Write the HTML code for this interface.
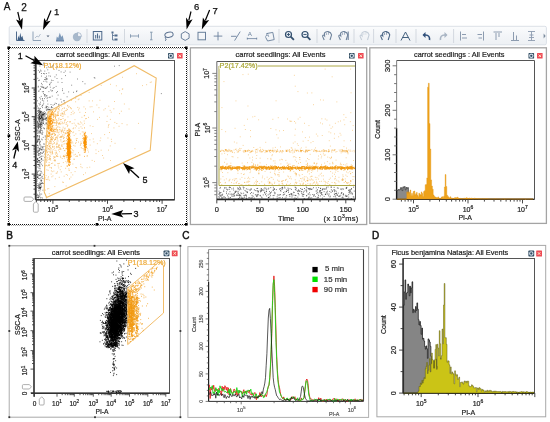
<!DOCTYPE html>
<html><head><meta charset="utf-8"><title>Flow cytometry figure</title>
<style>html,body{margin:0;padding:0;background:#fff;width:550px;height:422px;overflow:hidden}svg{display:block}</style>
</head><body>
<svg width="550" height="422" viewBox="0 0 550 422" font-family="'Liberation Sans', Arial, sans-serif">
<rect x="0" y="0" width="550" height="422" fill="#ffffff" stroke="none" stroke-width="1"/>
<text x="3.8" y="9.9" font-size="10" fill="#111" text-anchor="start" stroke="#111" stroke-width="0.25">A</text>
<text x="6.2" y="238.6" font-size="10" fill="#111" text-anchor="start" stroke="#111" stroke-width="0.45">B</text>
<text x="182.2" y="238.7" font-size="10" fill="#111" text-anchor="start" stroke="#111" stroke-width="0.45">C</text>
<text x="372" y="238.6" font-size="10" fill="#111" text-anchor="start" stroke="#111" stroke-width="0.45">D</text>
<defs><linearGradient id="tb" x1="0" y1="0" x2="0" y2="1"><stop offset="0" stop-color="#fbfcfd"/><stop offset="0.5" stop-color="#f3f5f8"/><stop offset="1" stop-color="#edf0f4"/></linearGradient></defs>
<rect x="9.2" y="26.3" width="537.2" height="18.5" fill="url(#tb)" stroke="#dbe0e7" stroke-width="1" rx="1.5"/>
<line x1="87" y1="29" x2="87" y2="43" stroke="#d3d8df" stroke-width="1"/>
<line x1="124.5" y1="29" x2="124.5" y2="43" stroke="#d3d8df" stroke-width="1"/>
<line x1="279" y1="29" x2="279" y2="43" stroke="#d3d8df" stroke-width="1"/>
<line x1="317" y1="29" x2="317" y2="43" stroke="#d3d8df" stroke-width="1"/>
<line x1="354" y1="29" x2="354" y2="43" stroke="#d3d8df" stroke-width="1"/>
<line x1="373.6" y1="29" x2="373.6" y2="43" stroke="#d3d8df" stroke-width="1"/>
<line x1="396" y1="29" x2="396" y2="43" stroke="#d3d8df" stroke-width="1"/>
<line x1="416" y1="29" x2="416" y2="43" stroke="#d3d8df" stroke-width="1"/>
<line x1="453.6" y1="29" x2="453.6" y2="43" stroke="#d3d8df" stroke-width="1"/>
<path d="M16.5 31.5v9h8" stroke="#4f6a8c" stroke-width="1" fill="none"/>
<path d="M17.5 40.2L18.3 35.5L19.2 38.5L20.3 32.8L21.3 37.5L22.3 35.8L23.5 40.2z" fill="#3f5f86"/>
<path d="M33 31.5v9h8" stroke="#8fa2b8" stroke-width="1" fill="none"/>
<path d="M35 38l2-2 1.5 1 2-3" stroke="#a4b3c4" stroke-width="0.8" fill="none"/>
<path d="M46.5 35.5h3l-1.5 1.8z" fill="#55657a"/>
<path d="M56 41L56.8 36.5L58.2 38L59.8 32.8L61.3 37L62.6 35.3L64 41z" fill="#7d99b9"/>
<path d="M56 41h8" stroke="#5a7598" stroke-width="0.8"/>
<circle cx="77" cy="37" r="4.2" fill="#a7b8cb"/>
<path d="M77.6 36.4V32.4A4.2 4.2 0 0 1 81.6 36.4z" fill="#f4f6f9" stroke="#8fa3ba" stroke-width="0.6"/>
<rect x="93.3" y="31.5" width="8.5" height="8.5" fill="#eef2f6" stroke="#4f6a8c" stroke-width="1"/>
<path d="M95.2 38.5v-3.5h1v3.5zM97 38.5v-5h1v5zM98.8 38.5v-3h1v3z" fill="#4f6a8c"/>
<path d="M111.5 31.5h2v2h-2zM114.5 34.5h3v2h-3zM114.5 38.5h3v2h-3z" fill="#4f6a8c"/>
<path d="M112.5 33.5v6.5h2M112.5 35.5h2" stroke="#4f6a8c" stroke-width="0.8" fill="none"/>
<path d="M130.5 36h8M130.5 34.3v3.4M138.5 34.3v3.4" stroke="#8196ae" stroke-width="0.9" fill="none"/>
<path d="M151.3 32.2v7.6M150 32.2h2.6M150 39.8h2.6" stroke="#8196ae" stroke-width="0.9" fill="none"/>
<ellipse cx="169" cy="34.8" rx="4.2" ry="2.6" transform="rotate(-12 169 34.8)" stroke="#5f7593" stroke-width="1" fill="none"/>
<path d="M165.6 36.4c-0.6 1-0.4 2.2 0.6 2.6l-0.8 1.8" stroke="#5f7593" stroke-width="1" fill="none"/>
<path d="M185.2 31.6l3.9 2.2v4.4l-3.9 2.2-3.9-2.2v-4.4z" stroke="#6a809c" stroke-width="1" fill="none" stroke-linejoin="round"/>
<rect x="198" y="32.3" width="7.5" height="7.5" fill="none" stroke="#6a809c" stroke-width="1"/>
<path d="M218 31.8v8.6M213.7 36.1h8.6" stroke="#6a809c" stroke-width="0.9" fill="none"/>
<path d="M231 36.3h5.5M240.2 31.6l-5.6 9" stroke="#6a809c" stroke-width="0.9" fill="none"/>
<text x="249.8" y="36.4" font-size="6.2" fill="#6a809c" text-anchor="middle" stroke="none">A</text>
<path d="M247 38.6h10M247.3 37.6v2M256.7 37.6v2" stroke="#6a809c" stroke-width="0.8" fill="none"/>
<path d="M266.5 33.6L272.8 32.4L274.2 39.6L267.6 41L265.6 37.2" stroke="#6a809c" stroke-width="0.9" fill="none"/>
<text x="267.3" y="37" font-size="6" fill="#6a809c" text-anchor="middle" stroke="none">A</text>
<circle cx="288.5" cy="34.5" r="3" stroke="#34506f" stroke-width="1.2" fill="#e8eef5"/>
<path d="M290.7 36.7l3.2 3.2" stroke="#34506f" stroke-width="1.8"/>
<path d="M286.9 34.5h3.2" stroke="#34506f" stroke-width="0.9"/>
<path d="M288.5 32.9v3.2" stroke="#34506f" stroke-width="0.9"/>
<circle cx="305" cy="34.5" r="3" stroke="#34506f" stroke-width="1.2" fill="#e8eef5"/>
<path d="M307.2 36.7l3.2 3.2" stroke="#34506f" stroke-width="1.8"/>
<path d="M303.4 34.5h3.2" stroke="#34506f" stroke-width="0.9"/>
<path d="M324.2 40.0L322.6 36.4Q322.4 34.8 323.8 35.2L324.6 36.0L324.4 33.2Q326 31.2 328.2 31.599999999999998Q331 32.2 331.6 34.8L330 40.0" stroke="#6f839c" stroke-width="1.1" fill="none" opacity="1"/>
<path d="M326.4 32.4v2.6M328.4 32.0v2.8" stroke="#6f839c" stroke-width="0.6" opacity="1"/>
<path d="M340.4 40.0L338.8 36.4Q338.59999999999997 34.8 340.0 35.2L340.8 36.0L340.59999999999997 33.2Q342.2 31.2 344.4 31.599999999999998Q347.2 32.2 347.8 34.8L346.2 40.0" stroke="#6f839c" stroke-width="1.1" fill="none" opacity="1"/>
<path d="M342.59999999999997 32.4v2.6M344.59999999999997 32.0v2.8" stroke="#6f839c" stroke-width="0.6" opacity="1"/>
<line x1="348.2" y1="31.5" x2="348.2" y2="40" stroke="#6f839c" stroke-width="1.1"/>
<path d="M361.7 40.0L360.1 36.4Q359.9 34.8 361.3 35.2L362.1 36.0L361.9 33.2Q363.5 31.2 365.7 31.599999999999998Q368.5 32.2 369.1 34.8L367.5 40.0" stroke="#c5ced9" stroke-width="1.1" fill="none" opacity="1"/>
<path d="M363.9 32.4v2.6M365.9 32.0v2.8" stroke="#c5ced9" stroke-width="0.6" opacity="1"/>
<path d="M382.4 40.0L380.8 36.4Q380.59999999999997 34.8 382.0 35.2L382.8 36.0L382.59999999999997 33.2Q384.2 31.2 386.4 31.599999999999998Q389.2 32.2 389.8 34.8L388.2 40.0" stroke="#4a6585" stroke-width="1.1" fill="none" opacity="1"/>
<path d="M384.59999999999997 32.4v2.6M386.59999999999997 32.0v2.8" stroke="#4a6585" stroke-width="0.6" opacity="1"/>
<path d="M401 40.5l4.5-8.5 4.5 8.5M402.5 37.5h6" stroke="#45617f" stroke-width="1" fill="none"/>
<path d="M429.5 40c0.5-3-1-5-4-5h-2" stroke="#2f4f7a" stroke-width="1.6" fill="none"/><path d="M422.5 35l3-3v6z" fill="#2f4f7a"/>
<path d="M440.5 40c-0.5-3 1-5 4-5h2" stroke="#a9b5c4" stroke-width="1.6" fill="none"/><path d="M447.5 35l-3-3v6z" fill="#a9b5c4"/>
<path d="M460.5 31.5v9M462 34.5h4M462 38h5" stroke="#8d9cb0" stroke-width="1" fill="none"/>
<path d="M483.5 31.5v9M477.5 34.5h4.5M478.5 38h3.5" stroke="#8d9cb0" stroke-width="1" fill="none"/>
<path d="M493.5 32h8.5M496 33v7M499 33v4" stroke="#8d9cb0" stroke-width="1" fill="none"/>
<path d="M511 40.5h8M513.5 32v8M516.5 35.5v4.5" stroke="#8d9cb0" stroke-width="1" fill="none"/>
<path d="M528 31.5h7M528 40.5h7M531.5 31.5v9M529.5 35h4M529 37.5h5" stroke="#8d9cb0" stroke-width="0.9" fill="none"/>
<path d="M543.6 33.5l2 2.5-2 2.5z" fill="#7a8a9c"/>
<text x="21.3" y="10.5" font-size="10" fill="#111" text-anchor="start" stroke="#111" stroke-width="0.25">2</text>
<line x1="17.8" y1="12" x2="19.8" y2="20.6" stroke="#000" stroke-width="1.2"/>
<path d="M22.0 29.8L16.0 19.4L19.9 21.0L22.8 17.8z" fill="#000"/>
<text x="54" y="14.5" font-size="9.5" fill="#111" text-anchor="start" stroke="#111" stroke-width="0.25">1</text>
<line x1="51" y1="10.5" x2="46.6" y2="21.2" stroke="#000" stroke-width="1.2"/>
<path d="M43.0 30.0L44.1 18.0L46.4 21.7L50.6 20.7z" fill="#000"/>
<text x="194" y="9.5" font-size="9.5" fill="#111" text-anchor="start" stroke="#111" stroke-width="0.25">6</text>
<line x1="191" y1="11.5" x2="188.8" y2="20.4" stroke="#000" stroke-width="1.2"/>
<path d="M186.6 29.6L186.0 17.6L188.7 20.9L192.6 19.2z" fill="#000"/>
<text x="212.5" y="13.8" font-size="9.5" fill="#111" text-anchor="start" stroke="#111" stroke-width="0.25">7</text>
<line x1="209.6" y1="10" x2="205.3" y2="20.6" stroke="#000" stroke-width="1.2"/>
<path d="M201.8 29.4L202.9 17.5L205.2 21.0L209.2 20.0z" fill="#000"/>
<line x1="8" y1="47.5" x2="187" y2="47.5" stroke="#111" stroke-width="1" stroke-dasharray="1 1"/>
<line x1="8" y1="48.5" x2="187" y2="48.5" stroke="#aaa" stroke-width="1" stroke-dasharray="1 1" stroke-dashoffset="1"/>
<line x1="8" y1="224.5" x2="187" y2="224.5" stroke="#111" stroke-width="1" stroke-dasharray="1 1"/>
<line x1="8" y1="225.5" x2="187" y2="225.5" stroke="#aaa" stroke-width="1" stroke-dasharray="1 1" stroke-dashoffset="1"/>
<line x1="8.5" y1="47" x2="8.5" y2="225" stroke="#111" stroke-width="1" stroke-dasharray="1 1"/>
<line x1="9.5" y1="47" x2="9.5" y2="225" stroke="#bbb" stroke-width="1" stroke-dasharray="1 1" stroke-dashoffset="1"/>
<line x1="186.5" y1="47" x2="186.5" y2="225" stroke="#111" stroke-width="1" stroke-dasharray="1 1"/>
<line x1="187.5" y1="47" x2="187.5" y2="225" stroke="#bbb" stroke-width="1" stroke-dasharray="1 1" stroke-dashoffset="1"/>
<rect x="7.4" y="46.5" width="2.6" height="2.6" fill="#000" stroke="none" stroke-width="1"/>
<rect x="96.2" y="46.5" width="2.6" height="2.6" fill="#000" stroke="none" stroke-width="1"/>
<rect x="185" y="46.5" width="2.6" height="2.6" fill="#000" stroke="none" stroke-width="1"/>
<rect x="7.6" y="134.5" width="2.6" height="2.6" fill="#000" stroke="none" stroke-width="1"/>
<rect x="185" y="134.5" width="2.6" height="2.6" fill="#000" stroke="none" stroke-width="1"/>
<rect x="7.4" y="223" width="2.6" height="2.6" fill="#000" stroke="none" stroke-width="1"/>
<rect x="95.7" y="223" width="2.6" height="2.6" fill="#000" stroke="none" stroke-width="1"/>
<rect x="185" y="223" width="2.6" height="2.6" fill="#000" stroke="none" stroke-width="1"/>
<text x="56" y="57.4" font-size="7.6" fill="#1a1a1a" text-anchor="start" stroke="#1a1a1a" stroke-width="0.2" textLength="88.4" lengthAdjust="spacingAndGlyphs">carrot seedlings: All Events</text>
<rect x="168" y="53" width="5.6" height="5.6" fill="#2e4a5f" stroke="none" stroke-width="1" rx="0.7"/>
<circle cx="170.8" cy="55.8" r="1.7" fill="none" stroke="#d3dfea" stroke-width="1.1"/>
<rect x="177" y="53" width="5.6" height="5.6" fill="#ee4a55" stroke="none" stroke-width="1" rx="0.5"/>
<line x1="178.6" y1="54.6" x2="181" y2="57" stroke="#ffe6c8" stroke-width="1"/>
<line x1="181" y1="54.6" x2="178.6" y2="57" stroke="#ffe6c8" stroke-width="1"/>
<rect x="35.7" y="60.5" width="138.8" height="139.3" fill="none" stroke="#555" stroke-width="1"/>
<line x1="35.7" y1="60.5" x2="35.7" y2="199.8" stroke="#333" stroke-width="1.8"/>
<line x1="35.7" y1="199.8" x2="174.5" y2="199.8" stroke="#333" stroke-width="1.4"/>
<line x1="33.5" y1="194.2" x2="35.7" y2="194.2" stroke="#333" stroke-width="0.9"/>
<line x1="33.5" y1="189.1" x2="35.7" y2="189.1" stroke="#333" stroke-width="0.9"/>
<line x1="33.5" y1="185.5" x2="35.7" y2="185.5" stroke="#333" stroke-width="0.9"/>
<line x1="33.5" y1="182.7" x2="35.7" y2="182.7" stroke="#333" stroke-width="0.9"/>
<line x1="33.5" y1="180.5" x2="35.7" y2="180.5" stroke="#333" stroke-width="0.9"/>
<line x1="33.5" y1="178.5" x2="35.7" y2="178.5" stroke="#333" stroke-width="0.9"/>
<line x1="33.5" y1="176.9" x2="35.7" y2="176.9" stroke="#333" stroke-width="0.9"/>
<line x1="33.5" y1="175.4" x2="35.7" y2="175.4" stroke="#333" stroke-width="0.9"/>
<line x1="31.7" y1="174.1" x2="35.7" y2="174.1" stroke="#333" stroke-width="0.9"/>
<line x1="33.5" y1="165.5" x2="35.7" y2="165.5" stroke="#333" stroke-width="0.9"/>
<line x1="33.5" y1="160.4" x2="35.7" y2="160.4" stroke="#333" stroke-width="0.9"/>
<line x1="33.5" y1="156.8" x2="35.7" y2="156.8" stroke="#333" stroke-width="0.9"/>
<line x1="33.5" y1="154" x2="35.7" y2="154" stroke="#333" stroke-width="0.9"/>
<line x1="33.5" y1="151.8" x2="35.7" y2="151.8" stroke="#333" stroke-width="0.9"/>
<line x1="33.5" y1="149.8" x2="35.7" y2="149.8" stroke="#333" stroke-width="0.9"/>
<line x1="33.5" y1="148.2" x2="35.7" y2="148.2" stroke="#333" stroke-width="0.9"/>
<line x1="33.5" y1="146.7" x2="35.7" y2="146.7" stroke="#333" stroke-width="0.9"/>
<line x1="31.7" y1="145.4" x2="35.7" y2="145.4" stroke="#333" stroke-width="0.9"/>
<line x1="33.5" y1="136.8" x2="35.7" y2="136.8" stroke="#333" stroke-width="0.9"/>
<line x1="33.5" y1="131.7" x2="35.7" y2="131.7" stroke="#333" stroke-width="0.9"/>
<line x1="33.5" y1="128.1" x2="35.7" y2="128.1" stroke="#333" stroke-width="0.9"/>
<line x1="33.5" y1="125.3" x2="35.7" y2="125.3" stroke="#333" stroke-width="0.9"/>
<line x1="33.5" y1="123.1" x2="35.7" y2="123.1" stroke="#333" stroke-width="0.9"/>
<line x1="33.5" y1="121.1" x2="35.7" y2="121.1" stroke="#333" stroke-width="0.9"/>
<line x1="33.5" y1="119.5" x2="35.7" y2="119.5" stroke="#333" stroke-width="0.9"/>
<line x1="33.5" y1="118" x2="35.7" y2="118" stroke="#333" stroke-width="0.9"/>
<line x1="31.7" y1="116.7" x2="35.7" y2="116.7" stroke="#333" stroke-width="0.9"/>
<line x1="33.5" y1="108.1" x2="35.7" y2="108.1" stroke="#333" stroke-width="0.9"/>
<line x1="33.5" y1="103" x2="35.7" y2="103" stroke="#333" stroke-width="0.9"/>
<line x1="33.5" y1="99.4" x2="35.7" y2="99.4" stroke="#333" stroke-width="0.9"/>
<line x1="33.5" y1="96.6" x2="35.7" y2="96.6" stroke="#333" stroke-width="0.9"/>
<line x1="33.5" y1="94.4" x2="35.7" y2="94.4" stroke="#333" stroke-width="0.9"/>
<line x1="33.5" y1="92.4" x2="35.7" y2="92.4" stroke="#333" stroke-width="0.9"/>
<line x1="33.5" y1="90.8" x2="35.7" y2="90.8" stroke="#333" stroke-width="0.9"/>
<line x1="33.5" y1="89.3" x2="35.7" y2="89.3" stroke="#333" stroke-width="0.9"/>
<line x1="31.7" y1="88" x2="35.7" y2="88" stroke="#333" stroke-width="0.9"/>
<line x1="33.5" y1="79.4" x2="35.7" y2="79.4" stroke="#333" stroke-width="0.9"/>
<line x1="33.5" y1="74.3" x2="35.7" y2="74.3" stroke="#333" stroke-width="0.9"/>
<line x1="33.5" y1="70.7" x2="35.7" y2="70.7" stroke="#333" stroke-width="0.9"/>
<line x1="33.5" y1="67.9" x2="35.7" y2="67.9" stroke="#333" stroke-width="0.9"/>
<line x1="33.5" y1="65.7" x2="35.7" y2="65.7" stroke="#333" stroke-width="0.9"/>
<line x1="33.5" y1="63.7" x2="35.7" y2="63.7" stroke="#333" stroke-width="0.9"/>
<line x1="33.5" y1="62.1" x2="35.7" y2="62.1" stroke="#333" stroke-width="0.9"/>
<line x1="33.5" y1="60.6" x2="35.7" y2="60.6" stroke="#333" stroke-width="0.9"/>
<line x1="31.7" y1="59.3" x2="35.7" y2="59.3" stroke="#333" stroke-width="0.9"/>
<line x1="36.5" y1="199.8" x2="36.5" y2="202" stroke="#333" stroke-width="0.9"/>
<line x1="40.8" y1="199.8" x2="40.8" y2="202" stroke="#333" stroke-width="0.9"/>
<line x1="44.4" y1="199.8" x2="44.4" y2="202" stroke="#333" stroke-width="0.9"/>
<line x1="47.6" y1="199.8" x2="47.6" y2="202" stroke="#333" stroke-width="0.9"/>
<line x1="50.4" y1="199.8" x2="50.4" y2="202" stroke="#333" stroke-width="0.9"/>
<line x1="52.9" y1="199.8" x2="52.9" y2="203.8" stroke="#333" stroke-width="0.9"/>
<line x1="69.3" y1="199.8" x2="69.3" y2="202" stroke="#333" stroke-width="0.9"/>
<line x1="79" y1="199.8" x2="79" y2="202" stroke="#333" stroke-width="0.9"/>
<line x1="85.8" y1="199.8" x2="85.8" y2="202" stroke="#333" stroke-width="0.9"/>
<line x1="91.1" y1="199.8" x2="91.1" y2="202" stroke="#333" stroke-width="0.9"/>
<line x1="95.4" y1="199.8" x2="95.4" y2="202" stroke="#333" stroke-width="0.9"/>
<line x1="99" y1="199.8" x2="99" y2="202" stroke="#333" stroke-width="0.9"/>
<line x1="102.2" y1="199.8" x2="102.2" y2="202" stroke="#333" stroke-width="0.9"/>
<line x1="105" y1="199.8" x2="105" y2="202" stroke="#333" stroke-width="0.9"/>
<line x1="107.5" y1="199.8" x2="107.5" y2="203.8" stroke="#333" stroke-width="0.9"/>
<line x1="123.9" y1="199.8" x2="123.9" y2="202" stroke="#333" stroke-width="0.9"/>
<line x1="133.6" y1="199.8" x2="133.6" y2="202" stroke="#333" stroke-width="0.9"/>
<line x1="140.4" y1="199.8" x2="140.4" y2="202" stroke="#333" stroke-width="0.9"/>
<line x1="145.7" y1="199.8" x2="145.7" y2="202" stroke="#333" stroke-width="0.9"/>
<line x1="150" y1="199.8" x2="150" y2="202" stroke="#333" stroke-width="0.9"/>
<line x1="153.6" y1="199.8" x2="153.6" y2="202" stroke="#333" stroke-width="0.9"/>
<line x1="156.8" y1="199.8" x2="156.8" y2="202" stroke="#333" stroke-width="0.9"/>
<line x1="159.6" y1="199.8" x2="159.6" y2="202" stroke="#333" stroke-width="0.9"/>
<line x1="162.1" y1="199.8" x2="162.1" y2="203.8" stroke="#333" stroke-width="0.9"/>
<text x="29.3" y="174.1" font-size="7" fill="#222" stroke="#222" stroke-width="0.2" text-anchor="middle" transform="rotate(-90 29.3 174.1)">10<tspan font-size="5.0" dy="-2.9">3</tspan></text>
<text x="29.3" y="145.4" font-size="7" fill="#222" stroke="#222" stroke-width="0.2" text-anchor="middle" transform="rotate(-90 29.3 145.4)">10<tspan font-size="5.0" dy="-2.9">4</tspan></text>
<text x="29.3" y="116.7" font-size="7" fill="#222" stroke="#222" stroke-width="0.2" text-anchor="middle" transform="rotate(-90 29.3 116.7)">10<tspan font-size="5.0" dy="-2.9">5</tspan></text>
<text x="29.3" y="88" font-size="7" fill="#222" stroke="#222" stroke-width="0.2" text-anchor="middle" transform="rotate(-90 29.3 88)">10<tspan font-size="5.0" dy="-2.9">6</tspan></text>
<text x="52.9" y="212" font-size="7" fill="#222" stroke="#222" stroke-width="0.2" text-anchor="middle">10<tspan font-size="5.0" dy="-2.9">5</tspan></text>
<text x="107.5" y="212" font-size="7" fill="#222" stroke="#222" stroke-width="0.2" text-anchor="middle">10<tspan font-size="5.0" dy="-2.9">6</tspan></text>
<text x="162.1" y="212" font-size="7" fill="#222" stroke="#222" stroke-width="0.2" text-anchor="middle">10<tspan font-size="5.0" dy="-2.9">7</tspan></text>
<text x="19.5" y="130" font-size="7" fill="#222" text-anchor="middle" stroke="#222" stroke-width="0.2" transform="rotate(-90 19.5 130)">SSC-A</text>
<text x="104.7" y="220.7" font-size="7" fill="#222" text-anchor="middle" stroke="#222" stroke-width="0.2">PI-A</text>
<path d="M25 197H31.6L33.7 199.2L31.6 201.4H25Q24 201.4 24 200.4V198Q24 197 25 197z" fill="#fff" stroke="#9a9a9a" stroke-width="0.8"/>
<path d="M33.4 211.2V204L35.8 201.6L38.2 204V211.2Q38.2 212.2 37.2 212.2H34.4Q33.4 212.2 33.4 211.2z" fill="#fff" stroke="#9a9a9a" stroke-width="0.8"/>
<rect x="190.4" y="47.8" width="176.3" height="176.7" fill="none" stroke="#a4a4a4" stroke-width="1.3"/>
<text x="235.5" y="57.4" font-size="7.6" fill="#1a1a1a" text-anchor="start" stroke="#1a1a1a" stroke-width="0.2" textLength="90" lengthAdjust="spacingAndGlyphs">carrot seedlings: All Events</text>
<rect x="349" y="53" width="5.6" height="5.6" fill="#2e4a5f" stroke="none" stroke-width="1" rx="0.7"/>
<circle cx="351.8" cy="55.8" r="1.7" fill="none" stroke="#d3dfea" stroke-width="1.1"/>
<rect x="358" y="53" width="5.6" height="5.6" fill="#ee4a55" stroke="none" stroke-width="1" rx="0.5"/>
<line x1="359.6" y1="54.6" x2="362" y2="57" stroke="#ffe6c8" stroke-width="1"/>
<line x1="362" y1="54.6" x2="359.6" y2="57" stroke="#ffe6c8" stroke-width="1"/>
<path d="M216.8 61.5H355.5V199.4" fill="none" stroke="#555" stroke-width="1"/>
<line x1="216.8" y1="61.5" x2="216.8" y2="199.4" stroke="#808080" stroke-width="1.2"/>
<line x1="216.8" y1="199.4" x2="355.5" y2="199.4" stroke="#222" stroke-width="1.6"/>
<line x1="214.3" y1="194.7" x2="216.8" y2="194.7" stroke="#777" stroke-width="0.9"/>
<line x1="214.3" y1="191.1" x2="216.8" y2="191.1" stroke="#777" stroke-width="0.9"/>
<line x1="214.3" y1="187.9" x2="216.8" y2="187.9" stroke="#777" stroke-width="0.9"/>
<line x1="214.3" y1="185.1" x2="216.8" y2="185.1" stroke="#777" stroke-width="0.9"/>
<line x1="212.3" y1="182.6" x2="216.8" y2="182.6" stroke="#777" stroke-width="0.9"/>
<line x1="214.3" y1="166.2" x2="216.8" y2="166.2" stroke="#777" stroke-width="0.9"/>
<line x1="214.3" y1="156.5" x2="216.8" y2="156.5" stroke="#777" stroke-width="0.9"/>
<line x1="214.3" y1="149.7" x2="216.8" y2="149.7" stroke="#777" stroke-width="0.9"/>
<line x1="214.3" y1="144.4" x2="216.8" y2="144.4" stroke="#777" stroke-width="0.9"/>
<line x1="214.3" y1="140.1" x2="216.8" y2="140.1" stroke="#777" stroke-width="0.9"/>
<line x1="214.3" y1="136.5" x2="216.8" y2="136.5" stroke="#777" stroke-width="0.9"/>
<line x1="214.3" y1="133.3" x2="216.8" y2="133.3" stroke="#777" stroke-width="0.9"/>
<line x1="214.3" y1="130.5" x2="216.8" y2="130.5" stroke="#777" stroke-width="0.9"/>
<line x1="212.3" y1="128" x2="216.8" y2="128" stroke="#777" stroke-width="0.9"/>
<line x1="214.3" y1="111.6" x2="216.8" y2="111.6" stroke="#777" stroke-width="0.9"/>
<line x1="214.3" y1="101.9" x2="216.8" y2="101.9" stroke="#777" stroke-width="0.9"/>
<line x1="214.3" y1="95.1" x2="216.8" y2="95.1" stroke="#777" stroke-width="0.9"/>
<line x1="214.3" y1="89.8" x2="216.8" y2="89.8" stroke="#777" stroke-width="0.9"/>
<line x1="214.3" y1="85.5" x2="216.8" y2="85.5" stroke="#777" stroke-width="0.9"/>
<line x1="214.3" y1="81.9" x2="216.8" y2="81.9" stroke="#777" stroke-width="0.9"/>
<line x1="214.3" y1="78.7" x2="216.8" y2="78.7" stroke="#777" stroke-width="0.9"/>
<line x1="214.3" y1="75.9" x2="216.8" y2="75.9" stroke="#777" stroke-width="0.9"/>
<line x1="212.3" y1="73.4" x2="216.8" y2="73.4" stroke="#777" stroke-width="0.9"/>
<line x1="216.8" y1="199.4" x2="216.8" y2="203.4" stroke="#333" stroke-width="0.9"/>
<line x1="225.4" y1="199.4" x2="225.4" y2="201.9" stroke="#333" stroke-width="0.9"/>
<line x1="234" y1="199.4" x2="234" y2="201.9" stroke="#333" stroke-width="0.9"/>
<line x1="242.6" y1="199.4" x2="242.6" y2="201.9" stroke="#333" stroke-width="0.9"/>
<line x1="251.2" y1="199.4" x2="251.2" y2="201.9" stroke="#333" stroke-width="0.9"/>
<line x1="259.8" y1="199.4" x2="259.8" y2="203.4" stroke="#333" stroke-width="0.9"/>
<line x1="268.4" y1="199.4" x2="268.4" y2="201.9" stroke="#333" stroke-width="0.9"/>
<line x1="277" y1="199.4" x2="277" y2="201.9" stroke="#333" stroke-width="0.9"/>
<line x1="285.6" y1="199.4" x2="285.6" y2="201.9" stroke="#333" stroke-width="0.9"/>
<line x1="294.2" y1="199.4" x2="294.2" y2="201.9" stroke="#333" stroke-width="0.9"/>
<line x1="302.8" y1="199.4" x2="302.8" y2="203.4" stroke="#333" stroke-width="0.9"/>
<line x1="311.4" y1="199.4" x2="311.4" y2="201.9" stroke="#333" stroke-width="0.9"/>
<line x1="320" y1="199.4" x2="320" y2="201.9" stroke="#333" stroke-width="0.9"/>
<line x1="328.6" y1="199.4" x2="328.6" y2="201.9" stroke="#333" stroke-width="0.9"/>
<line x1="337.2" y1="199.4" x2="337.2" y2="201.9" stroke="#333" stroke-width="0.9"/>
<line x1="345.8" y1="199.4" x2="345.8" y2="203.4" stroke="#333" stroke-width="0.9"/>
<line x1="354.4" y1="199.4" x2="354.4" y2="201.9" stroke="#333" stroke-width="0.9"/>
<text x="209.5" y="182.6" font-size="7" fill="#222" stroke="#222" stroke-width="0.2" text-anchor="middle" transform="rotate(-90 209.5 182.6)">10<tspan font-size="5.0" dy="-2.9">5</tspan></text>
<text x="209.5" y="128" font-size="7" fill="#222" stroke="#222" stroke-width="0.2" text-anchor="middle" transform="rotate(-90 209.5 128)">10<tspan font-size="5.0" dy="-2.9">6</tspan></text>
<text x="209.5" y="73.4" font-size="7" fill="#222" stroke="#222" stroke-width="0.2" text-anchor="middle" transform="rotate(-90 209.5 73.4)">10<tspan font-size="5.0" dy="-2.9">7</tspan></text>
<text x="216.8" y="212.3" font-size="7.5" fill="#222" text-anchor="middle" stroke="#222" stroke-width="0.2">0</text>
<text x="259.8" y="212.3" font-size="7.5" fill="#222" text-anchor="middle" stroke="#222" stroke-width="0.2">50</text>
<text x="302.8" y="212.3" font-size="7.5" fill="#222" text-anchor="middle" stroke="#222" stroke-width="0.2">100</text>
<text x="345.8" y="212.3" font-size="7.5" fill="#222" text-anchor="middle" stroke="#222" stroke-width="0.2">150</text>
<text x="200.5" y="129.6" font-size="7" fill="#222" text-anchor="middle" stroke="#222" stroke-width="0.2" transform="rotate(-90 200.5 129.6)">PI-A</text>
<text x="286.3" y="221.3" font-size="7.5" fill="#222" text-anchor="middle" stroke="#222" stroke-width="0.2">Time</text>
<text x="323.6" y="221.3" font-size="7.5" fill="#222" stroke="#222" stroke-width="0.2" letter-spacing="0.35">(x 10<tspan font-size="5" dy="-3">3</tspan><tspan dy="3">ms)</tspan></text>
<rect x="369.8" y="47.8" width="176.6" height="175.6" fill="none" stroke="#a4a4a4" stroke-width="1.3"/>
<text x="414" y="57.4" font-size="7.6" fill="#1a1a1a" text-anchor="start" stroke="#1a1a1a" stroke-width="0.2" textLength="90.5" lengthAdjust="spacingAndGlyphs">carrot seedlings : All Events</text>
<rect x="528.5" y="53" width="5.6" height="5.6" fill="#2e4a5f" stroke="none" stroke-width="1" rx="0.7"/>
<circle cx="531.3" cy="55.8" r="1.7" fill="none" stroke="#d3dfea" stroke-width="1.1"/>
<rect x="537" y="53" width="5.6" height="5.6" fill="#ee4a55" stroke="none" stroke-width="1" rx="0.5"/>
<line x1="538.6" y1="54.6" x2="541" y2="57" stroke="#ffe6c8" stroke-width="1"/>
<line x1="541" y1="54.6" x2="538.6" y2="57" stroke="#ffe6c8" stroke-width="1"/>
<path d="M396.6 60.5H534.5V199.4" fill="none" stroke="#555" stroke-width="1"/>
<line x1="396.6" y1="60.5" x2="396.6" y2="128.2" stroke="#8a8a8a" stroke-width="1.1"/>
<line x1="396.6" y1="128.2" x2="396.6" y2="199.4" stroke="#111" stroke-width="1.4"/>
<line x1="396.6" y1="199.4" x2="534.5" y2="199.4" stroke="#222" stroke-width="1.4"/>
<line x1="392.6" y1="199.2" x2="396.6" y2="199.2" stroke="#666" stroke-width="0.9"/>
<line x1="394.1" y1="190.3" x2="396.6" y2="190.3" stroke="#666" stroke-width="0.9"/>
<line x1="394.1" y1="181.4" x2="396.6" y2="181.4" stroke="#666" stroke-width="0.9"/>
<line x1="394.1" y1="172.5" x2="396.6" y2="172.5" stroke="#666" stroke-width="0.9"/>
<line x1="394.1" y1="163.6" x2="396.6" y2="163.6" stroke="#666" stroke-width="0.9"/>
<line x1="392.6" y1="154.8" x2="396.6" y2="154.8" stroke="#666" stroke-width="0.9"/>
<line x1="394.1" y1="145.9" x2="396.6" y2="145.9" stroke="#666" stroke-width="0.9"/>
<line x1="394.1" y1="137" x2="396.6" y2="137" stroke="#666" stroke-width="0.9"/>
<line x1="394.1" y1="128.1" x2="396.6" y2="128.1" stroke="#666" stroke-width="0.9"/>
<line x1="394.1" y1="119.2" x2="396.6" y2="119.2" stroke="#666" stroke-width="0.9"/>
<line x1="392.6" y1="110.3" x2="396.6" y2="110.3" stroke="#666" stroke-width="0.9"/>
<line x1="394.1" y1="101.4" x2="396.6" y2="101.4" stroke="#666" stroke-width="0.9"/>
<line x1="394.1" y1="92.5" x2="396.6" y2="92.5" stroke="#666" stroke-width="0.9"/>
<line x1="394.1" y1="83.6" x2="396.6" y2="83.6" stroke="#666" stroke-width="0.9"/>
<line x1="394.1" y1="74.7" x2="396.6" y2="74.7" stroke="#666" stroke-width="0.9"/>
<line x1="392.6" y1="65.8" x2="396.6" y2="65.8" stroke="#666" stroke-width="0.9"/>
<line x1="401.4" y1="199.4" x2="401.4" y2="201.6" stroke="#333" stroke-width="0.9"/>
<line x1="405.1" y1="199.4" x2="405.1" y2="201.6" stroke="#333" stroke-width="0.9"/>
<line x1="408.2" y1="199.4" x2="408.2" y2="201.6" stroke="#333" stroke-width="0.9"/>
<line x1="411" y1="199.4" x2="411" y2="201.6" stroke="#333" stroke-width="0.9"/>
<line x1="413.5" y1="199.4" x2="413.5" y2="203.4" stroke="#333" stroke-width="0.9"/>
<line x1="429.9" y1="199.4" x2="429.9" y2="201.6" stroke="#333" stroke-width="0.9"/>
<line x1="439.5" y1="199.4" x2="439.5" y2="201.6" stroke="#333" stroke-width="0.9"/>
<line x1="446.3" y1="199.4" x2="446.3" y2="201.6" stroke="#333" stroke-width="0.9"/>
<line x1="451.6" y1="199.4" x2="451.6" y2="201.6" stroke="#333" stroke-width="0.9"/>
<line x1="455.9" y1="199.4" x2="455.9" y2="201.6" stroke="#333" stroke-width="0.9"/>
<line x1="459.6" y1="199.4" x2="459.6" y2="201.6" stroke="#333" stroke-width="0.9"/>
<line x1="462.7" y1="199.4" x2="462.7" y2="201.6" stroke="#333" stroke-width="0.9"/>
<line x1="465.5" y1="199.4" x2="465.5" y2="201.6" stroke="#333" stroke-width="0.9"/>
<line x1="468" y1="199.4" x2="468" y2="203.4" stroke="#333" stroke-width="0.9"/>
<line x1="484.4" y1="199.4" x2="484.4" y2="201.6" stroke="#333" stroke-width="0.9"/>
<line x1="494" y1="199.4" x2="494" y2="201.6" stroke="#333" stroke-width="0.9"/>
<line x1="500.8" y1="199.4" x2="500.8" y2="201.6" stroke="#333" stroke-width="0.9"/>
<line x1="506.1" y1="199.4" x2="506.1" y2="201.6" stroke="#333" stroke-width="0.9"/>
<line x1="510.4" y1="199.4" x2="510.4" y2="201.6" stroke="#333" stroke-width="0.9"/>
<line x1="514.1" y1="199.4" x2="514.1" y2="201.6" stroke="#333" stroke-width="0.9"/>
<line x1="517.2" y1="199.4" x2="517.2" y2="201.6" stroke="#333" stroke-width="0.9"/>
<line x1="520" y1="199.4" x2="520" y2="201.6" stroke="#333" stroke-width="0.9"/>
<line x1="522.5" y1="199.4" x2="522.5" y2="203.4" stroke="#333" stroke-width="0.9"/>
<text x="389.8" y="199.2" font-size="7.5" fill="#222" text-anchor="middle" stroke="#222" stroke-width="0.2" transform="rotate(-90 389.8 199.2)">0</text>
<text x="389.8" y="154.8" font-size="7.5" fill="#222" text-anchor="middle" stroke="#222" stroke-width="0.2" transform="rotate(-90 389.8 154.8)">100</text>
<text x="389.8" y="110.3" font-size="7.5" fill="#222" text-anchor="middle" stroke="#222" stroke-width="0.2" transform="rotate(-90 389.8 110.3)">200</text>
<text x="389.8" y="65.8" font-size="7.5" fill="#222" text-anchor="middle" stroke="#222" stroke-width="0.2" transform="rotate(-90 389.8 65.8)">300</text>
<text x="413.5" y="211.5" font-size="7" fill="#222" stroke="#222" stroke-width="0.2" text-anchor="middle">10<tspan font-size="5.0" dy="-2.9">5</tspan></text>
<text x="468" y="211.5" font-size="7" fill="#222" stroke="#222" stroke-width="0.2" text-anchor="middle">10<tspan font-size="5.0" dy="-2.9">6</tspan></text>
<text x="522.5" y="211.5" font-size="7" fill="#222" stroke="#222" stroke-width="0.2" text-anchor="middle">10<tspan font-size="5.0" dy="-2.9">7</tspan></text>
<text x="379.6" y="129.5" font-size="7" fill="#222" text-anchor="middle" stroke="#222" stroke-width="0.2" transform="rotate(-90 379.6 129.5)">Count</text>
<text x="465.2" y="220" font-size="7" fill="#222" text-anchor="middle" stroke="#222" stroke-width="0.2">PI-A</text>
<line x1="9.1" y1="245.8" x2="180.4" y2="245.8" stroke="#9a9a9a" stroke-width="1"/>
<line x1="9.3" y1="245.8" x2="9.3" y2="417.2" stroke="#c4c4c4" stroke-width="1.4"/>
<line x1="180.4" y1="245.8" x2="180.4" y2="417.2" stroke="#a0a0a0" stroke-width="1"/>
<line x1="9.1" y1="417.2" x2="180.4" y2="417.2" stroke="#a8a8a8" stroke-width="1"/>
<rect x="8.4" y="244.9" width="1.8" height="1.8" fill="#333" stroke="none" stroke-width="1"/>
<rect x="93.6" y="244.9" width="1.8" height="1.8" fill="#333" stroke="none" stroke-width="1"/>
<rect x="179.5" y="244.9" width="1.8" height="1.8" fill="#333" stroke="none" stroke-width="1"/>
<rect x="8.4" y="330.1" width="1.8" height="1.8" fill="#333" stroke="none" stroke-width="1"/>
<rect x="179.5" y="330.1" width="1.8" height="1.8" fill="#333" stroke="none" stroke-width="1"/>
<rect x="8.4" y="416.3" width="1.8" height="1.8" fill="#333" stroke="none" stroke-width="1"/>
<rect x="94.1" y="416.3" width="1.8" height="1.8" fill="#333" stroke="none" stroke-width="1"/>
<rect x="179.5" y="416.3" width="1.8" height="1.8" fill="#333" stroke="none" stroke-width="1"/>
<text x="51.8" y="255.3" font-size="7.3" fill="#1a1a1a" text-anchor="start" stroke="#1a1a1a" stroke-width="0.2" textLength="88.2" lengthAdjust="spacingAndGlyphs">carrot seedlings: All Events</text>
<rect x="163.6" y="250.5" width="5.8" height="5.8" fill="#2e4a5f" stroke="none" stroke-width="1" rx="0.7"/>
<circle cx="166.5" cy="253.4" r="1.7" fill="none" stroke="#d3dfea" stroke-width="1.1"/>
<rect x="171.8" y="250.5" width="5.8" height="5.8" fill="#ee4a55" stroke="none" stroke-width="1" rx="0.5"/>
<line x1="173.4" y1="252.1" x2="176" y2="254.7" stroke="#ffe6c8" stroke-width="1"/>
<line x1="176" y1="252.1" x2="173.4" y2="254.7" stroke="#ffe6c8" stroke-width="1"/>
<rect x="34" y="258.5" width="135.5" height="134.7" fill="none" stroke="#555" stroke-width="1"/>
<line x1="34" y1="258.5" x2="34" y2="396.7" stroke="#333" stroke-width="1.4"/>
<line x1="31" y1="393.2" x2="169.5" y2="393.2" stroke="#333" stroke-width="1.4"/>
<line x1="30.5" y1="369.1" x2="34" y2="369.1" stroke="#333" stroke-width="0.8"/>
<line x1="57" y1="393.2" x2="57" y2="396.7" stroke="#333" stroke-width="0.8"/>
<line x1="32" y1="363.5" x2="34" y2="363.5" stroke="#333" stroke-width="0.8"/>
<line x1="62.2" y1="393.2" x2="62.2" y2="395.2" stroke="#333" stroke-width="0.8"/>
<line x1="32" y1="360.3" x2="34" y2="360.3" stroke="#333" stroke-width="0.8"/>
<line x1="65.3" y1="393.2" x2="65.3" y2="395.2" stroke="#333" stroke-width="0.8"/>
<line x1="32" y1="358" x2="34" y2="358" stroke="#333" stroke-width="0.8"/>
<line x1="67.4" y1="393.2" x2="67.4" y2="395.2" stroke="#333" stroke-width="0.8"/>
<line x1="32" y1="356.2" x2="34" y2="356.2" stroke="#333" stroke-width="0.8"/>
<line x1="69.1" y1="393.2" x2="69.1" y2="395.2" stroke="#333" stroke-width="0.8"/>
<line x1="32" y1="354.7" x2="34" y2="354.7" stroke="#333" stroke-width="0.8"/>
<line x1="70.5" y1="393.2" x2="70.5" y2="395.2" stroke="#333" stroke-width="0.8"/>
<line x1="32" y1="353.5" x2="34" y2="353.5" stroke="#333" stroke-width="0.8"/>
<line x1="71.6" y1="393.2" x2="71.6" y2="395.2" stroke="#333" stroke-width="0.8"/>
<line x1="32" y1="352.4" x2="34" y2="352.4" stroke="#333" stroke-width="0.8"/>
<line x1="72.6" y1="393.2" x2="72.6" y2="395.2" stroke="#333" stroke-width="0.8"/>
<line x1="32" y1="351.4" x2="34" y2="351.4" stroke="#333" stroke-width="0.8"/>
<line x1="73.5" y1="393.2" x2="73.5" y2="395.2" stroke="#333" stroke-width="0.8"/>
<line x1="30.5" y1="350.6" x2="34" y2="350.6" stroke="#333" stroke-width="0.8"/>
<line x1="74.3" y1="393.2" x2="74.3" y2="396.7" stroke="#333" stroke-width="0.8"/>
<line x1="32" y1="344.6" x2="34" y2="344.6" stroke="#333" stroke-width="0.8"/>
<line x1="80" y1="393.2" x2="80" y2="395.2" stroke="#333" stroke-width="0.8"/>
<line x1="32" y1="341.1" x2="34" y2="341.1" stroke="#333" stroke-width="0.8"/>
<line x1="83.4" y1="393.2" x2="83.4" y2="395.2" stroke="#333" stroke-width="0.8"/>
<line x1="32" y1="338.6" x2="34" y2="338.6" stroke="#333" stroke-width="0.8"/>
<line x1="85.7" y1="393.2" x2="85.7" y2="395.2" stroke="#333" stroke-width="0.8"/>
<line x1="32" y1="336.7" x2="34" y2="336.7" stroke="#333" stroke-width="0.8"/>
<line x1="87.6" y1="393.2" x2="87.6" y2="395.2" stroke="#333" stroke-width="0.8"/>
<line x1="32" y1="335.1" x2="34" y2="335.1" stroke="#333" stroke-width="0.8"/>
<line x1="89.1" y1="393.2" x2="89.1" y2="395.2" stroke="#333" stroke-width="0.8"/>
<line x1="32" y1="333.8" x2="34" y2="333.8" stroke="#333" stroke-width="0.8"/>
<line x1="90.4" y1="393.2" x2="90.4" y2="395.2" stroke="#333" stroke-width="0.8"/>
<line x1="32" y1="332.6" x2="34" y2="332.6" stroke="#333" stroke-width="0.8"/>
<line x1="91.5" y1="393.2" x2="91.5" y2="395.2" stroke="#333" stroke-width="0.8"/>
<line x1="32" y1="331.6" x2="34" y2="331.6" stroke="#333" stroke-width="0.8"/>
<line x1="92.4" y1="393.2" x2="92.4" y2="395.2" stroke="#333" stroke-width="0.8"/>
<line x1="30.5" y1="330.7" x2="34" y2="330.7" stroke="#333" stroke-width="0.8"/>
<line x1="93.3" y1="393.2" x2="93.3" y2="396.7" stroke="#333" stroke-width="0.8"/>
<line x1="32" y1="324.8" x2="34" y2="324.8" stroke="#333" stroke-width="0.8"/>
<line x1="98.7" y1="393.2" x2="98.7" y2="395.2" stroke="#333" stroke-width="0.8"/>
<line x1="32" y1="321.3" x2="34" y2="321.3" stroke="#333" stroke-width="0.8"/>
<line x1="101.8" y1="393.2" x2="101.8" y2="395.2" stroke="#333" stroke-width="0.8"/>
<line x1="32" y1="318.9" x2="34" y2="318.9" stroke="#333" stroke-width="0.8"/>
<line x1="104.1" y1="393.2" x2="104.1" y2="395.2" stroke="#333" stroke-width="0.8"/>
<line x1="32" y1="317" x2="34" y2="317" stroke="#333" stroke-width="0.8"/>
<line x1="105.8" y1="393.2" x2="105.8" y2="395.2" stroke="#333" stroke-width="0.8"/>
<line x1="32" y1="315.4" x2="34" y2="315.4" stroke="#333" stroke-width="0.8"/>
<line x1="107.2" y1="393.2" x2="107.2" y2="395.2" stroke="#333" stroke-width="0.8"/>
<line x1="32" y1="314.1" x2="34" y2="314.1" stroke="#333" stroke-width="0.8"/>
<line x1="108.4" y1="393.2" x2="108.4" y2="395.2" stroke="#333" stroke-width="0.8"/>
<line x1="32" y1="313" x2="34" y2="313" stroke="#333" stroke-width="0.8"/>
<line x1="109.5" y1="393.2" x2="109.5" y2="395.2" stroke="#333" stroke-width="0.8"/>
<line x1="32" y1="312" x2="34" y2="312" stroke="#333" stroke-width="0.8"/>
<line x1="110.4" y1="393.2" x2="110.4" y2="395.2" stroke="#333" stroke-width="0.8"/>
<line x1="30.5" y1="311.1" x2="34" y2="311.1" stroke="#333" stroke-width="0.8"/>
<line x1="111.2" y1="393.2" x2="111.2" y2="396.7" stroke="#333" stroke-width="0.8"/>
<line x1="32" y1="305.6" x2="34" y2="305.6" stroke="#333" stroke-width="0.8"/>
<line x1="116.7" y1="393.2" x2="116.7" y2="395.2" stroke="#333" stroke-width="0.8"/>
<line x1="32" y1="302.3" x2="34" y2="302.3" stroke="#333" stroke-width="0.8"/>
<line x1="119.9" y1="393.2" x2="119.9" y2="395.2" stroke="#333" stroke-width="0.8"/>
<line x1="32" y1="300" x2="34" y2="300" stroke="#333" stroke-width="0.8"/>
<line x1="122.2" y1="393.2" x2="122.2" y2="395.2" stroke="#333" stroke-width="0.8"/>
<line x1="32" y1="298.2" x2="34" y2="298.2" stroke="#333" stroke-width="0.8"/>
<line x1="124" y1="393.2" x2="124" y2="395.2" stroke="#333" stroke-width="0.8"/>
<line x1="32" y1="296.8" x2="34" y2="296.8" stroke="#333" stroke-width="0.8"/>
<line x1="125.4" y1="393.2" x2="125.4" y2="395.2" stroke="#333" stroke-width="0.8"/>
<line x1="32" y1="295.6" x2="34" y2="295.6" stroke="#333" stroke-width="0.8"/>
<line x1="126.7" y1="393.2" x2="126.7" y2="395.2" stroke="#333" stroke-width="0.8"/>
<line x1="32" y1="294.5" x2="34" y2="294.5" stroke="#333" stroke-width="0.8"/>
<line x1="127.7" y1="393.2" x2="127.7" y2="395.2" stroke="#333" stroke-width="0.8"/>
<line x1="32" y1="293.5" x2="34" y2="293.5" stroke="#333" stroke-width="0.8"/>
<line x1="128.7" y1="393.2" x2="128.7" y2="395.2" stroke="#333" stroke-width="0.8"/>
<line x1="30.5" y1="292.7" x2="34" y2="292.7" stroke="#333" stroke-width="0.8"/>
<line x1="129.5" y1="393.2" x2="129.5" y2="396.7" stroke="#333" stroke-width="0.8"/>
<line x1="32" y1="287" x2="34" y2="287" stroke="#333" stroke-width="0.8"/>
<line x1="135" y1="393.2" x2="135" y2="395.2" stroke="#333" stroke-width="0.8"/>
<line x1="32" y1="283.7" x2="34" y2="283.7" stroke="#333" stroke-width="0.8"/>
<line x1="138.2" y1="393.2" x2="138.2" y2="395.2" stroke="#333" stroke-width="0.8"/>
<line x1="32" y1="281.3" x2="34" y2="281.3" stroke="#333" stroke-width="0.8"/>
<line x1="140.5" y1="393.2" x2="140.5" y2="395.2" stroke="#333" stroke-width="0.8"/>
<line x1="32" y1="279.5" x2="34" y2="279.5" stroke="#333" stroke-width="0.8"/>
<line x1="142.3" y1="393.2" x2="142.3" y2="395.2" stroke="#333" stroke-width="0.8"/>
<line x1="32" y1="278" x2="34" y2="278" stroke="#333" stroke-width="0.8"/>
<line x1="143.7" y1="393.2" x2="143.7" y2="395.2" stroke="#333" stroke-width="0.8"/>
<line x1="32" y1="276.7" x2="34" y2="276.7" stroke="#333" stroke-width="0.8"/>
<line x1="145" y1="393.2" x2="145" y2="395.2" stroke="#333" stroke-width="0.8"/>
<line x1="32" y1="275.6" x2="34" y2="275.6" stroke="#333" stroke-width="0.8"/>
<line x1="146" y1="393.2" x2="146" y2="395.2" stroke="#333" stroke-width="0.8"/>
<line x1="32" y1="274.7" x2="34" y2="274.7" stroke="#333" stroke-width="0.8"/>
<line x1="147" y1="393.2" x2="147" y2="395.2" stroke="#333" stroke-width="0.8"/>
<line x1="30.5" y1="273.8" x2="34" y2="273.8" stroke="#333" stroke-width="0.8"/>
<line x1="147.8" y1="393.2" x2="147.8" y2="396.7" stroke="#333" stroke-width="0.8"/>
<line x1="32" y1="268.1" x2="34" y2="268.1" stroke="#333" stroke-width="0.8"/>
<line x1="153.2" y1="393.2" x2="153.2" y2="395.2" stroke="#333" stroke-width="0.8"/>
<line x1="32" y1="264.7" x2="34" y2="264.7" stroke="#333" stroke-width="0.8"/>
<line x1="156.4" y1="393.2" x2="156.4" y2="395.2" stroke="#333" stroke-width="0.8"/>
<line x1="32" y1="262.4" x2="34" y2="262.4" stroke="#333" stroke-width="0.8"/>
<line x1="158.6" y1="393.2" x2="158.6" y2="395.2" stroke="#333" stroke-width="0.8"/>
<line x1="32" y1="260.5" x2="34" y2="260.5" stroke="#333" stroke-width="0.8"/>
<line x1="160.4" y1="393.2" x2="160.4" y2="395.2" stroke="#333" stroke-width="0.8"/>
<line x1="32" y1="259" x2="34" y2="259" stroke="#333" stroke-width="0.8"/>
<line x1="161.8" y1="393.2" x2="161.8" y2="395.2" stroke="#333" stroke-width="0.8"/>
<line x1="163" y1="393.2" x2="163" y2="395.2" stroke="#333" stroke-width="0.8"/>
<line x1="164.1" y1="393.2" x2="164.1" y2="395.2" stroke="#333" stroke-width="0.8"/>
<line x1="165" y1="393.2" x2="165" y2="395.2" stroke="#333" stroke-width="0.8"/>
<line x1="165.8" y1="393.2" x2="165.8" y2="396.7" stroke="#333" stroke-width="0.8"/>
<line x1="30.5" y1="392.9" x2="34" y2="392.9" stroke="#333" stroke-width="0.8"/>
<line x1="34.5" y1="393.2" x2="34.5" y2="396.7" stroke="#333" stroke-width="0.8"/>
<text x="27.4" y="370.6" font-size="6.5" fill="#222" stroke="#222" stroke-width="0.2" text-anchor="middle" transform="rotate(-90 27.4 370.6)">10<tspan font-size="4.7" dy="-2.7">1</tspan></text>
<text x="27.4" y="352.1" font-size="6.5" fill="#222" stroke="#222" stroke-width="0.2" text-anchor="middle" transform="rotate(-90 27.4 352.1)">10<tspan font-size="4.7" dy="-2.7">2</tspan></text>
<text x="27.4" y="332.2" font-size="6.5" fill="#222" stroke="#222" stroke-width="0.2" text-anchor="middle" transform="rotate(-90 27.4 332.2)">10<tspan font-size="4.7" dy="-2.7">3</tspan></text>
<text x="27.4" y="312.6" font-size="6.5" fill="#222" stroke="#222" stroke-width="0.2" text-anchor="middle" transform="rotate(-90 27.4 312.6)">10<tspan font-size="4.7" dy="-2.7">4</tspan></text>
<text x="27.4" y="294.2" font-size="6.5" fill="#222" stroke="#222" stroke-width="0.2" text-anchor="middle" transform="rotate(-90 27.4 294.2)">10<tspan font-size="4.7" dy="-2.7">5</tspan></text>
<text x="27.4" y="275.3" font-size="6.5" fill="#222" stroke="#222" stroke-width="0.2" text-anchor="middle" transform="rotate(-90 27.4 275.3)">10<tspan font-size="4.7" dy="-2.7">6</tspan></text>
<text x="27.4" y="393.4" font-size="6.5" fill="#222" text-anchor="middle" stroke="#222" stroke-width="0.2" transform="rotate(-90 27.4 393.4)">0</text>
<text x="57" y="406" font-size="6.5" fill="#222" stroke="#222" stroke-width="0.2" text-anchor="middle">10<tspan font-size="4.7" dy="-2.7">1</tspan></text>
<text x="74.3" y="406" font-size="6.5" fill="#222" stroke="#222" stroke-width="0.2" text-anchor="middle">10<tspan font-size="4.7" dy="-2.7">2</tspan></text>
<text x="93.3" y="406" font-size="6.5" fill="#222" stroke="#222" stroke-width="0.2" text-anchor="middle">10<tspan font-size="4.7" dy="-2.7">3</tspan></text>
<text x="111.2" y="406" font-size="6.5" fill="#222" stroke="#222" stroke-width="0.2" text-anchor="middle">10<tspan font-size="4.7" dy="-2.7">4</tspan></text>
<text x="129.5" y="406" font-size="6.5" fill="#222" stroke="#222" stroke-width="0.2" text-anchor="middle">10<tspan font-size="4.7" dy="-2.7">5</tspan></text>
<text x="147.8" y="406" font-size="6.5" fill="#222" stroke="#222" stroke-width="0.2" text-anchor="middle">10<tspan font-size="4.7" dy="-2.7">6</tspan></text>
<text x="165.8" y="406" font-size="6.5" fill="#222" stroke="#222" stroke-width="0.2" text-anchor="middle">10<tspan font-size="4.7" dy="-2.7">7</tspan></text>
<text x="34.5" y="406" font-size="6.5" fill="#222" text-anchor="middle" stroke="#222" stroke-width="0.2">0</text>
<text x="19.6" y="324.5" font-size="6.8" fill="#222" text-anchor="middle" stroke="#222" stroke-width="0.2" transform="rotate(-90 19.6 324.5)">SSC-A</text>
<text x="102" y="414.2" font-size="6.8" fill="#222" text-anchor="middle" stroke="#222" stroke-width="0.2">PI-A</text>
<path d="M23.4 384.6H29.4L31.4 386.8L29.4 389H23.4Q22.4 389 22.4 388V385.6Q22.4 384.6 23.4 384.6z" fill="#fff" stroke="#9a9a9a" stroke-width="0.8"/>
<path d="M39.3 404V399.2L41.7 396.8L44.1 399.2V404Q44.1 405 43.1 405H40.3Q39.3 405 39.3 404z" fill="#fff" stroke="#9a9a9a" stroke-width="0.8"/>
<rect x="187.9" y="246.6" width="180.7" height="170.8" fill="none" stroke="#b0b0b0" stroke-width="1"/>
<line x1="208.6" y1="249.5" x2="363.5" y2="249.5" stroke="#9a9a9a" stroke-width="1"/>
<line x1="363.5" y1="249.5" x2="363.5" y2="401.4" stroke="#444" stroke-width="1.1"/>
<line x1="208.6" y1="249.5" x2="208.6" y2="282" stroke="#8a8a8a" stroke-width="1"/>
<line x1="208.6" y1="282" x2="208.6" y2="401.4" stroke="#222" stroke-width="1.2"/>
<line x1="208.6" y1="401.4" x2="363.5" y2="401.4" stroke="#333" stroke-width="1"/>
<line x1="205.6" y1="401.4" x2="208.6" y2="401.4" stroke="#444" stroke-width="0.7"/>
<line x1="206.8" y1="395.9" x2="208.6" y2="395.9" stroke="#444" stroke-width="0.7"/>
<line x1="206.8" y1="390.4" x2="208.6" y2="390.4" stroke="#444" stroke-width="0.7"/>
<line x1="206.8" y1="384.9" x2="208.6" y2="384.9" stroke="#444" stroke-width="0.7"/>
<line x1="206.8" y1="379.4" x2="208.6" y2="379.4" stroke="#444" stroke-width="0.7"/>
<line x1="205.6" y1="373.9" x2="208.6" y2="373.9" stroke="#444" stroke-width="0.7"/>
<line x1="206.8" y1="368.4" x2="208.6" y2="368.4" stroke="#444" stroke-width="0.7"/>
<line x1="206.8" y1="362.9" x2="208.6" y2="362.9" stroke="#444" stroke-width="0.7"/>
<line x1="206.8" y1="357.4" x2="208.6" y2="357.4" stroke="#444" stroke-width="0.7"/>
<line x1="206.8" y1="351.9" x2="208.6" y2="351.9" stroke="#444" stroke-width="0.7"/>
<line x1="205.6" y1="346.4" x2="208.6" y2="346.4" stroke="#444" stroke-width="0.7"/>
<line x1="206.8" y1="340.9" x2="208.6" y2="340.9" stroke="#444" stroke-width="0.7"/>
<line x1="206.8" y1="335.4" x2="208.6" y2="335.4" stroke="#444" stroke-width="0.7"/>
<line x1="206.8" y1="329.9" x2="208.6" y2="329.9" stroke="#444" stroke-width="0.7"/>
<line x1="206.8" y1="324.4" x2="208.6" y2="324.4" stroke="#444" stroke-width="0.7"/>
<line x1="205.6" y1="318.9" x2="208.6" y2="318.9" stroke="#444" stroke-width="0.7"/>
<line x1="206.8" y1="313.4" x2="208.6" y2="313.4" stroke="#444" stroke-width="0.7"/>
<line x1="206.8" y1="307.9" x2="208.6" y2="307.9" stroke="#444" stroke-width="0.7"/>
<line x1="206.8" y1="302.4" x2="208.6" y2="302.4" stroke="#444" stroke-width="0.7"/>
<line x1="206.8" y1="296.9" x2="208.6" y2="296.9" stroke="#444" stroke-width="0.7"/>
<line x1="205.6" y1="291.4" x2="208.6" y2="291.4" stroke="#444" stroke-width="0.7"/>
<line x1="206.8" y1="285.9" x2="208.6" y2="285.9" stroke="#444" stroke-width="0.7"/>
<line x1="206.8" y1="280.4" x2="208.6" y2="280.4" stroke="#444" stroke-width="0.7"/>
<line x1="206.8" y1="274.9" x2="208.6" y2="274.9" stroke="#444" stroke-width="0.7"/>
<line x1="206.8" y1="269.4" x2="208.6" y2="269.4" stroke="#444" stroke-width="0.7"/>
<line x1="205.6" y1="263.9" x2="208.6" y2="263.9" stroke="#444" stroke-width="0.7"/>
<line x1="206.8" y1="258.4" x2="208.6" y2="258.4" stroke="#444" stroke-width="0.7"/>
<line x1="206.8" y1="252.9" x2="208.6" y2="252.9" stroke="#444" stroke-width="0.7"/>
<line x1="217" y1="401.4" x2="217" y2="403.2" stroke="#444" stroke-width="0.7"/>
<line x1="224.3" y1="401.4" x2="224.3" y2="403.2" stroke="#444" stroke-width="0.7"/>
<line x1="230.6" y1="401.4" x2="230.6" y2="403.2" stroke="#444" stroke-width="0.7"/>
<line x1="236.2" y1="401.4" x2="236.2" y2="403.2" stroke="#444" stroke-width="0.7"/>
<line x1="241.2" y1="401.4" x2="241.2" y2="404.4" stroke="#444" stroke-width="0.7"/>
<line x1="274.1" y1="401.4" x2="274.1" y2="403.2" stroke="#444" stroke-width="0.7"/>
<line x1="293.3" y1="401.4" x2="293.3" y2="403.2" stroke="#444" stroke-width="0.7"/>
<line x1="306.9" y1="401.4" x2="306.9" y2="403.2" stroke="#444" stroke-width="0.7"/>
<line x1="317.5" y1="401.4" x2="317.5" y2="403.2" stroke="#444" stroke-width="0.7"/>
<line x1="326.2" y1="401.4" x2="326.2" y2="403.2" stroke="#444" stroke-width="0.7"/>
<line x1="333.5" y1="401.4" x2="333.5" y2="403.2" stroke="#444" stroke-width="0.7"/>
<line x1="339.8" y1="401.4" x2="339.8" y2="403.2" stroke="#444" stroke-width="0.7"/>
<line x1="345.4" y1="401.4" x2="345.4" y2="403.2" stroke="#444" stroke-width="0.7"/>
<line x1="350.4" y1="401.4" x2="350.4" y2="404.4" stroke="#444" stroke-width="0.7"/>
<text x="203.3" y="401.4" font-size="5" fill="#555" text-anchor="middle" stroke="#555" stroke-width="0.2" transform="rotate(-90 203.3 401.4)">0</text>
<text x="203.3" y="373.9" font-size="5" fill="#555" text-anchor="middle" stroke="#555" stroke-width="0.2" transform="rotate(-90 203.3 373.9)">50</text>
<text x="203.3" y="346.4" font-size="5" fill="#555" text-anchor="middle" stroke="#555" stroke-width="0.2" transform="rotate(-90 203.3 346.4)">100</text>
<text x="203.3" y="318.9" font-size="5" fill="#555" text-anchor="middle" stroke="#555" stroke-width="0.2" transform="rotate(-90 203.3 318.9)">150</text>
<text x="203.3" y="291.4" font-size="5" fill="#555" text-anchor="middle" stroke="#555" stroke-width="0.2" transform="rotate(-90 203.3 291.4)">200</text>
<text x="203.3" y="263.9" font-size="5" fill="#555" text-anchor="middle" stroke="#555" stroke-width="0.2" transform="rotate(-90 203.3 263.9)">250</text>
<text x="195.8" y="324.6" font-size="5.6" fill="#444" text-anchor="middle" stroke="#444" stroke-width="0.2" transform="rotate(-90 195.8 324.6)">Count</text>
<text x="241.2" y="411.6" font-size="5.5" fill="#555" stroke="#555" stroke-width="0.2" text-anchor="middle">10<tspan font-size="4.0" dy="-2.3">5</tspan></text>
<text x="351.9" y="411.6" font-size="5.5" fill="#555" stroke="#555" stroke-width="0.2" text-anchor="middle">10<tspan font-size="4.0" dy="-2.3">6</tspan></text>
<text x="334.2" y="416.4" font-size="5.4" fill="#555" text-anchor="middle" stroke="#555" stroke-width="0.2">PI-A</text>
<rect x="312.4" y="266.9" width="5.3" height="5.4" fill="#000" stroke="none" stroke-width="1"/>
<rect x="312.4" y="276.6" width="5.3" height="5.4" fill="#00e000" stroke="none" stroke-width="1"/>
<rect x="312.4" y="286.9" width="5.3" height="5.4" fill="#f00000" stroke="none" stroke-width="1"/>
<text x="325" y="271.4" font-size="7.8" fill="#333" text-anchor="start" stroke="#333" stroke-width="0.2">5 min</text>
<text x="323.8" y="281.9" font-size="7.8" fill="#333" text-anchor="start" stroke="#333" stroke-width="0.2">15 min</text>
<text x="323.8" y="292.3" font-size="7.8" fill="#333" text-anchor="start" stroke="#333" stroke-width="0.2">90 min</text>
<rect x="376.9" y="245.4" width="168.8" height="171.4" fill="none" stroke="#a8a8a8" stroke-width="1"/>
<text x="391.4" y="254.9" font-size="7.4" fill="#1a1a1a" text-anchor="start" stroke="#1a1a1a" stroke-width="0.2" textLength="116.9" lengthAdjust="spacingAndGlyphs">Ficus benjamina Natasja: All Events</text>
<rect x="528.4" y="250.6" width="5.8" height="5.8" fill="#2e4a5f" stroke="none" stroke-width="1" rx="0.7"/>
<circle cx="531.3" cy="253.5" r="1.7" fill="none" stroke="#d3dfea" stroke-width="1.1"/>
<rect x="536.2" y="250.6" width="5.8" height="5.8" fill="#ee4a55" stroke="none" stroke-width="1" rx="0.5"/>
<line x1="537.8" y1="252.2" x2="540.4" y2="254.8" stroke="#ffe6c8" stroke-width="1"/>
<line x1="540.4" y1="252.2" x2="537.8" y2="254.8" stroke="#ffe6c8" stroke-width="1"/>
<rect x="403.1" y="258.5" width="131.4" height="134.6" fill="none" stroke="#555" stroke-width="1"/>
<line x1="403.1" y1="258.5" x2="403.1" y2="393.1" stroke="#333" stroke-width="1.4"/>
<line x1="403.1" y1="393.1" x2="534.5" y2="393.1" stroke="#333" stroke-width="1.4"/>
<line x1="399.1" y1="393.1" x2="403.1" y2="393.1" stroke="#333" stroke-width="0.9"/>
<line x1="400.6" y1="371.6" x2="403.1" y2="371.6" stroke="#333" stroke-width="0.9"/>
<line x1="399.1" y1="350.1" x2="403.1" y2="350.1" stroke="#333" stroke-width="0.9"/>
<line x1="400.6" y1="328.6" x2="403.1" y2="328.6" stroke="#333" stroke-width="0.9"/>
<line x1="399.1" y1="307.1" x2="403.1" y2="307.1" stroke="#333" stroke-width="0.9"/>
<line x1="400.6" y1="285.6" x2="403.1" y2="285.6" stroke="#333" stroke-width="0.9"/>
<line x1="399.1" y1="264.1" x2="403.1" y2="264.1" stroke="#333" stroke-width="0.9"/>
<line x1="404.1" y1="393.1" x2="404.1" y2="395.3" stroke="#333" stroke-width="0.9"/>
<line x1="408.6" y1="393.1" x2="408.6" y2="395.3" stroke="#333" stroke-width="0.9"/>
<line x1="412.4" y1="393.1" x2="412.4" y2="395.3" stroke="#333" stroke-width="0.9"/>
<line x1="415.7" y1="393.1" x2="415.7" y2="395.3" stroke="#333" stroke-width="0.9"/>
<line x1="418.6" y1="393.1" x2="418.6" y2="395.3" stroke="#333" stroke-width="0.9"/>
<line x1="421.2" y1="393.1" x2="421.2" y2="397.1" stroke="#333" stroke-width="0.9"/>
<line x1="438.3" y1="393.1" x2="438.3" y2="395.3" stroke="#333" stroke-width="0.9"/>
<line x1="448.3" y1="393.1" x2="448.3" y2="395.3" stroke="#333" stroke-width="0.9"/>
<line x1="455.4" y1="393.1" x2="455.4" y2="395.3" stroke="#333" stroke-width="0.9"/>
<line x1="460.9" y1="393.1" x2="460.9" y2="395.3" stroke="#333" stroke-width="0.9"/>
<line x1="465.4" y1="393.1" x2="465.4" y2="395.3" stroke="#333" stroke-width="0.9"/>
<line x1="469.2" y1="393.1" x2="469.2" y2="395.3" stroke="#333" stroke-width="0.9"/>
<line x1="472.5" y1="393.1" x2="472.5" y2="395.3" stroke="#333" stroke-width="0.9"/>
<line x1="475.4" y1="393.1" x2="475.4" y2="395.3" stroke="#333" stroke-width="0.9"/>
<line x1="478" y1="393.1" x2="478" y2="397.1" stroke="#333" stroke-width="0.9"/>
<line x1="495.1" y1="393.1" x2="495.1" y2="395.3" stroke="#333" stroke-width="0.9"/>
<line x1="505.1" y1="393.1" x2="505.1" y2="395.3" stroke="#333" stroke-width="0.9"/>
<line x1="512.2" y1="393.1" x2="512.2" y2="395.3" stroke="#333" stroke-width="0.9"/>
<line x1="517.7" y1="393.1" x2="517.7" y2="395.3" stroke="#333" stroke-width="0.9"/>
<line x1="522.2" y1="393.1" x2="522.2" y2="395.3" stroke="#333" stroke-width="0.9"/>
<line x1="526" y1="393.1" x2="526" y2="395.3" stroke="#333" stroke-width="0.9"/>
<line x1="529.3" y1="393.1" x2="529.3" y2="395.3" stroke="#333" stroke-width="0.9"/>
<line x1="532.2" y1="393.1" x2="532.2" y2="395.3" stroke="#333" stroke-width="0.9"/>
<line x1="534.8" y1="393.1" x2="534.8" y2="397.1" stroke="#333" stroke-width="0.9"/>
<text x="396.2" y="393.1" font-size="7.3" fill="#222" text-anchor="middle" stroke="#222" stroke-width="0.2" transform="rotate(-90 396.2 393.1)">0</text>
<text x="396.2" y="350.1" font-size="7.3" fill="#222" text-anchor="middle" stroke="#222" stroke-width="0.2" transform="rotate(-90 396.2 350.1)">20</text>
<text x="396.2" y="307.1" font-size="7.3" fill="#222" text-anchor="middle" stroke="#222" stroke-width="0.2" transform="rotate(-90 396.2 307.1)">40</text>
<text x="396.2" y="264.1" font-size="7.3" fill="#222" text-anchor="middle" stroke="#222" stroke-width="0.2" transform="rotate(-90 396.2 264.1)">60</text>
<text x="421.2" y="405.5" font-size="7" fill="#222" stroke="#222" stroke-width="0.2" text-anchor="middle">10<tspan font-size="5.0" dy="-2.9">5</tspan></text>
<text x="478" y="405.5" font-size="7" fill="#222" stroke="#222" stroke-width="0.2" text-anchor="middle">10<tspan font-size="5.0" dy="-2.9">6</tspan></text>
<text x="386" y="324.6" font-size="7" fill="#222" text-anchor="middle" stroke="#222" stroke-width="0.2" transform="rotate(-90 386 324.6)">Count</text>
<text x="468.3" y="414.8" font-size="7" fill="#222" text-anchor="middle" stroke="#222" stroke-width="0.2">PI-A</text>
<path stroke="#1a1a1a" stroke-opacity="0.75" stroke-width="0.8" fill="none" d="M40.3 118.4h0.8M42.6 120.5h0.8M39.3 116.5h0.8M40.4 112.2h0.8M36.6 115.2h0.8M39.6 111.5h0.8M42.8 118.8h0.8M40.1 127.8h0.8M43.0 115.0h0.8M43.0 114.1h0.8M37.3 121.8h0.8M40.8 120.9h0.8M44.5 119.1h0.8M39.9 118.2h0.8M42.8 123.3h0.8M47.6 109.0h0.8M39.3 115.2h0.8M58.0 105.1h0.8M47.3 109.4h0.8M42.2 105.5h0.8M37.7 116.8h0.8M48.1 109.5h0.8M40.9 120.3h0.8M38.4 119.5h0.8M40.9 117.1h0.8M37.2 100.8h0.8M42.4 114.6h0.8M38.3 118.1h0.8M38.9 119.2h0.8M50.8 107.7h0.8M42.4 115.1h0.8M37.8 111.6h0.8M44.9 112.7h0.8M41.8 125.8h0.8M41.9 112.7h0.8M45.7 118.2h0.8M38.3 124.6h0.8M43.9 114.3h0.8M45.9 117.6h0.8M42.9 119.2h0.8M40.5 118.8h0.8M51.1 109.8h0.8M40.3 118.9h0.8M42.8 127.9h0.8M46.3 107.6h0.8M41.4 124.4h0.8M41.1 119.2h0.8M39.2 113.9h0.8M42.4 132.4h0.8M42.4 123.7h0.8M46.1 118.9h0.8M39.7 122.4h0.8M38.8 117.1h0.8M38.6 123.2h0.8M39.3 117.9h0.8M37.3 123.1h0.8M46.5 128.5h0.8M43.8 113.7h0.8M45.3 119.8h0.8M41.6 115.2h0.8M43.1 119.3h0.8M48.5 110.1h0.8M41.8 114.3h0.8M41.2 117.0h0.8M44.5 124.7h0.8M39.3 126.4h0.8M41.3 122.9h0.8M50.6 104.5h0.8M41.9 115.2h0.8M42.7 117.7h0.8M39.8 127.2h0.8M45.4 123.2h0.8M43.0 116.1h0.8M44.7 115.8h0.8M40.9 116.6h0.8M40.4 129.1h0.8M40.7 115.4h0.8M47.5 116.3h0.8M38.8 120.9h0.8M37.6 117.6h0.8M39.2 117.0h0.8M38.1 110.6h0.8M42.1 118.3h0.8M37.7 115.3h0.8M38.1 126.6h0.8M42.9 123.0h0.8M46.3 118.2h0.8M37.0 123.1h0.8M41.5 116.0h0.8M37.6 125.8h0.8M40.6 118.4h0.8M40.8 122.5h0.8M38.7 109.4h0.8M41.9 120.8h0.8M46.4 106.6h0.8M40.1 104.2h0.8M38.8 116.3h0.8M38.4 112.1h0.8M42.1 119.5h0.8M41.8 134.1h0.8M39.5 112.6h0.8M39.8 114.0h0.8M39.3 119.8h0.8M37.2 121.9h0.8M44.6 117.2h0.8M39.0 117.0h0.8M43.2 123.3h0.8M41.4 122.0h0.8M39.1 111.2h0.8M47.6 117.8h0.8M37.6 118.6h0.8M37.2 111.0h0.8M37.7 120.2h0.8M40.0 112.4h0.8M38.4 125.2h0.8M42.9 119.7h0.8M40.1 119.0h0.8M41.5 114.3h0.8M39.0 117.6h0.8M54.0 104.4h0.8M37.9 110.5h0.8M39.4 120.9h0.8M38.6 103.5h0.8M40.7 124.3h0.8M45.7 106.2h0.8M46.2 123.7h0.8M39.9 112.5h0.8M38.0 123.9h0.8M39.0 119.3h0.8M42.0 107.6h0.8M39.9 127.1h0.8M37.9 128.5h0.8M41.5 117.9h0.8M40.8 116.5h0.8M37.7 117.3h0.8M43.9 111.6h0.8M39.6 126.1h0.8M42.5 114.6h0.8M41.8 118.0h0.8M38.9 112.8h0.8M45.1 114.0h0.8M49.6 109.5h0.8M37.6 127.2h0.8M38.9 125.2h0.8M44.8 118.5h0.8M43.9 113.5h0.8M41.7 116.1h0.8M43.3 114.5h0.8M40.0 118.5h0.8M38.4 115.8h0.8M47.3 116.3h0.8M38.1 112.8h0.8M39.7 130.0h0.8M44.3 113.7h0.8M40.0 111.0h0.8M38.8 120.8h0.8M40.8 128.3h0.8M37.8 108.2h0.8M42.0 116.9h0.8M42.6 114.0h0.8M37.1 106.1h0.8M40.4 123.5h0.8M39.8 118.2h0.8M41.9 118.9h0.8M39.5 113.1h0.8M39.3 121.6h0.8M38.9 114.6h0.8M41.6 117.4h0.8M46.5 110.6h0.8M45.9 109.9h0.8M38.0 127.7h0.8M38.2 114.9h0.8M46.1 120.4h0.8M39.7 118.2h0.8M40.4 115.3h0.8M42.8 114.8h0.8M39.3 116.3h0.8M41.1 117.3h0.8M39.6 118.6h0.8M41.2 126.6h0.8M38.2 123.2h0.8M40.7 121.1h0.8M39.7 108.7h0.8M40.1 125.0h0.8M40.7 125.2h0.8M46.8 117.4h0.8M42.4 122.2h0.8M39.5 123.9h0.8M39.6 124.2h0.8M41.5 124.8h0.8M41.2 115.2h0.8M37.7 129.0h0.8M49.2 109.7h0.8M46.8 124.4h0.8M39.4 121.9h0.8M37.3 124.5h0.8M39.0 131.6h0.8M44.0 128.8h0.8M39.0 110.4h0.8M57.8 106.6h0.8M41.2 124.1h0.8M39.7 111.3h0.8M38.8 118.3h0.8M40.4 124.3h0.8M51.1 106.9h0.8M56.0 103.6h0.8M42.2 120.2h0.8M38.4 118.7h0.8M40.5 116.7h0.8M44.7 118.7h0.8M43.0 112.4h0.8M44.8 107.8h0.8M41.1 117.2h0.8M39.5 111.6h0.8M51.1 106.9h0.8M37.5 121.9h0.8M42.7 118.0h0.8M43.3 121.2h0.8M40.9 111.5h0.8M39.5 113.8h0.8M41.4 111.4h0.8M40.4 112.2h0.8M39.5 183.8h0.8M49.0 84.4h0.8M39.5 66.0h0.8M38.3 150.9h0.8M48.5 91.6h0.8M41.3 139.1h0.8M39.6 190.9h0.8M42.7 114.0h0.8M66.7 96.8h0.8M47.0 124.5h0.8M38.0 151.8h0.8M41.0 76.1h0.8M46.1 114.2h0.8M38.1 80.6h0.8M42.7 152.5h0.8M39.3 175.4h0.8M39.7 113.7h0.8M42.4 113.0h0.8M44.8 135.8h0.8M57.2 91.6h0.8M46.4 96.0h0.8M48.4 107.3h0.8M39.0 124.6h0.8M41.2 73.5h0.8M39.5 164.8h0.8M39.8 141.2h0.8M43.3 103.2h0.8M48.5 72.9h0.8M38.9 166.2h0.8M51.1 80.2h0.8M52.6 80.5h0.8M39.0 80.2h0.8M45.9 73.5h0.8M38.5 185.7h0.8M40.1 99.0h0.8M47.5 104.1h0.8M42.8 146.7h0.8M43.1 87.9h0.8M41.8 182.6h0.8M37.1 113.5h0.8M41.0 159.1h0.8M65.2 75.6h0.8M39.0 161.3h0.8M38.3 168.0h0.8M43.5 174.7h0.8M39.7 154.1h0.8M41.1 112.8h0.8M44.4 71.1h0.8M44.7 88.4h0.8M46.7 98.6h0.8M41.3 164.2h0.8M38.4 184.3h0.8M44.0 79.5h0.8M46.4 87.5h0.8M40.4 171.1h0.8M45.5 150.1h0.8M38.5 160.5h0.8M42.1 198.0h0.8M38.7 190.1h0.8M41.4 177.1h0.8M39.5 168.1h0.8M42.6 149.6h0.8M41.6 87.5h0.8M42.0 165.7h0.8M38.6 160.5h0.8M46.1 122.9h0.8M41.1 113.8h0.8M44.5 119.5h0.8M44.0 66.9h0.8M37.0 177.2h0.8M38.6 115.1h0.8M44.9 136.9h0.8M39.4 160.5h0.8M39.1 114.3h0.8M39.9 175.4h0.8M37.1 187.4h0.8M40.2 115.1h0.8M45.5 81.1h0.8M36.7 197.4h0.8M61.6 82.5h0.8M43.9 174.6h0.8M40.5 187.6h0.8M46.5 79.2h0.8M55.9 74.9h0.8M38.9 196.8h0.8M37.4 78.3h0.8M40.6 86.4h0.8M37.0 140.6h0.8M40.3 123.1h0.8M37.5 164.5h0.8M52.7 88.3h0.8M40.4 186.8h0.8M68.3 91.9h0.8M37.3 167.0h0.8M39.4 71.6h0.8M39.9 126.8h0.8M47.9 66.8h0.8M52.7 105.1h0.8M39.1 104.9h0.8M42.6 160.3h0.8M39.9 124.3h0.8M40.3 70.1h0.8M45.9 197.8h0.8M41.8 183.3h0.8M38.8 187.0h0.8M44.0 95.9h0.8M44.0 116.0h0.8M63.5 93.3h0.8M45.4 79.4h0.8M44.1 66.9h0.8M42.1 130.9h0.8M45.6 79.1h0.8M55.7 86.4h0.8M40.8 128.3h0.8M42.6 87.4h0.8M41.9 153.5h0.8M44.2 98.6h0.8M41.7 134.1h0.8M63.6 100.9h0.8M43.4 87.2h0.8M56.2 92.6h0.8M44.8 88.1h0.8M43.4 81.4h0.8M41.9 100.4h0.8M58.6 104.3h0.8M40.7 71.0h0.8M56.3 68.9h0.8M46.4 67.8h0.8M49.5 109.4h0.8M52.3 107.6h0.8M43.2 73.5h0.8M46.5 109.0h0.8M63.6 72.4h0.8M46.9 86.7h0.8M37.9 86.3h0.8M41.5 106.3h0.8M39.9 64.3h0.8M44.8 77.5h0.8M38.1 91.2h0.8M52.5 65.6h0.8M44.2 73.8h0.8M41.8 84.7h0.8M42.7 104.7h0.8M56.6 98.9h0.8M40.2 102.2h0.8M42.0 98.9h0.8M40.8 96.4h0.8M54.8 103.2h0.8M57.7 95.1h0.8M39.4 97.7h0.8M54.5 76.9h0.8M58.6 70.4h0.8M41.9 98.7h0.8M37.9 70.4h0.8M46.8 106.5h0.8M38.8 91.0h0.8M46.2 78.2h0.8M45.9 107.4h0.8M47.4 69.8h0.8M37.8 87.1h0.8M50.8 66.8h0.8M50.4 90.0h0.8M43.3 101.0h0.8M48.5 75.9h0.8M47.2 100.9h0.8M51.8 96.1h0.8M43.0 93.3h0.8M37.8 108.0h0.8M49.8 83.2h0.8M50.8 82.3h0.8M44.6 95.6h0.8M64.5 102.5h0.8M56.6 78.5h0.8M43.9 94.5h0.8M39.1 72.4h0.8M40.1 88.9h0.8M60.5 99.3h0.8M44.0 65.5h0.8M49.1 97.3h0.8M43.9 63.1h0.8M39.7 108.4h0.8M49.5 84.9h0.8M46.5 82.0h0.8M45.4 97.0h0.8M53.7 87.5h0.8M47.5 97.5h0.8M56.9 66.5h0.8M39.8 89.4h0.8M41.9 91.7h0.8M64.9 71.0h0.8M43.4 65.0h0.8M75.8 96.4h0.8M49.9 97.2h0.8M51.4 91.0h0.8M46.0 76.2h0.8M52.2 90.7h0.8M76.0 66.0h0.8M76.5 90.9h0.8M49.9 87.2h0.8M62.1 88.9h0.8M82.4 81.6h0.8M69.7 72.1h0.8M160.9 93.6h0.8M44.7 94.5h0.8M94.5 78.1h0.8M114.1 66.2h0.8M61.3 102.0h0.8M63.6 100.6h0.8M53.0 64.9h0.8M46.4 95.6h0.8M61.4 78.7h0.8M50.1 76.2h0.8M41.2 83.4h0.8M71.3 85.2h0.8M73.0 92.3h0.8M76.0 91.6h0.8M46.7 78.9h0.8M43.2 91.5h0.8M45.6 88.5h0.8M57.6 82.2h0.8M41.7 86.6h0.8M43.1 63.2h0.8M84.6 83.8h0.8M60.7 71.9h0.8M77.2 79.0h0.8M118.8 65.6h0.8M62.0 90.6h0.8M93.8 77.6h0.8M52.2 66.9h0.8M36.9 185.5h0.8M43.6 178.6h0.8M36.9 179.9h0.8M37.3 176.3h0.8M37.9 186.0h0.8M42.4 147.1h0.8M37.6 174.5h0.8M36.7 150.1h0.8M40.5 149.3h0.8M38.6 136.7h0.8M40.8 161.3h0.8M37.1 152.3h0.8M41.1 156.2h0.8M38.9 187.6h0.8M38.2 175.2h0.8M40.3 175.1h0.8M37.7 197.2h0.8M37.4 141.3h0.8M37.1 162.5h0.8M40.2 132.2h0.8M44.5 154.1h0.8M39.4 194.8h0.8M40.0 131.7h0.8M40.3 180.7h0.8M39.5 188.6h0.8M39.4 162.6h0.8M37.4 183.6h0.8M39.6 157.6h0.8M36.8 151.2h0.8M37.8 162.3h0.8M39.0 139.6h0.8M36.8 147.8h0.8M42.3 147.7h0.8M37.5 197.6h0.8M38.7 149.9h0.8M36.5 142.1h0.8M39.7 194.0h0.8M37.3 135.5h0.8M39.5 195.9h0.8M39.3 187.7h0.8M37.1 172.6h0.8M40.4 156.6h0.8M38.1 139.8h0.8M37.0 133.2h0.8M40.1 133.0h0.8M39.3 150.9h0.8M38.2 155.1h0.8M44.1 192.8h0.8M37.8 164.5h0.8M38.2 197.7h0.8M38.3 178.0h0.8M36.9 136.1h0.8M38.7 165.8h0.8M37.0 137.0h0.8M43.7 128.3h0.8M37.1 194.3h0.8M41.5 150.1h0.8M37.3 139.2h0.8M38.5 132.8h0.8M41.5 173.0h0.8M36.8 159.1h0.8M36.5 126.3h0.8M37.2 177.6h0.8M44.1 144.1h0.8M39.5 182.4h0.8M37.7 161.1h0.8M37.9 164.5h0.8M37.2 158.8h0.8M37.1 174.7h0.8M37.8 197.7h0.8M40.9 183.6h0.8M39.7 130.4h0.8M37.3 161.5h0.8M36.8 142.5h0.8M37.7 132.9h0.8M38.4 139.6h0.8M39.3 143.5h0.8M36.5 195.5h0.8M40.6 179.8h0.8M40.1 187.7h0.8M41.8 176.4h0.8M39.3 148.4h0.8M37.9 154.0h0.8M39.1 157.6h0.8M41.6 146.8h0.8M42.5 156.2h0.8M40.9 181.7h0.8M37.8 130.9h0.8M37.5 145.6h0.8M38.2 160.4h0.8M36.7 174.8h0.8M44.0 172.6h0.8M38.1 178.3h0.8M41.4 133.1h0.8M38.7 138.6h0.8M37.8 148.0h0.8M40.5 146.0h0.8M41.2 180.6h0.8M39.9 197.9h0.8M38.4 127.8h0.8M38.3 147.1h0.8M39.9 184.0h0.8M39.1 192.9h0.8M39.6 168.8h0.8M37.9 150.9h0.8M43.6 151.3h0.8M40.8 171.6h0.8M38.0 188.5h0.8M39.1 150.3h0.8M37.5 139.3h0.8M40.0 125.6h0.8M37.5 135.4h0.8M40.1 187.5h0.8M36.8 171.0h0.8M40.7 197.7h0.8M40.8 130.5h0.8M36.7 152.1h0.8M41.5 183.5h0.8M36.9 173.7h0.8M36.6 130.3h0.8M39.6 154.7h0.8M37.3 171.9h0.8M39.1 175.6h0.8M41.0 158.4h0.8M38.6 139.1h0.8M37.6 195.9h0.8M37.3 159.5h0.8M44.2 177.8h0.8M36.7 164.4h0.8M38.6 131.3h0.8M39.0 142.7h0.8M36.6 130.0h0.8M44.9 139.3h0.8M38.7 140.0h0.8M38.7 155.7h0.8M39.4 148.9h0.8M42.9 151.9h0.8M38.8 185.0h0.8M37.2 127.0h0.8M39.2 132.9h0.8M39.6 184.4h0.8M38.5 164.4h0.8M44.4 157.4h0.8M39.3 144.9h0.8M38.8 165.0h0.8M37.3 141.6h0.8M40.0 188.1h0.8M40.6 185.6h0.8M42.5 148.9h0.8M38.8 127.2h0.8M42.5 190.2h0.8M40.5 147.2h0.8M40.3 173.4h0.8M39.3 188.0h0.8M40.5 183.7h0.8M39.4 188.4h0.8M36.9 161.1h0.8M41.3 186.9h0.8M41.4 159.1h0.8M39.8 144.7h0.8M38.7 160.5h0.8M44.5 149.9h0.8M36.6 181.4h0.8M38.6 186.1h0.8M39.2 135.7h0.8M42.8 137.4h0.8M38.1 153.4h0.8M40.7 159.2h0.8M37.6 195.2h0.8M41.3 194.1h0.8M38.1 196.0h0.8M39.1 178.7h0.8M40.0 174.8h0.8M36.8 145.1h0.8M40.3 152.6h0.8M37.7 125.6h0.8M39.0 186.2h0.8M37.4 145.6h0.8M36.7 131.2h0.8M40.4 148.4h0.8M38.9 149.0h0.8M41.9 178.3h0.8M37.8 125.8h0.8M39.5 142.2h0.8M37.9 190.8h0.8M40.0 187.8h0.8M38.3 171.3h0.8M39.7 166.2h0.8M39.6 141.7h0.8M40.1 189.3h0.8M44.1 180.9h0.8M40.0 162.8h0.8M38.9 137.2h0.8M37.4 141.2h0.8M41.3 153.1h0.8M41.1 149.6h0.8M40.5 129.9h0.8M37.6 155.1h0.8M37.6 158.2h0.8M44.6 146.4h0.8M39.0 153.5h0.8M40.6 149.7h0.8M40.1 152.9h0.8M38.7 170.6h0.8M36.6 161.7h0.8M41.8 139.8h0.8M42.9 183.5h0.8M39.4 162.9h0.8M37.2 158.9h0.8M37.0 177.5h0.8M41.4 180.3h0.8M37.9 187.4h0.8M39.9 184.6h0.8M39.0 174.2h0.8M40.3 178.0h0.8M39.0 136.9h0.8M37.6 176.4h0.8M43.1 144.0h0.8"/>
<path stroke="#f2a73a" stroke-opacity="0.65" stroke-width="0.9" fill="none" d="M61.3 110.1h0.9M55.5 109.2h0.9M52.8 112.9h0.9M50.6 117.4h0.9M58.0 108.8h0.9M48.6 122.9h0.9M52.6 114.5h0.9M45.7 175.7h0.9M50.6 121.6h0.9M48.3 133.0h0.9M45.7 165.5h0.9M48.7 135.4h0.9M49.1 116.2h0.9M48.6 165.5h0.9M47.6 136.2h0.9M47.2 165.9h0.9M48.5 159.4h0.9M46.5 179.5h0.9M70.9 108.8h0.9M110.0 84.3h0.9M149.8 82.4h0.9M115.9 85.8h0.9M121.9 89.2h0.9M136.1 73.7h0.9M88.7 92.4h0.9M122.1 77.3h0.9M88.7 100.9h0.9M62.9 162.6h0.9M64.8 128.2h0.9M63.7 130.4h0.9M56.8 156.5h0.9M54.8 152.8h0.9M51.7 152.4h0.9M76.5 156.0h0.9M47.7 170.3h0.9M67.2 155.2h0.9M69.7 121.6h0.9M66.1 157.6h0.9M66.5 144.3h0.9M56.3 109.8h0.9M96.9 143.7h0.9M58.1 132.8h0.9M58.4 145.1h0.9M63.8 128.4h0.9M96.4 105.0h0.9M55.3 114.2h0.9M57.0 171.8h0.9M108.3 106.2h0.9M49.5 140.9h0.9M65.5 148.7h0.9M49.3 149.2h0.9M51.3 139.3h0.9M47.1 152.5h0.9M121.6 123.6h0.9M64.1 113.2h0.9M63.8 156.5h0.9M50.0 158.6h0.9M51.5 143.9h0.9M79.4 124.3h0.9M48.1 144.6h0.9M63.0 138.6h0.9M68.2 153.2h0.9M54.8 111.5h0.9M75.8 138.8h0.9M53.7 133.3h0.9M54.8 114.3h0.9M50.6 140.8h0.9M47.0 137.1h0.9M78.5 128.2h0.9M67.8 144.4h0.9M64.0 108.1h0.9M54.3 135.4h0.9M89.7 145.1h0.9M61.7 142.1h0.9M103.2 158.0h0.9M48.1 112.4h0.9M63.1 141.2h0.9M69.7 145.6h0.9M54.9 178.8h0.9M50.7 148.8h0.9M58.1 119.0h0.9M56.0 152.6h0.9M60.2 119.5h0.9M91.5 106.7h0.9M48.3 188.6h0.9M51.1 143.0h0.9M83.5 150.7h0.9M46.2 147.7h0.9M70.7 172.7h0.9M56.5 142.1h0.9M54.4 160.8h0.9M55.8 115.9h0.9M58.2 108.6h0.9M48.0 165.0h0.9M45.3 165.9h0.9M48.6 146.7h0.9M64.4 141.0h0.9M51.6 139.8h0.9M53.8 122.7h0.9M89.3 167.2h0.9M52.7 149.6h0.9M52.3 146.6h0.9M49.4 144.0h0.9M60.3 157.4h0.9M56.6 146.6h0.9M69.2 151.4h0.9M61.5 113.1h0.9M58.3 146.7h0.9M49.2 180.2h0.9M76.1 126.1h0.9M75.4 133.9h0.9M75.0 154.3h0.9M63.1 155.6h0.9M67.8 148.9h0.9M49.3 146.5h0.9M73.9 112.8h0.9M52.5 120.0h0.9M57.7 147.4h0.9M70.1 130.5h0.9M46.4 152.6h0.9M88.1 152.0h0.9M46.2 150.9h0.9M62.6 118.5h0.9M58.4 123.6h0.9M60.7 115.2h0.9M89.7 125.8h0.9M64.5 114.6h0.9M48.3 123.3h0.9M63.0 132.3h0.9M54.4 116.4h0.9M63.7 108.1h0.9M46.9 145.5h0.9M49.7 137.6h0.9M46.3 157.0h0.9M70.1 157.3h0.9M55.1 129.6h0.9M95.5 149.9h0.9M70.1 107.6h0.9M62.0 182.1h0.9M91.7 160.4h0.9M82.9 132.1h0.9M62.2 113.2h0.9M63.5 144.1h0.9M78.6 99.0h0.9M56.2 120.9h0.9M98.2 151.4h0.9M107.5 138.0h0.9M66.9 126.6h0.9M102.1 155.5h0.9M78.1 142.1h0.9M61.1 119.5h0.9M46.3 145.7h0.9M53.3 116.6h0.9M65.8 174.5h0.9M63.7 176.2h0.9M70.6 114.6h0.9M65.7 148.6h0.9M85.1 112.5h0.9M51.8 139.6h0.9M72.0 150.0h0.9M45.8 160.1h0.9M57.6 120.5h0.9M48.1 139.1h0.9M56.9 144.0h0.9M62.9 148.3h0.9M68.4 168.8h0.9M55.9 147.7h0.9M51.0 127.9h0.9M49.8 116.0h0.9M66.7 147.3h0.9M59.6 129.6h0.9M60.5 113.8h0.9M81.7 167.7h0.9M56.1 129.8h0.9M126.6 124.8h0.9M57.5 163.5h0.9M49.0 145.7h0.9M57.0 137.3h0.9M56.1 124.3h0.9M67.2 105.4h0.9M50.4 126.8h0.9M56.5 132.1h0.9M49.9 143.6h0.9M50.2 147.5h0.9M64.2 140.9h0.9M60.4 140.9h0.9M48.8 116.3h0.9M88.1 117.4h0.9M54.5 123.4h0.9M50.5 131.0h0.9M50.0 111.6h0.9M50.5 114.2h0.9M58.8 134.4h0.9M77.6 123.3h0.9M61.7 146.4h0.9M67.3 132.1h0.9M62.8 116.1h0.9M59.4 137.3h0.9M50.7 174.1h0.9M81.3 123.0h0.9M45.1 159.8h0.9M72.4 164.0h0.9M60.7 166.4h0.9M48.0 176.8h0.9M83.1 138.8h0.9M68.8 131.4h0.9M53.9 131.8h0.9M81.7 148.5h0.9M61.0 137.5h0.9M69.8 132.9h0.9M45.9 162.1h0.9M80.1 122.0h0.9M49.7 115.6h0.9M52.1 152.3h0.9M63.9 150.5h0.9M53.2 158.3h0.9M57.4 115.0h0.9M63.9 158.1h0.9M74.6 146.1h0.9M51.8 171.7h0.9M63.5 111.5h0.9M49.6 140.8h0.9M60.5 130.9h0.9M50.1 122.2h0.9M50.0 159.0h0.9M52.7 122.0h0.9M51.9 153.8h0.9M49.9 156.2h0.9M59.9 156.2h0.9M52.8 120.7h0.9M57.5 135.3h0.9M84.0 123.3h0.9M106.5 121.5h0.9M66.7 153.0h0.9M86.7 167.7h0.9M51.2 113.4h0.9M77.3 107.4h0.9M106.8 116.2h0.9M48.7 133.7h0.9M50.6 148.8h0.9M114.4 122.4h0.9M55.1 139.5h0.9M68.7 135.5h0.9M71.7 123.6h0.9M45.1 190.1h0.9M72.4 152.8h0.9M49.6 119.7h0.9M61.8 116.5h0.9M59.5 127.7h0.9M64.6 103.6h0.9M60.5 121.8h0.9M46.4 154.1h0.9M113.5 127.9h0.9M51.1 120.6h0.9M67.1 109.6h0.9M57.3 112.9h0.9M54.9 135.1h0.9M84.7 132.1h0.9M73.6 159.1h0.9M51.4 123.9h0.9M48.7 157.6h0.9M50.7 141.6h0.9M60.3 136.4h0.9M46.9 151.3h0.9M49.3 164.4h0.9M66.1 140.6h0.9M59.0 151.7h0.9M47.2 128.3h0.9M50.3 129.0h0.9M58.3 123.2h0.9M66.0 155.9h0.9M114.6 143.3h0.9M52.5 131.8h0.9M56.9 129.9h0.9M59.5 147.6h0.9M67.5 142.9h0.9M64.5 119.8h0.9M50.9 170.8h0.9M68.1 141.6h0.9M57.8 166.0h0.9M49.5 156.9h0.9M67.5 134.7h0.9M52.1 147.2h0.9M50.9 115.1h0.9M58.8 123.6h0.9M54.7 160.9h0.9M87.4 150.1h0.9M59.6 119.8h0.9M67.5 116.9h0.9M109.0 132.5h0.9M80.5 141.8h0.9M59.6 148.7h0.9M60.8 171.9h0.9M80.8 143.6h0.9M50.6 154.1h0.9M108.5 124.5h0.9M46.0 150.7h0.9M54.9 139.5h0.9M62.7 127.2h0.9M69.2 134.5h0.9M47.2 135.2h0.9M76.1 140.3h0.9M61.5 144.5h0.9M57.4 126.3h0.9M56.0 121.6h0.9M48.4 151.4h0.9M66.3 124.1h0.9M75.3 167.5h0.9M100.7 150.2h0.9M146.2 84.7h0.9M45.7 165.2h0.9M49.5 167.6h0.9M79.3 154.8h0.9M73.2 132.0h0.9M64.5 143.6h0.9M85.9 118.5h0.9M78.0 152.6h0.9M51.6 114.1h0.9M66.2 131.0h0.9M63.8 156.4h0.9M50.5 114.2h0.9M61.9 129.2h0.9M47.5 139.7h0.9M54.3 159.7h0.9M48.5 143.3h0.9M61.3 106.1h0.9M46.9 135.5h0.9M49.4 120.9h0.9M63.5 123.3h0.9M100.3 138.0h0.9M56.4 155.7h0.9M54.1 122.4h0.9M45.6 156.1h0.9M49.3 135.6h0.9M95.6 153.6h0.9M47.8 125.6h0.9M118.6 126.3h0.9M62.3 113.4h0.9M49.6 148.0h0.9M79.4 155.2h0.9M49.9 141.4h0.9M80.0 144.2h0.9M82.0 135.9h0.9M48.7 165.7h0.9M47.0 155.3h0.9M74.5 119.7h0.9M52.2 122.7h0.9M57.7 163.8h0.9M54.1 142.6h0.9M55.2 131.8h0.9M54.9 160.2h0.9M49.3 128.7h0.9M107.8 127.2h0.9M68.8 153.7h0.9M79.4 112.3h0.9M74.8 125.1h0.9M51.8 121.6h0.9M55.8 151.0h0.9M63.8 135.1h0.9M63.2 136.8h0.9M51.4 134.7h0.9M89.7 106.9h0.9M75.7 142.6h0.9M52.9 143.8h0.9M50.8 136.1h0.9M58.8 177.3h0.9M85.2 147.0h0.9M53.9 148.4h0.9M110.9 139.3h0.9M49.3 132.6h0.9M65.5 155.8h0.9M46.6 158.5h0.9M55.1 110.4h0.9M46.8 157.5h0.9M52.2 146.7h0.9M49.2 155.7h0.9M47.1 145.8h0.9M58.3 111.6h0.9M54.0 113.0h0.9M85.1 172.9h0.9M47.3 141.5h0.9M56.5 108.1h0.9M75.1 143.4h0.9M50.6 129.2h0.9M119.2 90.6h0.9M63.5 104.4h0.9M71.7 141.9h0.9M68.4 135.5h0.9M61.3 131.5h0.9M46.4 142.1h0.9M48.2 148.5h0.9M61.5 130.4h0.9M65.0 119.9h0.9M53.3 125.5h0.9M51.0 134.0h0.9M51.0 131.1h0.9M59.0 107.4h0.9M80.5 126.8h0.9M51.4 176.8h0.9M60.1 115.4h0.9M49.3 142.0h0.9M86.9 148.4h0.9M47.4 145.7h0.9M63.2 114.1h0.9M63.1 156.4h0.9M64.2 120.7h0.9M72.7 113.8h0.9M47.9 124.3h0.9M49.4 134.3h0.9M64.5 150.7h0.9M47.7 148.9h0.9M49.1 136.0h0.9M64.7 155.1h0.9M63.1 138.1h0.9M47.7 154.4h0.9M49.4 152.0h0.9M62.1 108.6h0.9M49.5 130.4h0.9M55.1 134.5h0.9M49.3 127.4h0.9M80.3 164.3h0.9M57.0 154.1h0.9M63.1 182.4h0.9M56.3 136.9h0.9M57.5 136.1h0.9M49.9 151.0h0.9M56.5 173.0h0.9M64.9 132.7h0.9M58.8 147.6h0.9M60.4 139.6h0.9M49.3 149.6h0.9M55.9 128.0h0.9M59.8 137.4h0.9M49.0 123.0h0.9M73.7 123.2h0.9M91.0 133.6h0.9M54.2 133.6h0.9M58.0 113.0h0.9M58.3 167.9h0.9M52.0 133.7h0.9M55.9 108.8h0.9M49.1 158.5h0.9M67.3 121.5h0.9M63.1 141.5h0.9M51.8 139.9h0.9M82.5 124.9h0.9M66.5 137.3h0.9M70.5 177.1h0.9M50.1 137.8h0.9M69.2 145.1h0.9M84.2 115.4h0.9M128.6 109.0h0.9M45.7 179.6h0.9M47.6 178.0h0.9M53.5 147.2h0.9M51.9 138.0h0.9M69.8 146.0h0.9M47.6 149.2h0.9M50.2 160.0h0.9M58.4 145.2h0.9M51.2 139.3h0.9M54.2 140.0h0.9M51.1 163.5h0.9M49.7 152.8h0.9M50.8 116.4h0.9M62.3 123.7h0.9M80.7 143.1h0.9M77.9 124.0h0.9M47.9 128.9h0.9M50.3 117.3h0.9M60.9 131.2h0.9M67.0 144.9h0.9M55.8 156.4h0.9M47.6 136.6h0.9M45.2 177.9h0.9M62.8 156.5h0.9M53.8 146.4h0.9M92.5 126.5h0.9M52.8 133.3h0.9M56.7 140.0h0.9M72.3 174.9h0.9M66.3 108.9h0.9M83.0 174.6h0.9M54.6 131.4h0.9M51.7 150.9h0.9M50.5 139.2h0.9M108.0 150.1h0.9M55.2 138.3h0.9M119.0 113.6h0.9M56.3 155.4h0.9M54.6 150.3h0.9M63.1 148.4h0.9M53.5 156.6h0.9M61.8 158.5h0.9M48.8 136.0h0.9M58.4 109.3h0.9M113.4 108.8h0.9M58.9 163.4h0.9M68.8 150.7h0.9M82.1 138.5h0.9M51.8 127.8h0.9M60.0 137.1h0.9M51.5 136.9h0.9M59.1 129.7h0.9M65.9 122.5h0.9M47.6 179.7h0.9M57.6 141.0h0.9M65.5 124.3h0.9M109.7 110.4h0.9M49.8 121.9h0.9M73.2 150.8h0.9M51.8 151.6h0.9M49.0 132.1h0.9M55.5 137.5h0.9M61.9 130.3h0.9M48.7 162.5h0.9M65.7 186.0h0.9M49.7 121.3h0.9M64.8 133.7h0.9M55.0 154.1h0.9M52.2 131.5h0.9M104.8 108.7h0.9M48.2 117.5h0.9M76.7 138.5h0.9M48.8 143.3h0.9M50.8 134.6h0.9M75.5 156.5h0.9M64.2 156.3h0.9M49.9 142.9h0.9M87.1 137.0h0.9M53.6 131.4h0.9M80.8 147.5h0.9M48.0 154.8h0.9M52.0 137.7h0.9M73.3 145.4h0.9M64.4 130.0h0.9M78.8 108.2h0.9M50.5 116.4h0.9M70.1 151.8h0.9M79.9 145.4h0.9M65.2 168.3h0.9M63.9 137.6h0.9M52.3 153.7h0.9M69.8 162.9h0.9M76.9 156.3h0.9M59.5 124.3h0.9M63.5 132.8h0.9M92.8 139.0h0.9M60.9 145.9h0.9M53.7 156.9h0.9M48.7 126.8h0.9M52.5 175.9h0.9M78.6 130.6h0.9M49.0 132.4h0.9M62.6 131.7h0.9M62.1 122.3h0.9M52.1 144.8h0.9M46.5 136.9h0.9M59.8 169.7h0.9M60.3 148.6h0.9M47.2 147.2h0.9M58.7 132.0h0.9M56.7 108.2h0.9M54.8 134.7h0.9M109.9 119.4h0.9M86.8 155.5h0.9M46.4 169.8h0.9M45.7 151.2h0.9M56.0 153.2h0.9M76.2 140.6h0.9M60.4 149.5h0.9M73.6 154.9h0.9M57.2 122.2h0.9M56.1 146.3h0.9M47.1 188.9h0.9M46.9 134.7h0.9M70.4 131.3h0.9M52.3 122.6h0.9M46.8 160.2h0.9M83.1 142.4h0.9M55.7 173.3h0.9M54.4 186.6h0.9M54.9 118.7h0.9M54.2 157.5h0.9M46.4 148.9h0.9M55.7 144.4h0.9M67.9 146.0h0.9M62.0 136.0h0.9M51.0 168.3h0.9M53.9 143.4h0.9M94.0 161.4h0.9M69.0 154.4h0.9M61.5 145.7h0.9M72.4 143.0h0.9M74.6 171.6h0.9M49.2 146.7h0.9M62.3 134.7h0.9M97.0 119.4h0.9M53.2 129.6h0.9M53.2 115.5h0.9M51.1 138.7h0.9M111.2 141.6h0.9M80.6 95.5h0.9M52.9 136.9h0.9M66.8 149.5h0.9M89.5 139.8h0.9M99.1 117.4h0.9M46.2 161.9h0.9M55.2 122.6h0.9M93.1 111.9h0.9M55.7 114.9h0.9M48.1 136.2h0.9M69.0 156.2h0.9M46.2 159.8h0.9M99.7 140.7h0.9M70.9 112.6h0.9M138.0 123.4h0.9M47.9 118.5h0.9M60.9 132.9h0.9M57.1 138.7h0.9M59.3 149.4h0.9M48.3 133.5h0.9M50.2 145.7h0.9M60.7 123.7h0.9M48.9 159.6h0.9M56.7 127.3h0.9M53.7 160.5h0.9M56.6 130.0h0.9M80.4 166.7h0.9M58.2 146.1h0.9M52.3 127.4h0.9M50.4 152.4h0.9M83.7 121.0h0.9M68.3 107.4h0.9M53.0 141.6h0.9M73.7 135.4h0.9M49.8 134.9h0.9M81.7 128.3h0.9M48.4 165.2h0.9M73.1 128.0h0.9M49.7 122.0h0.9M65.4 161.4h0.9M54.4 164.9h0.9M56.7 143.2h0.9M134.5 148.7h0.9M61.7 136.8h0.9M50.9 167.5h0.9M58.1 150.0h0.9M59.8 123.9h0.9M66.4 162.9h0.9M53.8 134.9h0.9M54.8 157.1h0.9M116.4 123.5h0.9M70.5 108.3h0.9M61.9 114.2h0.9M58.1 124.3h0.9M52.8 116.0h0.9M110.0 160.5h0.9M52.2 163.2h0.9M93.4 141.9h0.9M83.8 115.8h0.9M49.3 134.1h0.9M52.6 122.7h0.9M54.5 165.5h0.9M48.3 142.8h0.9M70.4 146.2h0.9M55.8 128.5h0.9M47.7 121.0h0.9M56.0 143.9h0.9M53.2 138.4h0.9M48.1 120.4h0.9M72.6 128.7h0.9M76.1 167.8h0.9M81.5 117.3h0.9M58.6 118.1h0.9M81.8 131.9h0.9M74.8 127.9h0.9M56.8 147.1h0.9M53.4 171.1h0.9M92.1 100.9h0.9M47.2 136.1h0.9M68.4 134.8h0.9M72.4 132.7h0.9M55.2 129.6h0.9M57.4 156.5h0.9M58.6 127.1h0.9M79.8 133.9h0.9M60.9 136.4h0.9M46.6 138.6h0.9M49.6 133.0h0.9M86.7 156.4h0.9M61.0 136.3h0.9M54.1 139.9h0.9M58.1 115.4h0.9M82.5 140.3h0.9M64.1 122.2h0.9M120.9 111.2h0.9M122.3 88.9h0.9M68.7 106.4h0.9M72.5 111.2h0.9M150.9 82.0h0.9M58.8 110.1h0.9M85.0 108.9h0.9M142.0 85.6h0.9M57.0 112.0h0.9M83.5 106.9h0.9M65.9 110.5h0.9M77.8 99.7h0.9M103.4 110.0h0.9M121.0 93.8h0.9M114.1 101.5h0.9M100.8 85.4h0.9M67.3 106.0h0.9M52.8 110.4h0.9M123.9 104.0h0.9M78.2 109.9h0.9M98.5 107.7h0.9M52.1 111.5h0.9M64.8 110.7h0.9M99.5 100.3h0.9M70.9 100.5h0.9M63.9 112.2h0.9M75.2 98.3h0.9M104.2 134.6h0.9M48.8 193.7h0.9M67.5 153.0h0.9M66.8 153.4h0.9M85.2 118.7h0.9M75.2 101.8h0.9M109.8 145.9h0.9M73.7 159.4h0.9M67.1 175.2h0.9M108.0 125.7h0.9M110.7 112.2h0.9M59.0 145.1h0.9"/>
<path stroke="#fb9400" stroke-opacity="0.8" stroke-width="0.9" fill="none" d="M49.1 116.8h0.9M47.4 126.1h0.9M50.7 118.3h0.9M55.0 117.2h0.9M49.3 125.8h0.9M49.4 116.5h0.9M50.4 129.9h0.9M49.0 128.8h0.9M50.5 120.3h0.9M51.5 112.4h0.9M47.8 133.2h0.9M51.3 124.5h0.9M47.3 131.2h0.9M52.3 119.2h0.9M47.7 132.2h0.9M52.1 122.1h0.9M48.8 122.4h0.9M52.2 121.8h0.9M47.8 126.0h0.9M49.4 125.2h0.9M49.2 133.5h0.9M48.3 127.9h0.9M48.5 119.1h0.9M49.6 122.6h0.9M47.5 125.2h0.9M50.3 120.9h0.9M50.5 112.7h0.9M54.9 115.9h0.9M56.0 123.0h0.9M47.9 127.2h0.9M51.0 128.6h0.9M51.7 123.1h0.9M49.0 117.9h0.9M48.0 136.3h0.9M59.1 122.9h0.9M48.6 118.4h0.9M48.5 121.7h0.9M48.1 121.3h0.9M49.6 129.8h0.9M47.1 136.1h0.9M52.2 129.8h0.9M48.6 126.3h0.9M47.7 121.8h0.9M52.4 120.3h0.9M48.8 125.7h0.9M49.4 116.0h0.9M52.3 114.6h0.9M49.9 129.4h0.9M50.1 120.0h0.9M56.6 123.0h0.9M47.9 129.6h0.9M53.1 130.3h0.9M48.2 117.9h0.9M49.9 130.7h0.9M49.0 124.1h0.9M49.9 124.5h0.9M54.3 111.5h0.9M50.2 115.9h0.9M51.0 120.7h0.9M51.8 125.7h0.9M50.9 118.8h0.9M50.8 120.6h0.9M47.3 128.2h0.9M47.5 131.3h0.9M47.8 126.8h0.9M51.5 130.3h0.9M49.6 118.6h0.9M48.4 123.7h0.9M49.2 119.3h0.9M48.6 117.9h0.9M49.3 133.0h0.9M50.3 120.0h0.9M51.0 114.7h0.9M50.1 124.9h0.9M48.6 134.3h0.9M49.0 122.0h0.9M57.3 130.1h0.9M49.8 118.4h0.9M47.6 120.4h0.9M52.1 134.3h0.9M48.7 113.4h0.9M49.1 132.9h0.9M52.2 114.4h0.9M49.0 119.8h0.9M50.1 127.3h0.9M52.3 125.9h0.9M50.0 123.4h0.9M54.8 109.9h0.9M50.0 114.3h0.9M50.4 139.4h0.9M53.3 120.0h0.9M52.2 122.8h0.9M52.7 113.4h0.9M52.4 112.4h0.9M48.0 128.3h0.9M52.8 119.6h0.9M48.5 125.4h0.9M50.2 116.7h0.9M54.9 117.9h0.9M53.4 130.5h0.9M49.3 114.6h0.9M48.6 124.3h0.9M49.8 118.4h0.9M47.6 127.8h0.9M56.7 115.7h0.9M47.2 127.6h0.9M56.8 131.9h0.9M49.5 130.7h0.9M48.4 118.2h0.9M48.8 120.0h0.9M51.4 115.6h0.9M48.9 122.9h0.9M54.0 129.5h0.9M52.2 111.3h0.9M48.9 127.9h0.9M51.2 112.2h0.9M48.5 136.2h0.9M48.0 121.9h0.9M49.9 123.2h0.9M49.0 116.7h0.9M49.8 121.6h0.9M51.0 136.9h0.9M51.1 118.8h0.9M50.2 121.6h0.9M50.8 126.2h0.9M50.0 121.6h0.9M53.5 128.2h0.9M49.3 122.8h0.9M49.6 124.0h0.9M50.2 119.0h0.9M49.3 123.7h0.9M49.1 121.8h0.9M52.6 131.6h0.9M52.1 126.5h0.9M55.8 119.7h0.9M47.3 126.5h0.9M50.5 126.7h0.9M50.7 113.5h0.9M50.5 127.9h0.9M50.8 114.0h0.9M48.5 118.2h0.9M52.2 123.0h0.9M50.9 130.0h0.9M50.6 121.3h0.9M49.9 120.7h0.9M52.9 117.6h0.9M48.3 132.9h0.9M51.2 128.9h0.9M49.7 120.8h0.9M48.4 115.9h0.9M55.7 125.5h0.9M48.2 127.7h0.9M50.9 124.0h0.9M48.8 123.5h0.9M49.7 126.0h0.9M50.5 124.9h0.9M49.2 119.2h0.9M55.7 137.8h0.9M52.7 113.0h0.9M49.5 118.1h0.9M50.5 128.9h0.9M54.4 120.3h0.9M53.4 115.8h0.9M48.7 112.2h0.9M48.4 125.2h0.9M48.0 128.6h0.9M51.1 131.2h0.9M48.0 121.8h0.9M50.8 128.8h0.9M57.4 114.2h0.9M50.2 116.7h0.9M47.8 122.7h0.9M47.4 126.7h0.9M52.0 128.9h0.9M53.4 114.5h0.9M50.8 130.3h0.9M49.9 118.1h0.9M51.2 114.3h0.9M48.1 120.3h0.9M48.2 121.5h0.9M51.0 123.5h0.9M48.2 120.0h0.9M47.4 125.2h0.9M48.0 119.2h0.9M48.5 121.5h0.9M51.7 111.4h0.9M57.5 115.5h0.9M49.1 118.3h0.9M50.4 122.8h0.9M68.2 139.6h0.9M69.0 153.3h0.9M68.8 155.2h0.9M69.3 142.5h0.9M69.7 146.0h0.9M69.0 150.0h0.9M68.5 134.9h0.9M67.5 145.4h0.9M67.6 160.1h0.9M68.1 164.4h0.9M68.8 147.2h0.9M68.7 161.7h0.9M68.5 144.1h0.9M68.4 141.9h0.9M69.1 131.2h0.9M68.7 155.2h0.9M68.8 145.2h0.9M68.8 165.6h0.9M68.0 150.5h0.9M67.5 149.4h0.9M69.0 134.5h0.9M68.9 159.3h0.9M68.3 145.3h0.9M68.1 146.8h0.9M70.7 131.5h0.9M67.8 155.0h0.9M68.3 155.4h0.9M68.8 143.5h0.9M67.4 148.7h0.9M68.6 151.0h0.9M70.2 155.2h0.9M69.4 148.8h0.9M69.1 160.9h0.9M69.1 146.2h0.9M68.6 143.5h0.9M69.4 144.5h0.9M68.4 129.0h0.9M68.1 142.0h0.9M68.6 155.6h0.9M69.4 150.0h0.9M68.8 141.9h0.9M69.1 150.7h0.9M66.6 132.9h0.9M69.6 145.9h0.9M70.7 152.0h0.9M69.8 153.3h0.9M68.2 142.2h0.9M67.7 154.9h0.9M68.8 162.1h0.9M67.6 144.8h0.9M69.2 153.6h0.9M68.0 136.4h0.9M69.4 133.3h0.9M69.8 152.6h0.9M66.6 148.4h0.9M68.8 149.5h0.9M67.8 143.7h0.9M67.2 145.8h0.9M67.9 154.1h0.9M68.3 160.9h0.9M69.5 146.4h0.9M67.1 135.7h0.9M69.5 157.6h0.9M70.4 152.6h0.9M69.1 153.2h0.9M69.0 149.4h0.9M68.5 165.5h0.9M67.4 148.6h0.9M69.0 151.9h0.9M68.9 134.2h0.9M69.2 143.7h0.9M70.9 142.9h0.9M69.2 147.8h0.9M68.9 150.7h0.9M70.0 142.4h0.9M67.2 161.1h0.9M67.4 140.1h0.9M68.1 144.7h0.9M67.9 149.9h0.9M69.2 138.7h0.9M68.2 152.3h0.9M70.2 152.8h0.9M69.9 145.9h0.9M69.2 162.4h0.9M68.1 148.7h0.9M69.1 150.2h0.9M69.3 140.9h0.9M67.5 135.5h0.9M68.8 143.3h0.9M69.2 145.7h0.9M68.7 144.6h0.9M70.0 153.8h0.9M69.7 130.2h0.9M67.7 139.6h0.9M68.6 134.4h0.9M67.7 158.1h0.9M69.1 143.8h0.9M67.7 144.2h0.9M69.4 139.8h0.9M68.9 154.8h0.9M69.4 145.0h0.9M68.4 149.7h0.9M67.1 132.8h0.9M70.2 156.9h0.9M68.3 151.0h0.9M69.8 152.2h0.9M68.9 157.4h0.9M69.1 146.6h0.9M70.2 146.8h0.9M68.8 153.5h0.9M69.8 151.3h0.9M67.1 146.2h0.9M69.3 148.4h0.9M68.3 144.3h0.9M68.4 153.4h0.9M68.5 155.1h0.9M68.8 148.1h0.9M70.1 162.2h0.9M66.7 136.5h0.9M68.5 146.3h0.9M67.8 160.9h0.9M69.6 144.9h0.9M68.1 136.1h0.9M68.9 158.6h0.9M68.1 152.2h0.9M69.1 139.1h0.9M69.5 153.9h0.9M68.1 140.4h0.9M68.5 138.0h0.9M67.2 146.9h0.9M68.8 144.5h0.9M69.3 139.8h0.9M68.0 145.3h0.9M69.6 140.5h0.9M66.5 148.5h0.9M66.7 147.9h0.9M67.2 153.7h0.9M68.0 144.7h0.9M68.5 138.1h0.9M68.4 138.2h0.9M68.4 146.2h0.9M69.2 159.6h0.9M68.1 154.5h0.9M67.3 143.3h0.9M67.3 155.2h0.9M70.5 139.4h0.9M66.3 155.7h0.9M68.3 145.2h0.9M69.9 153.9h0.9M69.0 152.8h0.9M67.7 146.0h0.9M68.5 150.6h0.9M69.3 140.1h0.9M69.6 147.5h0.9M67.6 156.2h0.9M69.2 178.9h0.9M68.7 153.4h0.9M69.5 148.8h0.9M69.8 140.5h0.9M68.2 156.1h0.9M67.1 135.6h0.9M68.9 142.1h0.9M70.2 150.8h0.9M69.2 139.0h0.9M68.7 159.7h0.9M70.8 156.3h0.9M67.5 143.8h0.9M69.4 143.9h0.9M68.0 138.2h0.9M68.5 137.6h0.9M68.6 151.4h0.9M69.9 152.8h0.9M67.6 150.7h0.9M68.0 150.1h0.9M67.0 143.9h0.9M69.0 150.8h0.9M68.1 137.0h0.9M68.9 148.2h0.9M67.5 159.2h0.9M68.2 158.1h0.9M69.5 144.6h0.9M68.3 145.6h0.9M69.1 158.5h0.9M69.0 161.6h0.9M68.2 136.8h0.9M67.0 144.9h0.9M69.4 149.9h0.9M68.7 157.3h0.9M69.4 141.8h0.9M66.6 152.9h0.9M66.9 145.8h0.9M66.5 166.0h0.9M67.7 151.3h0.9M69.5 147.1h0.9M69.0 145.6h0.9M68.5 156.1h0.9M68.6 153.2h0.9M69.2 140.0h0.9M68.2 149.7h0.9M68.9 138.0h0.9M68.6 142.4h0.9M66.4 138.4h0.9M68.1 138.1h0.9M69.8 142.9h0.9M68.1 140.7h0.9M68.4 152.1h0.9M67.9 154.1h0.9M68.0 146.3h0.9M69.6 139.7h0.9M68.2 154.2h0.9M67.5 132.9h0.9M65.5 133.6h0.9M68.0 153.6h0.9M66.6 153.1h0.9M66.8 155.5h0.9M69.3 146.5h0.9M69.2 138.6h0.9M66.7 144.3h0.9M69.3 152.4h0.9M68.9 142.3h0.9M67.8 142.8h0.9M69.2 137.6h0.9M67.0 139.3h0.9M67.4 154.5h0.9M67.1 151.5h0.9M67.4 139.4h0.9M69.3 140.0h0.9M67.2 143.9h0.9M67.4 152.2h0.9M67.6 139.3h0.9M68.7 146.8h0.9M68.2 132.0h0.9M69.3 138.6h0.9M67.8 151.3h0.9M67.3 154.9h0.9M68.0 139.4h0.9M68.5 142.3h0.9M67.6 154.1h0.9M68.8 145.2h0.9M70.2 144.0h0.9M67.9 152.0h0.9M68.5 149.6h0.9M69.8 156.5h0.9M67.9 154.1h0.9M67.7 143.8h0.9M67.4 147.2h0.9M68.9 147.7h0.9M69.0 137.9h0.9M68.3 140.8h0.9M68.5 155.4h0.9M69.7 136.2h0.9M69.3 155.6h0.9M67.2 150.3h0.9M68.5 147.1h0.9M68.6 152.2h0.9M69.2 151.7h0.9M68.3 157.2h0.9M67.9 145.1h0.9M68.0 146.4h0.9M66.8 146.3h0.9M68.5 162.3h0.9M67.9 155.3h0.9M68.9 141.2h0.9M67.5 145.6h0.9M68.1 142.8h0.9M67.5 148.2h0.9M67.5 149.7h0.9M69.1 165.4h0.9M68.0 134.4h0.9M68.9 155.9h0.9M67.4 151.4h0.9M68.6 142.9h0.9M66.9 147.0h0.9M68.0 144.4h0.9M68.0 148.5h0.9M69.0 155.7h0.9M68.6 136.7h0.9M68.3 158.0h0.9M69.3 145.3h0.9M68.6 159.5h0.9M69.0 151.3h0.9M69.2 157.4h0.9M68.4 152.4h0.9M68.2 156.3h0.9M68.8 148.6h0.9M68.1 141.9h0.9M68.8 153.2h0.9M69.5 153.5h0.9M69.3 164.0h0.9M68.1 133.1h0.9M67.2 146.7h0.9M68.4 156.2h0.9M68.3 138.8h0.9M69.5 146.5h0.9M68.1 164.1h0.9M68.3 158.8h0.9M69.2 141.6h0.9M68.0 158.9h0.9M68.3 157.1h0.9M70.1 154.0h0.9M69.9 151.1h0.9M69.1 150.0h0.9M68.7 141.7h0.9M67.5 144.3h0.9M69.0 153.7h0.9M68.5 149.3h0.9M68.7 162.1h0.9M68.0 145.7h0.9M68.4 130.2h0.9M68.3 145.7h0.9M68.8 150.3h0.9M69.8 151.1h0.9M68.8 148.7h0.9M66.9 142.1h0.9M67.5 159.5h0.9M67.0 143.2h0.9M67.7 153.6h0.9M69.0 146.1h0.9M68.8 139.2h0.9M67.9 158.9h0.9M68.7 129.4h0.9M67.7 141.9h0.9M67.1 151.5h0.9M67.1 145.6h0.9M67.6 153.9h0.9M69.8 147.5h0.9M67.2 144.9h0.9M69.6 164.5h0.9M69.7 146.6h0.9M68.3 147.1h0.9M68.4 140.1h0.9M67.9 142.7h0.9M68.4 153.2h0.9M69.1 152.5h0.9M68.5 148.3h0.9M69.4 143.0h0.9M69.6 153.4h0.9M68.8 135.5h0.9M68.8 145.7h0.9M68.4 146.4h0.9M68.8 142.0h0.9M67.4 149.5h0.9M68.8 143.3h0.9M68.6 142.3h0.9M67.6 161.8h0.9M70.5 153.9h0.9M67.5 157.3h0.9M67.6 148.7h0.9M68.7 155.6h0.9M66.6 154.2h0.9M67.7 157.4h0.9M67.0 166.1h0.9M67.5 146.7h0.9M68.3 150.3h0.9M68.8 148.0h0.9M69.5 122.0h0.9M69.2 137.9h0.9M69.6 148.5h0.9M69.0 153.1h0.9M68.0 144.1h0.9M69.5 156.9h0.9M68.0 158.0h0.9M67.9 145.3h0.9M69.9 159.1h0.9M69.2 161.5h0.9M68.7 151.9h0.9M69.2 141.1h0.9M69.3 159.4h0.9M67.2 147.2h0.9M68.4 145.6h0.9M67.3 149.3h0.9M68.6 144.4h0.9M67.8 156.5h0.9M69.7 154.3h0.9M68.9 157.6h0.9M67.7 152.8h0.9M68.4 142.5h0.9M67.3 147.3h0.9M68.5 155.0h0.9M69.0 145.4h0.9M68.7 170.3h0.9M66.6 146.6h0.9M68.1 144.1h0.9M68.9 157.1h0.9M68.7 154.1h0.9M69.5 148.2h0.9M67.2 146.7h0.9M68.9 151.6h0.9M67.8 154.7h0.9M68.6 154.2h0.9M68.8 146.2h0.9M69.1 151.7h0.9M67.9 154.8h0.9M68.6 154.2h0.9M67.3 125.3h0.9M67.1 141.8h0.9M69.0 142.6h0.9M68.4 146.7h0.9M66.9 149.8h0.9M67.6 155.4h0.9M68.5 153.1h0.9M69.9 147.5h0.9M69.4 148.6h0.9M69.2 161.6h0.9M66.7 143.9h0.9M68.4 150.7h0.9M68.9 160.2h0.9M68.8 151.0h0.9M68.8 133.1h0.9M68.2 151.3h0.9M70.1 145.5h0.9M69.8 147.6h0.9M68.4 156.3h0.9M67.5 152.0h0.9M70.4 146.5h0.9M67.9 155.1h0.9M69.6 151.7h0.9M70.3 149.2h0.9M67.5 150.7h0.9M68.7 150.3h0.9M68.1 145.9h0.9M68.9 145.0h0.9M68.7 148.6h0.9M70.3 141.3h0.9M69.0 139.0h0.9M68.4 158.2h0.9M69.5 146.7h0.9M68.2 148.3h0.9M68.1 147.4h0.9M70.6 148.6h0.9M67.7 148.6h0.9M68.0 148.9h0.9M68.5 142.4h0.9M67.4 155.4h0.9M66.4 143.3h0.9M69.4 156.2h0.9M67.7 134.1h0.9M67.9 140.5h0.9M68.1 155.9h0.9M67.5 147.3h0.9M67.4 143.4h0.9M68.6 151.3h0.9M70.7 140.6h0.9M69.1 149.0h0.9M69.2 131.8h0.9M67.0 145.1h0.9M68.4 143.6h0.9M67.3 152.5h0.9M69.2 155.0h0.9M68.2 142.0h0.9M68.5 160.5h0.9M68.4 144.0h0.9M67.9 133.0h0.9M67.0 130.6h0.9M69.0 160.0h0.9M67.1 147.8h0.9M67.3 143.6h0.9M68.2 142.8h0.9M67.8 140.3h0.9M68.7 158.6h0.9M69.4 147.8h0.9M68.7 161.9h0.9M68.6 147.0h0.9M68.5 130.8h0.9M69.3 154.8h0.9M66.7 145.7h0.9M68.8 146.7h0.9M67.6 160.2h0.9M67.3 146.5h0.9M68.4 157.2h0.9M68.1 148.4h0.9M69.0 142.8h0.9M69.5 152.3h0.9M66.2 143.9h0.9M68.4 157.7h0.9M70.3 155.6h0.9M69.3 148.9h0.9M69.8 153.0h0.9M68.5 152.7h0.9M67.1 146.4h0.9M85.3 144.5h0.9M84.4 150.8h0.9M85.1 137.5h0.9M83.9 145.0h0.9M84.7 137.7h0.9M84.9 144.6h0.9M84.0 145.1h0.9M84.3 134.9h0.9M84.2 136.9h0.9M85.1 136.8h0.9M84.1 135.3h0.9M84.9 138.7h0.9M85.7 137.7h0.9M84.9 135.5h0.9M83.4 142.5h0.9M84.7 144.5h0.9M85.4 136.1h0.9M84.4 139.5h0.9M85.4 142.1h0.9M85.1 141.0h0.9M84.9 138.9h0.9M84.4 145.7h0.9M84.2 145.8h0.9M84.4 145.1h0.9M84.7 141.1h0.9M85.0 150.9h0.9M84.9 149.8h0.9M84.4 140.2h0.9M84.7 141.5h0.9M84.9 147.3h0.9M83.4 138.4h0.9M84.0 143.8h0.9M84.0 142.2h0.9M84.5 138.8h0.9M84.4 141.0h0.9M84.4 134.9h0.9M84.0 139.6h0.9M85.1 133.0h0.9M84.8 152.3h0.9M83.4 148.8h0.9M84.6 147.5h0.9M83.8 143.4h0.9M85.9 146.5h0.9M84.3 147.7h0.9M84.3 146.6h0.9M84.7 146.1h0.9M84.5 137.9h0.9M84.6 143.9h0.9M85.8 139.6h0.9M84.8 136.7h0.9M85.2 136.8h0.9M85.5 143.9h0.9M83.9 146.7h0.9M85.9 135.8h0.9M85.1 149.8h0.9M85.3 148.6h0.9M84.0 140.3h0.9M85.2 139.9h0.9M84.9 141.6h0.9M84.2 146.4h0.9M86.3 140.2h0.9M85.0 137.0h0.9M84.4 143.5h0.9M84.8 132.7h0.9M85.3 142.6h0.9M85.5 147.2h0.9M85.1 143.3h0.9M85.5 145.5h0.9M85.7 144.2h0.9M83.7 145.2h0.9M84.3 142.6h0.9M83.9 138.2h0.9M84.7 140.9h0.9M85.7 141.6h0.9M85.1 147.6h0.9M83.8 149.3h0.9M84.4 143.8h0.9M85.4 138.6h0.9M84.2 138.7h0.9M84.5 141.1h0.9M84.8 148.2h0.9M83.2 143.5h0.9M85.2 141.7h0.9M84.9 138.5h0.9M85.0 145.9h0.9M83.9 143.3h0.9M84.0 141.7h0.9M84.2 142.4h0.9M84.8 149.5h0.9M84.7 141.2h0.9M84.7 149.5h0.9M86.0 147.5h0.9M85.6 142.2h0.9M84.1 145.9h0.9M84.1 141.4h0.9M85.9 138.2h0.9M84.4 140.7h0.9M85.6 137.9h0.9M85.8 144.3h0.9M84.2 142.0h0.9M84.4 144.5h0.9M84.7 145.7h0.9M84.0 127.9h0.9M83.9 143.4h0.9M84.3 133.8h0.9M85.3 142.7h0.9M84.3 138.0h0.9M84.5 142.4h0.9M84.3 148.1h0.9M83.6 134.3h0.9M85.7 142.8h0.9M82.9 141.6h0.9M84.1 133.4h0.9M85.0 144.9h0.9M83.6 142.1h0.9M85.1 139.7h0.9M85.6 138.7h0.9M84.0 156.4h0.9M84.8 140.2h0.9M83.8 133.8h0.9M85.0 137.8h0.9M84.7 140.3h0.9M84.8 140.2h0.9M85.6 141.6h0.9M85.0 137.2h0.9M85.6 144.4h0.9M85.1 139.8h0.9M83.7 135.8h0.9M84.8 138.3h0.9M85.0 140.2h0.9M83.5 145.8h0.9M85.6 144.1h0.9M84.7 140.4h0.9M84.9 142.0h0.9M83.9 142.9h0.9M84.7 151.1h0.9M84.8 139.2h0.9M84.4 144.1h0.9M84.7 145.2h0.9M83.0 137.7h0.9M85.6 142.8h0.9M83.8 142.7h0.9M83.0 139.8h0.9M83.9 144.5h0.9M84.0 146.6h0.9M85.0 147.0h0.9M83.9 141.1h0.9M84.8 142.8h0.9M83.9 152.5h0.9M86.3 137.0h0.9"/>
<path d="M48.0 112.0L134.2 65.7L156.2 78.1L150.2 150.3L46.6 197.4L44.2 192.0L44.7 166.0z" fill="none" stroke="#f0bb66" stroke-width="1.1"/>
<text x="43.5" y="67.5" font-size="7.2" fill="#eeaa38" text-anchor="start" stroke="#eeaa38" stroke-width="0.2">P1(18.12%)</text>
<path stroke="#2a2a2a" stroke-opacity="0.75" stroke-width="0.9" fill="none" d="M289.6 188.7h0.9M328.2 195.8h0.9M322.2 194.9h0.9M309.1 188.6h0.9M219.5 188.3h0.9M276.7 196.9h0.9M251.1 192.5h0.9M288.1 190.7h0.9M238.7 195.4h0.9M236.4 194.8h0.9M347.4 198.7h0.9M337.8 188.2h0.9M231.3 196.0h0.9M330.6 192.4h0.9M227.0 189.9h0.9M264.1 192.8h0.9M353.2 187.2h0.9M345.9 188.4h0.9M281.6 188.2h0.9M313.5 195.1h0.9M270.0 195.3h0.9M333.4 189.8h0.9M261.0 190.6h0.9M246.1 196.1h0.9M237.6 191.5h0.9M303.8 191.1h0.9M293.9 198.1h0.9M340.8 193.4h0.9M238.0 193.3h0.9M327.4 194.2h0.9M346.4 187.4h0.9M319.6 191.7h0.9M233.6 196.3h0.9M238.9 194.6h0.9M230.0 197.5h0.9M263.4 190.6h0.9M321.2 192.6h0.9M237.7 189.7h0.9M279.1 189.1h0.9M224.0 188.0h0.9M310.2 189.3h0.9M231.4 188.9h0.9M325.9 192.1h0.9M301.3 191.8h0.9M243.9 196.0h0.9M313.0 196.1h0.9M265.5 193.3h0.9M289.2 194.7h0.9M293.7 192.5h0.9M254.9 190.6h0.9M274.7 192.9h0.9M324.9 194.4h0.9M335.6 198.2h0.9M333.4 196.6h0.9M295.3 187.7h0.9M336.7 194.5h0.9M237.1 188.0h0.9M351.8 194.3h0.9M224.1 197.0h0.9M340.3 195.2h0.9M325.7 188.4h0.9M271.1 192.0h0.9M325.5 189.3h0.9M348.2 194.7h0.9M240.3 195.3h0.9M306.3 195.6h0.9M218.6 191.2h0.9M308.4 194.0h0.9M226.4 189.4h0.9M308.8 197.9h0.9M221.7 198.0h0.9M272.9 187.3h0.9M335.9 193.6h0.9M259.7 195.4h0.9M349.8 189.7h0.9M282.1 187.3h0.9M242.7 187.0h0.9M345.3 195.3h0.9M239.1 187.1h0.9M298.8 191.5h0.9M346.2 196.4h0.9M345.9 187.6h0.9M293.6 195.3h0.9M246.9 192.0h0.9M286.1 191.5h0.9M257.7 192.7h0.9M260.7 191.1h0.9M261.2 197.1h0.9M245.4 194.9h0.9M223.3 191.5h0.9M320.1 188.4h0.9M219.8 192.9h0.9M296.0 198.7h0.9M267.9 197.5h0.9M306.4 187.8h0.9M297.0 191.2h0.9M283.1 192.5h0.9M323.7 191.7h0.9M295.8 188.3h0.9M340.2 189.1h0.9M297.6 193.3h0.9M337.2 195.5h0.9M335.5 195.4h0.9M314.1 194.9h0.9M262.8 194.9h0.9M284.2 187.1h0.9M228.7 189.5h0.9M316.6 190.9h0.9M305.9 190.0h0.9M329.3 191.5h0.9M229.5 191.7h0.9M235.5 191.0h0.9M305.9 187.1h0.9M317.6 197.2h0.9M228.0 198.2h0.9M222.2 194.2h0.9M262.2 190.2h0.9M264.2 192.3h0.9M225.1 197.7h0.9M231.3 194.0h0.9M245.7 195.2h0.9M219.9 195.2h0.9M238.1 198.5h0.9M221.5 194.7h0.9M268.3 188.2h0.9M319.8 192.9h0.9M308.0 197.8h0.9M300.2 188.5h0.9M281.6 187.6h0.9M243.5 187.5h0.9M224.6 187.8h0.9M243.2 188.9h0.9M346.8 196.0h0.9M328.7 194.0h0.9M295.5 195.6h0.9M301.4 193.5h0.9M319.3 191.1h0.9M329.8 196.2h0.9M250.8 189.0h0.9M327.1 191.2h0.9M306.2 191.9h0.9M255.8 195.0h0.9M257.1 195.9h0.9M241.3 193.6h0.9M292.4 194.1h0.9M349.7 190.3h0.9M325.4 193.9h0.9M240.6 196.9h0.9M234.3 192.1h0.9M256.3 195.8h0.9M240.4 192.9h0.9M237.4 193.0h0.9M317.5 194.1h0.9M260.8 188.6h0.9M294.9 189.5h0.9M260.9 189.0h0.9M351.9 193.3h0.9M298.5 194.8h0.9M237.0 195.3h0.9M323.7 189.4h0.9M257.4 190.9h0.9M279.9 188.7h0.9M257.1 194.7h0.9M284.6 191.9h0.9M259.8 190.2h0.9M261.6 189.6h0.9M239.4 198.1h0.9M348.6 192.6h0.9M246.2 198.6h0.9M256.5 190.7h0.9M273.8 189.5h0.9M234.0 195.4h0.9M249.2 197.7h0.9M273.4 188.9h0.9M297.4 197.1h0.9M290.9 193.9h0.9M268.1 197.6h0.9M310.0 198.1h0.9M319.4 192.0h0.9M254.1 198.1h0.9M250.6 189.1h0.9M303.1 192.2h0.9M273.9 192.2h0.9M330.9 189.8h0.9M219.3 192.7h0.9M291.7 195.8h0.9M265.4 188.2h0.9M246.9 192.6h0.9M336.0 193.2h0.9M247.5 189.3h0.9M325.2 194.5h0.9M334.2 189.9h0.9M349.6 193.7h0.9M233.8 193.7h0.9M239.2 195.8h0.9M229.4 198.0h0.9M261.6 197.9h0.9M341.3 192.9h0.9M305.5 190.1h0.9M239.1 189.8h0.9M232.4 196.2h0.9M319.9 195.9h0.9M302.8 196.3h0.9M218.3 196.8h0.9M297.9 193.6h0.9M243.8 197.5h0.9M257.9 194.7h0.9M231.7 194.4h0.9M352.8 196.8h0.9M280.1 194.6h0.9M301.9 196.0h0.9M245.8 197.9h0.9M269.0 191.6h0.9M306.0 195.8h0.9M319.6 190.5h0.9M341.3 192.7h0.9M251.7 197.3h0.9M250.6 198.4h0.9M272.8 198.1h0.9M259.9 195.9h0.9M329.5 197.0h0.9M268.5 197.4h0.9M268.8 194.1h0.9M286.3 189.8h0.9M294.7 187.2h0.9M266.0 195.9h0.9M219.2 195.9h0.9M318.0 195.6h0.9M233.6 193.8h0.9M334.2 194.7h0.9M251.6 195.4h0.9M252.8 193.2h0.9M290.8 194.7h0.9M341.4 189.6h0.9M269.8 193.3h0.9M283.3 194.4h0.9M274.4 193.7h0.9M233.2 190.0h0.9M257.2 188.4h0.9M342.7 194.7h0.9M345.8 188.3h0.9M252.7 196.3h0.9M343.1 189.1h0.9M220.1 196.1h0.9M315.7 191.1h0.9M221.5 197.6h0.9M275.9 189.6h0.9M274.1 188.8h0.9M277.2 194.9h0.9M346.0 196.1h0.9M265.9 191.1h0.9M220.5 192.5h0.9M233.0 194.8h0.9M319.9 190.4h0.9M235.5 191.5h0.9M226.0 193.6h0.9M244.6 190.5h0.9M351.0 188.7h0.9M278.5 197.7h0.9M238.1 188.4h0.9M307.6 198.6h0.9M269.4 196.9h0.9M293.2 192.2h0.9M353.5 197.1h0.9M313.1 187.7h0.9M290.7 193.6h0.9M353.8 191.1h0.9M286.8 190.5h0.9M279.6 197.5h0.9M333.7 187.4h0.9M348.3 197.1h0.9M315.8 187.9h0.9M267.7 194.9h0.9M272.8 190.3h0.9M219.2 193.2h0.9M250.6 197.9h0.9M323.7 196.4h0.9M284.5 188.1h0.9M334.5 190.6h0.9M309.1 192.7h0.9M295.0 195.4h0.9M327.6 187.0h0.9M285.7 197.1h0.9M308.7 196.9h0.9M284.6 198.2h0.9M265.9 189.3h0.9M322.0 189.5h0.9M227.7 196.8h0.9M350.9 193.0h0.9M348.7 189.8h0.9M330.9 187.2h0.9M281.6 189.5h0.9M279.2 194.9h0.9M272.7 195.6h0.9M280.5 191.1h0.9M248.2 197.8h0.9M326.7 193.0h0.9M337.8 193.1h0.9M286.1 191.6h0.9M334.0 191.7h0.9M257.7 191.2h0.9M334.9 196.7h0.9M350.4 192.1h0.9M309.2 189.7h0.9M348.9 192.1h0.9M316.7 197.9h0.9M312.3 194.5h0.9M282.3 188.2h0.9M226.1 191.9h0.9M235.0 192.5h0.9M330.6 187.1h0.9M242.7 198.3h0.9M311.3 197.8h0.9M239.8 188.1h0.9M320.7 193.5h0.9M348.0 190.6h0.9M302.1 189.4h0.9M223.3 190.2h0.9M318.2 187.6h0.9M282.7 195.1h0.9M335.7 191.3h0.9M238.3 195.2h0.9M256.2 196.6h0.9M343.0 193.7h0.9M331.9 191.0h0.9M341.6 188.6h0.9M288.8 194.6h0.9M309.7 194.9h0.9M344.9 196.2h0.9M307.8 188.6h0.9M229.9 187.5h0.9M239.1 197.3h0.9M218.4 194.1h0.9M233.1 188.1h0.9M221.7 195.3h0.9M270.3 187.6h0.9M301.9 194.4h0.9M335.1 193.5h0.9M273.6 195.4h0.9M239.9 188.1h0.9M341.6 197.7h0.9M342.7 198.0h0.9M350.9 198.6h0.9M221.2 196.0h0.9M298.4 190.6h0.9M303.8 198.5h0.9M290.7 194.2h0.9M243.5 195.4h0.9M343.2 194.8h0.9M291.0 189.4h0.9M223.1 197.0h0.9M265.1 194.6h0.9M316.9 189.6h0.9M245.6 191.4h0.9M323.6 188.6h0.9M246.6 192.1h0.9M276.8 198.6h0.9M257.8 191.5h0.9M235.4 191.6h0.9M338.2 196.4h0.9M264.3 187.9h0.9M320.2 188.4h0.9M339.2 195.8h0.9M256.5 188.5h0.9M218.8 194.2h0.9M289.4 196.6h0.9M250.0 193.6h0.9M336.9 187.9h0.9M240.4 189.4h0.9M316.1 193.3h0.9M221.5 198.2h0.9M254.9 194.7h0.9M244.8 195.2h0.9M333.9 194.0h0.9M299.5 190.8h0.9M307.7 194.1h0.9M229.2 187.1h0.9M260.0 191.8h0.9M339.4 196.5h0.9M301.4 189.4h0.9M321.0 194.6h0.9M286.2 195.5h0.9M245.9 188.8h0.9M342.3 197.1h0.9M253.9 189.8h0.9M241.1 198.3h0.9M306.3 191.0h0.9M229.7 194.2h0.9M322.0 198.1h0.9M314.8 196.6h0.9M270.1 192.7h0.9M288.1 189.2h0.9M284.2 194.2h0.9M228.2 193.9h0.9M228.8 187.7h0.9M265.9 191.5h0.9M218.9 197.8h0.9M243.2 193.2h0.9M267.7 189.1h0.9M303.3 194.5h0.9M288.1 192.3h0.9M241.6 197.7h0.9M321.3 192.7h0.9M326.0 187.3h0.9M308.1 188.9h0.9M311.6 189.0h0.9M252.5 198.2h0.9M332.0 191.2h0.9M297.6 191.1h0.9M242.1 198.5h0.9M311.1 189.4h0.9M303.3 194.3h0.9M295.3 198.1h0.9M282.1 197.7h0.9M322.3 188.8h0.9M317.3 192.5h0.9M298.1 189.9h0.9M227.1 195.2h0.9M249.5 189.9h0.9M351.1 189.0h0.9M272.7 190.2h0.9M304.1 188.5h0.9M235.9 195.4h0.9M295.7 190.2h0.9M300.8 191.7h0.9M321.6 190.2h0.9M349.8 191.4h0.9M280.0 190.6h0.9M260.5 191.1h0.9M239.7 195.3h0.9M263.5 189.0h0.9M278.3 195.1h0.9M349.1 191.0h0.9M287.5 188.1h0.9M309.8 188.4h0.9M317.8 197.6h0.9M219.9 187.4h0.9M249.7 190.2h0.9M291.5 197.1h0.9M225.8 187.9h0.9"/>
<path stroke="#f29a12" stroke-opacity="0.5" stroke-width="0.9" fill="none" d="M248.3 184.7h0.9M256.0 182.9h0.9M332.0 176.2h0.9M235.5 100.9h0.9M346.7 183.0h0.9M236.1 182.8h0.9M295.8 174.0h0.9M323.6 181.2h0.9M294.9 182.7h0.9M288.0 165.1h0.9M278.6 176.4h0.9M253.9 183.1h0.9M353.0 160.5h0.9M274.1 173.3h0.9M305.7 161.0h0.9M298.0 163.3h0.9M348.9 184.5h0.9M252.7 177.5h0.9M240.8 173.6h0.9M340.5 135.1h0.9M288.2 176.8h0.9M305.9 185.1h0.9M303.8 179.9h0.9M324.8 181.4h0.9M332.3 163.2h0.9M314.0 181.8h0.9M220.7 170.9h0.9M332.2 173.1h0.9M225.7 149.5h0.9M334.9 178.3h0.9M220.1 182.5h0.9M323.8 155.3h0.9M305.6 176.8h0.9M223.5 81.6h0.9M321.0 181.3h0.9M297.7 119.0h0.9M236.2 178.7h0.9M337.5 171.5h0.9M299.2 157.6h0.9M282.0 183.2h0.9M346.7 182.7h0.9M247.2 182.0h0.9M243.6 169.8h0.9M339.6 133.3h0.9M241.5 177.4h0.9M329.6 185.0h0.9M248.1 185.3h0.9M329.1 184.7h0.9M274.7 174.0h0.9M302.7 141.2h0.9M301.4 181.2h0.9M272.9 160.9h0.9M289.5 164.1h0.9M307.0 181.0h0.9M238.3 183.7h0.9M342.7 176.4h0.9M330.3 158.6h0.9M247.9 154.8h0.9M250.2 171.0h0.9M272.9 179.3h0.9M323.4 149.8h0.9M289.3 178.4h0.9M262.2 176.1h0.9M323.0 175.8h0.9M246.2 182.1h0.9M314.9 177.3h0.9M321.0 173.2h0.9M233.7 179.0h0.9M296.4 182.5h0.9M299.6 183.7h0.9M350.1 180.9h0.9M260.0 166.9h0.9M281.6 183.5h0.9M345.4 175.1h0.9M237.5 173.3h0.9M340.2 163.2h0.9M269.0 182.4h0.9M266.0 164.7h0.9M353.3 184.9h0.9M272.3 169.3h0.9M253.1 163.9h0.9M247.8 181.0h0.9M313.2 183.0h0.9M305.2 184.5h0.9M252.0 167.2h0.9M286.3 184.2h0.9M258.4 170.8h0.9M332.2 162.3h0.9M267.9 179.8h0.9M302.5 184.9h0.9M342.4 179.2h0.9M252.0 157.2h0.9M347.6 153.8h0.9M285.0 180.4h0.9M305.8 164.7h0.9M256.5 152.5h0.9M313.1 168.0h0.9M317.0 171.0h0.9M299.4 159.6h0.9M335.6 160.1h0.9M283.2 172.0h0.9M222.0 172.5h0.9M342.4 180.1h0.9M296.1 183.6h0.9M302.4 177.9h0.9M300.2 184.3h0.9M225.5 159.0h0.9M258.5 170.3h0.9M232.0 152.5h0.9M307.1 177.9h0.9M334.5 182.7h0.9M308.5 159.5h0.9M329.0 151.1h0.9M264.6 152.6h0.9M224.2 153.3h0.9M274.9 147.4h0.9M242.6 165.4h0.9M260.9 169.6h0.9M252.0 160.0h0.9M244.2 182.3h0.9M312.2 165.9h0.9M300.1 162.5h0.9M330.2 171.6h0.9M351.9 172.5h0.9M251.8 167.1h0.9M345.7 157.8h0.9M322.9 153.8h0.9M295.4 174.2h0.9M350.3 166.3h0.9M288.7 184.7h0.9M223.8 180.0h0.9M236.7 181.3h0.9M261.9 177.8h0.9M313.3 163.1h0.9M295.9 150.7h0.9M311.6 179.8h0.9M222.5 176.6h0.9M253.2 164.3h0.9M294.3 184.2h0.9M307.7 180.7h0.9M277.9 174.7h0.9M249.2 181.4h0.9M261.5 167.1h0.9M322.0 123.9h0.9M316.2 181.8h0.9M253.1 185.2h0.9M347.4 183.7h0.9M225.9 178.9h0.9M251.4 162.4h0.9M278.7 184.9h0.9M327.8 181.5h0.9M295.7 175.8h0.9M310.5 142.7h0.9M347.5 152.6h0.9M269.2 182.8h0.9M244.3 182.5h0.9M274.9 174.9h0.9M295.5 157.6h0.9M238.0 168.5h0.9M225.2 131.7h0.9M317.3 136.0h0.9M352.5 176.6h0.9M344.8 165.0h0.9M270.4 158.4h0.9M280.9 159.3h0.9M331.1 157.0h0.9M352.0 130.3h0.9M267.7 181.9h0.9M347.6 172.8h0.9M313.6 182.7h0.9M239.7 179.2h0.9M280.4 163.9h0.9M220.4 179.0h0.9M274.6 163.1h0.9M290.1 183.7h0.9M326.9 161.6h0.9M264.3 184.7h0.9M307.0 163.2h0.9M308.9 173.9h0.9M290.2 176.8h0.9M302.2 184.0h0.9M281.6 152.7h0.9M301.8 174.5h0.9M281.7 181.0h0.9M342.2 178.3h0.9M235.1 178.9h0.9M335.8 180.1h0.9M319.8 174.2h0.9M221.5 153.9h0.9M316.3 163.6h0.9M268.6 183.7h0.9M288.0 168.8h0.9M289.4 169.5h0.9M318.5 175.8h0.9M285.2 179.8h0.9M305.2 181.6h0.9M249.4 184.9h0.9M229.5 179.3h0.9M309.5 179.3h0.9M352.5 179.4h0.9M230.4 163.2h0.9M342.0 180.2h0.9M271.5 183.9h0.9M307.5 179.0h0.9M255.7 184.8h0.9M312.6 141.5h0.9M278.4 181.1h0.9M326.5 182.6h0.9M257.1 181.5h0.9M264.6 171.4h0.9M303.8 178.8h0.9M234.1 180.6h0.9M350.7 181.2h0.9M301.4 178.8h0.9M350.3 173.7h0.9M243.9 174.0h0.9M315.0 184.8h0.9M247.0 162.7h0.9M231.1 182.6h0.9M279.4 160.0h0.9M283.2 180.5h0.9M294.8 160.0h0.9M282.5 184.6h0.9M246.2 167.0h0.9M311.4 92.9h0.9M255.7 184.4h0.9M258.9 183.6h0.9M324.7 184.7h0.9M311.4 176.5h0.9M317.4 184.3h0.9M343.5 146.6h0.9M334.2 179.0h0.9M249.4 158.0h0.9M350.8 164.8h0.9M289.7 171.3h0.9M294.8 179.8h0.9M257.3 164.4h0.9M271.9 184.6h0.9M294.7 149.2h0.9M224.5 167.0h0.9M316.5 177.7h0.9M266.7 177.2h0.9M312.7 180.2h0.9M318.1 179.1h0.9M302.9 182.9h0.9M230.0 169.6h0.9M295.5 182.1h0.9M267.5 167.3h0.9M315.8 183.2h0.9M315.3 167.1h0.9M287.3 181.8h0.9M318.0 156.0h0.9M239.2 148.4h0.9M329.4 157.7h0.9M349.9 183.3h0.9M340.7 152.9h0.9M328.8 140.7h0.9M274.3 171.0h0.9M345.0 181.2h0.9M295.3 167.3h0.9M248.8 167.6h0.9M292.7 169.6h0.9M334.0 182.7h0.9M310.9 172.5h0.9M331.6 182.5h0.9M224.7 183.0h0.9M350.0 181.2h0.9M343.6 140.8h0.9M287.4 176.0h0.9M343.7 182.5h0.9M244.4 178.3h0.9M268.9 178.6h0.9M242.7 145.4h0.9M309.8 183.9h0.9M342.9 179.8h0.9M344.8 178.9h0.9M230.7 170.4h0.9M323.0 179.2h0.9M294.9 172.9h0.9M249.6 172.6h0.9M339.9 164.3h0.9M290.8 147.7h0.9M225.6 168.9h0.9M270.4 128.5h0.9M311.4 176.1h0.9M334.0 174.3h0.9M246.7 169.3h0.9M299.3 175.8h0.9M231.6 156.6h0.9M342.2 179.8h0.9M221.3 184.5h0.9M350.1 173.6h0.9M295.8 174.0h0.9M320.8 157.9h0.9M309.7 180.3h0.9M287.8 164.2h0.9M278.7 181.3h0.9M247.9 182.0h0.9M258.4 173.6h0.9M232.6 156.9h0.9M255.9 170.4h0.9M307.7 140.6h0.9M293.9 152.4h0.9M296.0 174.0h0.9M290.9 178.9h0.9M346.7 152.7h0.9M333.9 138.3h0.9M255.4 181.7h0.9M294.6 141.9h0.9M349.8 167.2h0.9M255.9 180.2h0.9M314.0 163.3h0.9M306.8 180.5h0.9M309.7 184.1h0.9M294.6 173.3h0.9M319.3 181.5h0.9M270.3 182.9h0.9M345.5 117.4h0.9M296.0 161.7h0.9M265.3 142.3h0.9M305.6 147.2h0.9M311.8 184.0h0.9M343.2 170.3h0.9M305.2 169.4h0.9M290.0 121.3h0.9M267.3 158.7h0.9M277.0 180.1h0.9M258.4 173.8h0.9M303.1 183.8h0.9M335.4 183.7h0.9M299.4 157.5h0.9M247.2 185.4h0.9M224.9 182.4h0.9M337.7 180.9h0.9M259.6 162.9h0.9M312.3 170.8h0.9M346.7 176.4h0.9M346.0 171.9h0.9M294.3 156.6h0.9M342.4 174.9h0.9M274.0 183.3h0.9M346.0 148.1h0.9M311.0 178.9h0.9M230.8 150.5h0.9M328.8 179.4h0.9M241.5 184.5h0.9M353.6 176.7h0.9M226.6 163.7h0.9M321.4 175.9h0.9M240.4 184.9h0.9M292.4 152.9h0.9M269.9 172.3h0.9M337.3 169.6h0.9M256.7 181.8h0.9M316.5 182.6h0.9M346.0 182.7h0.9M228.6 180.9h0.9M315.7 179.7h0.9M231.2 165.7h0.9M324.4 166.4h0.9M334.8 185.1h0.9M238.7 183.5h0.9M338.5 177.3h0.9M278.7 175.0h0.9M261.3 181.8h0.9M349.4 171.7h0.9M271.5 155.7h0.9M248.1 177.3h0.9M264.2 178.9h0.9M341.2 179.9h0.9M351.9 165.8h0.9M281.0 181.6h0.9M286.2 179.3h0.9M300.1 178.5h0.9M332.5 163.9h0.9M221.2 168.5h0.9M326.6 168.4h0.9M350.3 180.8h0.9M274.3 182.2h0.9M278.7 172.5h0.9M348.3 182.5h0.9M274.5 160.9h0.9M270.5 159.4h0.9M335.1 176.4h0.9M283.4 166.0h0.9M306.7 180.4h0.9M258.4 172.9h0.9M311.1 167.3h0.9M269.3 181.8h0.9M325.0 182.8h0.9M286.0 184.6h0.9M343.2 164.6h0.9M293.4 171.6h0.9M334.9 172.2h0.9M279.0 130.9h0.9M309.7 154.3h0.9M255.8 158.4h0.9M298.6 174.8h0.9M308.8 168.0h0.9M245.6 185.0h0.9M292.9 156.8h0.9M343.5 119.9h0.9M247.0 119.2h0.9M285.4 160.4h0.9M332.2 126.9h0.9M277.1 174.8h0.9M224.0 162.3h0.9M290.4 152.2h0.9M281.9 181.0h0.9M344.3 124.7h0.9M309.0 137.1h0.9M324.0 151.0h0.9M269.3 183.0h0.9M340.1 121.0h0.9M331.0 157.6h0.9M232.2 179.8h0.9M308.5 125.6h0.9M341.2 164.7h0.9M307.1 163.8h0.9M350.1 140.7h0.9M255.0 152.9h0.9M298.8 180.9h0.9M291.5 148.2h0.9M259.6 147.4h0.9M324.7 154.9h0.9M277.8 117.7h0.9M307.0 172.1h0.9M324.8 119.0h0.9M317.5 184.0h0.9M233.5 183.4h0.9M227.4 172.7h0.9M329.9 178.1h0.9M307.1 158.5h0.9M239.8 136.8h0.9M237.4 157.7h0.9M286.7 163.0h0.9M243.8 125.4h0.9M344.7 169.7h0.9M250.0 136.7h0.9M346.5 151.3h0.9M315.9 134.1h0.9M294.5 135.2h0.9M309.9 176.8h0.9M312.7 169.4h0.9M258.2 119.8h0.9M285.4 169.4h0.9M228.9 180.2h0.9M226.4 164.7h0.9M346.4 163.9h0.9M334.0 133.9h0.9M321.0 164.4h0.9M233.9 142.0h0.9M303.6 180.0h0.9M315.8 164.8h0.9M277.7 138.0h0.9M270.6 177.3h0.9M317.3 169.6h0.9M221.4 129.5h0.9M283.1 130.5h0.9M254.4 116.4h0.9M279.5 169.3h0.9M294.0 121.5h0.9M276.3 134.7h0.9M337.5 167.0h0.9M338.2 136.8h0.9M321.8 135.5h0.9M326.5 120.1h0.9M287.1 119.0h0.9M256.3 155.5h0.9M329.3 125.1h0.9M235.6 182.9h0.9M299.6 117.3h0.9M304.9 137.6h0.9M234.6 128.3h0.9M247.4 178.4h0.9M310.1 168.0h0.9M334.9 123.3h0.9M272.4 119.3h0.9M291.2 121.3h0.9M314.9 167.2h0.9M298.0 167.8h0.9M282.0 159.7h0.9M305.5 149.7h0.9M315.1 147.9h0.9M327.3 157.1h0.9M295.2 123.0h0.9M308.6 171.1h0.9M246.2 169.9h0.9M241.7 163.1h0.9M328.5 131.9h0.9M250.0 130.5h0.9M278.6 184.1h0.9M338.6 181.9h0.9M239.7 167.8h0.9M310.9 170.4h0.9M253.3 147.5h0.9M303.9 176.8h0.9M329.4 163.8h0.9M329.9 146.1h0.9M324.2 163.1h0.9M289.4 121.0h0.9M292.8 143.1h0.9M243.0 174.5h0.9M235.6 149.0h0.9M320.2 154.4h0.9M227.0 154.7h0.9M345.0 181.5h0.9M244.9 129.5h0.9M316.5 163.2h0.9M280.0 146.9h0.9M302.1 131.9h0.9M321.4 118.8h0.9M259.7 158.2h0.9M330.6 128.3h0.9M321.2 156.2h0.9M297.8 145.5h0.9M296.9 143.8h0.9M271.5 177.6h0.9M349.9 121.7h0.9M271.9 154.7h0.9M252.3 116.9h0.9M294.8 86.2h0.9M343.4 114.7h0.9M344.1 169.9h0.9M297.5 91.6h0.9M272.5 148.0h0.9M320.1 99.9h0.9M294.9 129.2h0.9M330.3 132.9h0.9M331.7 76.8h0.9M314.1 163.0h0.9M350.4 112.7h0.9M306.9 93.0h0.9M350.6 92.8h0.9M307.4 183.7h0.9M249.3 178.8h0.9M304.1 123.3h0.9M322.9 100.1h0.9M276.7 151.3h0.9M242.5 74.6h0.9M267.1 169.0h0.9M324.7 69.1h0.9M247.8 74.2h0.9M221.5 107.6h0.9M337.8 121.8h0.9M350.2 69.1h0.9M336.4 101.9h0.9M327.4 183.6h0.9M317.8 159.0h0.9M293.9 75.3h0.9M307.3 171.0h0.9M320.0 122.9h0.9M264.0 184.2h0.9M247.5 106.0h0.9M313.0 104.7h0.9M300.9 147.9h0.9M352.7 125.6h0.9M275.6 100.8h0.9M275.5 129.8h0.9M236.4 143.0h0.9"/>
<path stroke="#f29a12" stroke-opacity="0.85" stroke-width="1.0" fill="none" d="M261.5 167.7h1.0M330.4 167.5h1.0M320.2 167.3h1.0M320.8 167.4h1.0M308.3 169.5h1.0M250.5 167.7h1.0M314.4 167.8h1.0M243.0 168.7h1.0M238.6 168.2h1.0M287.3 168.7h1.0M242.7 167.0h1.0M236.6 167.1h1.0M299.1 170.5h1.0M350.7 167.9h1.0M227.0 167.7h1.0M279.3 168.0h1.0M231.6 168.7h1.0M292.0 167.0h1.0M296.8 168.1h1.0M285.5 167.9h1.0M224.8 168.4h1.0M313.8 168.1h1.0M287.8 167.5h1.0M296.6 167.3h1.0M309.4 166.0h1.0M341.4 168.7h1.0M277.9 166.8h1.0M342.3 167.6h1.0M243.1 169.2h1.0M280.5 167.6h1.0M243.3 168.4h1.0M269.6 167.8h1.0M341.0 168.5h1.0M350.7 167.9h1.0M283.0 167.5h1.0M256.7 169.0h1.0M262.9 167.7h1.0M340.8 166.9h1.0M278.5 167.7h1.0M246.2 168.3h1.0M331.8 167.1h1.0M288.1 168.5h1.0M277.0 168.5h1.0M341.0 169.6h1.0M319.9 167.4h1.0M221.4 168.4h1.0M349.5 166.6h1.0M280.6 167.6h1.0M243.7 168.0h1.0M341.9 168.2h1.0M275.9 167.9h1.0M311.6 167.9h1.0M320.5 167.4h1.0M245.7 167.6h1.0M351.8 168.2h1.0M295.2 168.4h1.0M227.2 168.4h1.0M291.7 168.7h1.0M222.0 168.8h1.0M351.2 166.5h1.0M309.1 167.5h1.0M270.5 167.8h1.0M327.0 167.4h1.0M326.3 168.7h1.0M313.7 168.5h1.0M251.1 167.8h1.0M232.0 168.0h1.0M334.7 168.9h1.0M339.0 167.7h1.0M266.0 167.7h1.0M271.5 168.6h1.0M273.7 168.3h1.0M256.7 169.0h1.0M345.7 168.2h1.0M291.0 168.5h1.0M314.9 167.5h1.0M300.9 167.2h1.0M231.6 167.9h1.0M229.2 165.9h1.0M239.4 168.2h1.0M286.3 168.7h1.0M303.9 168.0h1.0M353.4 167.8h1.0M340.6 168.8h1.0M318.9 167.9h1.0M271.1 168.7h1.0M265.9 169.6h1.0M313.3 168.5h1.0M266.0 168.6h1.0M322.5 168.3h1.0M317.5 168.1h1.0M235.6 168.1h1.0M327.6 168.0h1.0M232.1 168.8h1.0M262.2 166.7h1.0M350.6 167.7h1.0M307.1 168.4h1.0M334.7 167.3h1.0M344.1 167.8h1.0M255.1 167.4h1.0M326.5 168.3h1.0M269.6 168.6h1.0M228.2 169.0h1.0M233.9 168.3h1.0M236.5 167.4h1.0M304.4 168.1h1.0M305.8 168.4h1.0M333.5 169.0h1.0M259.2 166.3h1.0M322.1 168.2h1.0M255.4 166.5h1.0M261.7 168.5h1.0M307.7 168.3h1.0M272.3 168.3h1.0M353.7 168.6h1.0M262.1 168.2h1.0M251.4 167.4h1.0M337.8 168.2h1.0M336.9 168.8h1.0M241.4 167.8h1.0M264.9 167.9h1.0M288.1 167.0h1.0M228.4 168.8h1.0M269.4 167.5h1.0M323.1 167.4h1.0M322.8 167.6h1.0M239.5 167.3h1.0M260.3 167.7h1.0M255.6 168.9h1.0M311.6 168.5h1.0M237.2 169.0h1.0M352.1 169.1h1.0M235.1 167.2h1.0M290.6 168.3h1.0M314.1 169.1h1.0M347.0 169.7h1.0M302.1 166.8h1.0M334.6 166.8h1.0M290.9 168.3h1.0M249.2 167.7h1.0M276.1 167.2h1.0M301.1 168.2h1.0M290.9 167.3h1.0M324.8 166.2h1.0M292.1 167.9h1.0M271.1 168.0h1.0M288.8 168.4h1.0M289.4 168.6h1.0M220.8 168.1h1.0M263.6 167.7h1.0M296.6 167.4h1.0M315.3 166.7h1.0M277.0 167.6h1.0M319.9 168.7h1.0M287.2 168.4h1.0M269.2 169.5h1.0M252.1 167.8h1.0M326.8 166.6h1.0M343.5 168.5h1.0M317.6 168.7h1.0M249.2 167.0h1.0M314.4 166.7h1.0M287.4 168.0h1.0M343.9 168.5h1.0M220.3 167.1h1.0M323.5 167.7h1.0M282.2 167.3h1.0M334.6 167.0h1.0M301.0 166.9h1.0M220.5 168.0h1.0M312.5 167.6h1.0M291.2 167.4h1.0M251.7 165.9h1.0M235.9 169.2h1.0M273.1 167.2h1.0M294.9 167.8h1.0M283.8 167.0h1.0M221.8 168.2h1.0M239.4 166.8h1.0M311.1 168.0h1.0M292.9 167.8h1.0M319.4 168.6h1.0M275.3 167.1h1.0M254.1 167.4h1.0M326.9 167.7h1.0M248.8 169.5h1.0M227.6 166.8h1.0M269.1 168.1h1.0M280.2 167.4h1.0M247.6 168.1h1.0M348.0 168.4h1.0M250.6 168.0h1.0M235.9 168.1h1.0M308.5 168.1h1.0M238.8 167.5h1.0M257.1 167.7h1.0M275.2 166.6h1.0M256.3 167.6h1.0M307.4 167.3h1.0M238.3 167.7h1.0M306.1 168.5h1.0M235.1 168.2h1.0M297.5 168.3h1.0M351.1 168.8h1.0M325.3 166.1h1.0M346.8 168.2h1.0M292.9 167.9h1.0M240.8 167.8h1.0M269.3 166.9h1.0M323.9 168.3h1.0M237.2 168.8h1.0M308.8 168.7h1.0M262.9 167.8h1.0M342.9 168.4h1.0M266.6 168.6h1.0M262.9 169.3h1.0M256.1 168.8h1.0M292.1 168.0h1.0M347.6 168.0h1.0M292.2 168.0h1.0M319.2 168.1h1.0M289.5 167.5h1.0M230.6 168.5h1.0M298.4 167.4h1.0M299.4 167.3h1.0M299.7 168.2h1.0M259.6 167.5h1.0M255.4 167.7h1.0M263.8 166.3h1.0M223.7 168.5h1.0M241.2 167.9h1.0M258.1 167.8h1.0M288.4 168.3h1.0M342.1 168.1h1.0M313.8 167.4h1.0M288.9 169.4h1.0M315.9 167.6h1.0M279.3 168.6h1.0M225.9 169.3h1.0M311.8 167.4h1.0M314.4 168.0h1.0M307.6 167.3h1.0M334.2 168.7h1.0M324.6 167.6h1.0M331.0 167.1h1.0M225.7 168.9h1.0M354.0 168.6h1.0M298.6 167.2h1.0M299.2 168.8h1.0M302.0 168.1h1.0M255.8 170.0h1.0M260.3 169.2h1.0M337.4 167.5h1.0M300.2 167.7h1.0M348.7 167.2h1.0M247.5 168.0h1.0M298.2 167.9h1.0M300.2 168.5h1.0M224.5 168.0h1.0M303.7 166.8h1.0M271.2 167.3h1.0M277.3 169.0h1.0M244.5 168.8h1.0M299.5 167.8h1.0M310.1 167.8h1.0M339.5 167.8h1.0M332.7 167.9h1.0M351.3 166.6h1.0M350.7 168.6h1.0M313.7 167.4h1.0M257.3 168.0h1.0M292.2 166.0h1.0M230.7 168.1h1.0M295.7 168.9h1.0M260.6 166.2h1.0M291.7 169.1h1.0M320.4 168.3h1.0M227.7 167.3h1.0M337.3 166.7h1.0M224.6 168.8h1.0M285.4 168.1h1.0M248.9 168.4h1.0M224.7 167.7h1.0M284.0 167.3h1.0M254.7 168.6h1.0M230.3 167.2h1.0M330.4 168.6h1.0M252.5 166.6h1.0M345.7 167.2h1.0M301.4 166.8h1.0M267.3 168.9h1.0M227.6 166.6h1.0M334.6 167.0h1.0M234.1 168.4h1.0M323.9 168.1h1.0M290.6 169.6h1.0M280.8 169.3h1.0M230.3 168.4h1.0M276.0 168.4h1.0M221.7 166.5h1.0M322.1 167.2h1.0M314.6 167.6h1.0M237.8 167.8h1.0M288.0 166.8h1.0M243.4 167.2h1.0M315.3 167.3h1.0M244.9 168.7h1.0M242.7 168.2h1.0M257.7 167.6h1.0M350.2 167.7h1.0M329.6 168.1h1.0M273.7 167.4h1.0M326.4 167.7h1.0M268.1 166.6h1.0M244.7 168.4h1.0M340.2 168.6h1.0M224.4 168.2h1.0M326.2 168.3h1.0M348.6 168.2h1.0M230.8 169.5h1.0M335.1 168.1h1.0M324.4 166.9h1.0M225.2 167.1h1.0M279.2 168.4h1.0M254.5 168.7h1.0M271.2 168.5h1.0M270.9 168.5h1.0M272.6 168.0h1.0M220.8 166.8h1.0M256.0 167.4h1.0M258.5 166.5h1.0M306.8 167.6h1.0M313.1 166.9h1.0M320.4 168.0h1.0M305.2 167.8h1.0M339.8 166.4h1.0M294.3 168.5h1.0M261.6 168.5h1.0M224.9 166.8h1.0M317.3 168.0h1.0M295.1 168.4h1.0M241.5 167.7h1.0M288.3 168.6h1.0M346.5 168.0h1.0M300.9 168.7h1.0M261.1 168.0h1.0M328.0 167.8h1.0M272.6 168.3h1.0M221.5 168.5h1.0M230.2 168.1h1.0M348.8 167.5h1.0M232.1 167.3h1.0M324.9 167.6h1.0M223.6 167.5h1.0M276.5 168.0h1.0M257.4 168.0h1.0M265.8 167.8h1.0M231.7 167.9h1.0M273.6 168.0h1.0M321.6 169.1h1.0M290.1 168.8h1.0M237.3 167.4h1.0M327.8 168.2h1.0M336.7 167.6h1.0M280.9 167.8h1.0M267.8 167.7h1.0M221.9 167.4h1.0M229.0 166.8h1.0M270.0 166.0h1.0M234.7 168.0h1.0M349.9 168.8h1.0M306.1 167.2h1.0M261.6 168.3h1.0M298.2 167.6h1.0M242.1 168.1h1.0M342.9 167.3h1.0M286.9 167.7h1.0M313.6 167.8h1.0M244.0 166.1h1.0M283.2 168.1h1.0M315.5 167.8h1.0M271.6 166.0h1.0M228.3 168.4h1.0M282.6 167.9h1.0M330.3 168.0h1.0M281.7 168.2h1.0M351.3 167.6h1.0M294.8 167.1h1.0M338.2 167.5h1.0M223.9 167.6h1.0M304.4 169.6h1.0M288.1 169.3h1.0M267.6 167.5h1.0M340.8 167.6h1.0M231.9 168.1h1.0M284.9 168.3h1.0M260.7 167.3h1.0M348.6 167.1h1.0M324.6 169.4h1.0M246.5 168.7h1.0M236.7 166.7h1.0M222.7 166.5h1.0M243.7 167.2h1.0M344.4 168.0h1.0M336.9 168.3h1.0M327.1 167.6h1.0M273.3 166.6h1.0M284.3 168.0h1.0M296.9 168.3h1.0M328.5 167.9h1.0M220.1 167.5h1.0M243.9 168.3h1.0M297.7 167.8h1.0M238.5 167.0h1.0M345.7 168.0h1.0M225.5 166.9h1.0M350.5 168.6h1.0M248.4 168.2h1.0M245.6 167.1h1.0M276.6 168.0h1.0M305.3 168.8h1.0M351.3 166.2h1.0M283.6 167.8h1.0M340.3 169.2h1.0M339.3 166.7h1.0M351.9 167.7h1.0M267.9 166.8h1.0M283.3 167.8h1.0M222.4 166.0h1.0M271.1 166.6h1.0M267.1 167.5h1.0M236.2 168.0h1.0M331.5 168.2h1.0M257.1 168.2h1.0M237.1 168.8h1.0M235.0 168.4h1.0M222.8 168.5h1.0M321.1 167.1h1.0M291.1 167.8h1.0M289.9 170.4h1.0M275.1 169.6h1.0M349.1 168.5h1.0M270.3 168.5h1.0M283.4 168.6h1.0M312.3 167.6h1.0M344.5 169.4h1.0M335.0 167.6h1.0M338.1 167.8h1.0M244.1 169.6h1.0M346.5 166.2h1.0M330.3 168.2h1.0M263.9 166.5h1.0M327.8 167.4h1.0M347.7 167.8h1.0M319.5 167.6h1.0M318.9 168.0h1.0M332.3 167.3h1.0M337.7 167.8h1.0M324.6 166.9h1.0M230.0 167.6h1.0M247.6 166.8h1.0M235.7 168.4h1.0M282.2 166.9h1.0M228.3 168.4h1.0M293.6 167.6h1.0M343.8 167.6h1.0M351.5 168.8h1.0M224.5 168.0h1.0M311.3 166.4h1.0M238.7 168.3h1.0M335.5 165.6h1.0M223.7 168.1h1.0M233.4 167.6h1.0M263.0 166.8h1.0M220.2 167.9h1.0M308.6 167.6h1.0M247.2 169.5h1.0M316.3 167.5h1.0M347.2 169.4h1.0M282.8 169.0h1.0M282.7 167.4h1.0M353.5 167.2h1.0M261.7 168.9h1.0M338.6 167.8h1.0M315.4 168.0h1.0M220.7 167.7h1.0M259.5 166.9h1.0M316.5 167.6h1.0M225.6 167.1h1.0M334.8 166.7h1.0M342.2 167.6h1.0M321.6 169.3h1.0M328.6 169.2h1.0M299.9 167.8h1.0M328.2 168.0h1.0M282.4 168.3h1.0M274.4 169.0h1.0M314.0 168.1h1.0M282.1 167.5h1.0M261.3 167.6h1.0M255.1 168.8h1.0M278.3 169.9h1.0M270.9 167.4h1.0M320.9 166.2h1.0M325.0 168.5h1.0M326.9 167.8h1.0M333.1 168.0h1.0M268.2 168.9h1.0M269.2 167.9h1.0M332.2 166.8h1.0M243.7 166.3h1.0M313.9 167.8h1.0M290.1 167.0h1.0M309.1 168.1h1.0M313.2 166.9h1.0M309.5 167.6h1.0M251.1 166.7h1.0M222.7 167.6h1.0M347.6 167.5h1.0M340.2 168.4h1.0M287.4 168.9h1.0M308.4 167.7h1.0M231.8 167.2h1.0M281.2 169.4h1.0M298.6 168.2h1.0M313.6 168.4h1.0M249.0 168.4h1.0M232.0 169.0h1.0M348.8 168.7h1.0M333.6 168.4h1.0M243.5 168.5h1.0M330.1 167.2h1.0M328.8 167.4h1.0M243.9 167.8h1.0M327.7 168.0h1.0M270.9 167.9h1.0M264.4 168.1h1.0M241.1 167.9h1.0M299.0 167.5h1.0M302.0 166.6h1.0M288.3 168.5h1.0M232.9 168.3h1.0M326.5 167.2h1.0M262.1 168.3h1.0M255.1 168.2h1.0M305.7 167.9h1.0M244.4 166.4h1.0M341.9 166.9h1.0M306.7 167.4h1.0M325.7 169.2h1.0M265.3 167.2h1.0M277.1 167.6h1.0M253.3 167.0h1.0M253.3 167.5h1.0M275.3 168.2h1.0M325.4 166.2h1.0M287.2 165.6h1.0M331.6 168.4h1.0M234.5 167.9h1.0M258.4 167.4h1.0M224.4 168.7h1.0M342.3 168.7h1.0M228.0 166.2h1.0M292.4 167.7h1.0M310.1 168.8h1.0M247.0 167.3h1.0M351.3 167.6h1.0M351.4 168.6h1.0M251.5 167.7h1.0M238.3 166.9h1.0M306.9 167.3h1.0M288.7 166.8h1.0M300.8 168.3h1.0M302.6 166.5h1.0M348.1 168.7h1.0M322.9 166.6h1.0M261.5 167.9h1.0M320.0 166.7h1.0M279.9 167.6h1.0M350.7 168.7h1.0M283.7 168.8h1.0M221.0 168.9h1.0M342.8 167.8h1.0M256.7 168.0h1.0M330.0 168.1h1.0M301.8 168.4h1.0M319.6 167.6h1.0M318.9 168.8h1.0M341.3 168.1h1.0M331.6 168.8h1.0M306.3 168.3h1.0M263.4 168.4h1.0M285.9 167.3h1.0M257.0 167.5h1.0M264.8 166.8h1.0M281.4 167.6h1.0M276.4 167.7h1.0M258.4 168.5h1.0M260.5 166.9h1.0M261.4 170.5h1.0M245.3 167.8h1.0M297.9 168.9h1.0M231.9 168.7h1.0M252.9 165.9h1.0M242.5 167.7h1.0M314.5 169.1h1.0M257.2 165.9h1.0M232.9 168.5h1.0M330.0 167.1h1.0M278.4 167.5h1.0M327.7 168.1h1.0M262.6 166.4h1.0M266.1 168.0h1.0M294.7 167.4h1.0M228.9 167.3h1.0M350.9 168.4h1.0M237.4 170.7h1.0M342.3 168.2h1.0M308.2 168.3h1.0M322.3 167.8h1.0M247.7 167.3h1.0M339.5 168.1h1.0M291.6 169.1h1.0M275.1 168.0h1.0M245.4 168.6h1.0M242.5 167.7h1.0M335.5 169.9h1.0M349.9 166.6h1.0M275.8 168.3h1.0M316.8 168.3h1.0M313.5 168.1h1.0M285.9 167.0h1.0M284.1 167.0h1.0M293.9 167.7h1.0M266.1 168.0h1.0M319.8 166.9h1.0M275.7 167.0h1.0M287.4 168.3h1.0M243.9 168.7h1.0M350.7 167.4h1.0M230.0 167.3h1.0M315.9 167.3h1.0M308.4 169.9h1.0M265.8 168.3h1.0M350.9 167.8h1.0M224.4 168.7h1.0M256.2 169.7h1.0M264.9 168.8h1.0M305.8 166.7h1.0M298.9 167.8h1.0M315.2 167.5h1.0M335.2 167.6h1.0M222.1 166.9h1.0M294.9 167.6h1.0M273.4 167.0h1.0M312.2 168.1h1.0M290.4 167.9h1.0M266.3 166.7h1.0M220.4 166.5h1.0M261.3 167.5h1.0M279.5 168.4h1.0M264.8 168.3h1.0M270.5 167.8h1.0M307.1 165.2h1.0M264.6 167.5h1.0M333.9 167.3h1.0M268.1 167.6h1.0M277.9 166.9h1.0M277.8 167.5h1.0M341.0 167.3h1.0M300.8 170.0h1.0M349.2 168.4h1.0M220.1 167.7h1.0M348.0 167.8h1.0M245.7 167.8h1.0M340.2 168.0h1.0M225.4 167.5h1.0M334.7 167.9h1.0M304.6 168.7h1.0M311.7 168.5h1.0M272.1 168.1h1.0M271.7 168.9h1.0M240.6 168.0h1.0M238.4 167.1h1.0M303.5 166.5h1.0M265.5 167.3h1.0M223.4 167.8h1.0M242.3 168.2h1.0M242.4 168.7h1.0M245.5 167.4h1.0M280.6 167.2h1.0M342.0 168.5h1.0M297.8 168.8h1.0M319.1 167.5h1.0M233.7 168.1h1.0M312.6 169.0h1.0M335.9 168.1h1.0M353.3 167.8h1.0M315.3 166.2h1.0M301.2 168.9h1.0M348.9 168.4h1.0M236.9 168.0h1.0M326.2 167.5h1.0M316.3 166.9h1.0M317.2 167.8h1.0M267.2 167.8h1.0M230.2 168.7h1.0M238.5 166.9h1.0M310.6 169.0h1.0M261.5 167.9h1.0M347.1 168.8h1.0M235.9 167.1h1.0M329.0 168.1h1.0M283.7 168.8h1.0M259.1 168.0h1.0M253.8 166.7h1.0M267.0 167.6h1.0M269.0 168.3h1.0M249.9 166.7h1.0M249.0 166.7h1.0M350.1 168.1h1.0M276.2 167.1h1.0M303.3 168.4h1.0M314.0 166.9h1.0M264.1 166.4h1.0M345.3 167.2h1.0M259.0 169.1h1.0M245.3 167.2h1.0M225.5 167.9h1.0M254.9 168.1h1.0M227.8 167.1h1.0M303.9 168.7h1.0M296.9 168.0h1.0M222.5 168.2h1.0M347.3 166.5h1.0M317.5 166.5h1.0M293.5 165.7h1.0M346.6 167.7h1.0M290.8 167.7h1.0M243.2 168.4h1.0M324.4 169.1h1.0M348.0 167.7h1.0M227.6 167.7h1.0M287.3 168.2h1.0M250.0 169.1h1.0M341.1 167.2h1.0M232.4 168.4h1.0M328.0 167.7h1.0M247.2 167.6h1.0M305.8 168.5h1.0M312.6 167.2h1.0M321.8 167.0h1.0M226.6 168.4h1.0M284.5 167.9h1.0M236.4 167.7h1.0M236.5 167.8h1.0M241.3 168.3h1.0M239.4 167.6h1.0M345.3 168.5h1.0M294.9 168.2h1.0M253.6 169.1h1.0M284.8 168.9h1.0M226.9 168.6h1.0M248.6 167.7h1.0M303.8 168.0h1.0M312.9 167.4h1.0M302.3 170.2h1.0M351.9 167.7h1.0M351.3 168.3h1.0M331.7 169.0h1.0M282.1 166.8h1.0M321.3 167.2h1.0M253.0 167.6h1.0M335.8 167.1h1.0M252.3 166.9h1.0M352.8 167.5h1.0M221.3 168.9h1.0M326.6 168.5h1.0M286.8 167.9h1.0M329.3 167.9h1.0M289.6 166.5h1.0M331.6 168.4h1.0M314.8 168.2h1.0M305.5 167.0h1.0M347.5 168.0h1.0M235.4 167.7h1.0M344.1 167.5h1.0M289.7 167.1h1.0M314.7 167.3h1.0M309.4 167.1h1.0M272.2 168.2h1.0M290.3 168.2h1.0M350.3 168.1h1.0M285.2 167.7h1.0M342.8 167.5h1.0M220.6 169.5h1.0M296.7 166.4h1.0M312.2 168.8h1.0M272.7 168.2h1.0M230.4 167.9h1.0M326.0 167.5h1.0M320.8 167.7h1.0M270.8 166.9h1.0M232.6 166.8h1.0M332.4 167.8h1.0M323.9 166.6h1.0M331.7 168.5h1.0M329.6 168.8h1.0M254.9 165.1h1.0M303.5 166.6h1.0M282.1 168.1h1.0M272.0 168.0h1.0M274.7 168.0h1.0M310.1 168.2h1.0M353.7 168.5h1.0M283.1 168.6h1.0M268.8 169.3h1.0M304.0 167.9h1.0M304.1 168.6h1.0M274.3 166.6h1.0M306.4 167.8h1.0M307.8 166.9h1.0M319.9 169.0h1.0M242.0 169.7h1.0M307.3 168.3h1.0M275.7 166.8h1.0M337.8 167.8h1.0M302.7 167.9h1.0M328.6 168.0h1.0M328.5 168.8h1.0M248.1 168.6h1.0M229.9 165.8h1.0M321.7 169.0h1.0M227.0 167.5h1.0M347.0 167.4h1.0M312.3 169.0h1.0M276.4 167.7h1.0M309.6 166.8h1.0M237.3 166.8h1.0M305.3 167.9h1.0M343.3 168.6h1.0M219.5 169.1h1.0M345.7 167.7h1.0M261.3 167.5h1.0M272.9 169.2h1.0M345.9 167.5h1.0M326.6 169.0h1.0M271.3 168.1h1.0M351.3 168.1h1.0M223.9 167.7h1.0M308.3 168.1h1.0M288.0 167.5h1.0M338.9 167.3h1.0M222.0 167.8h1.0M262.8 167.4h1.0M283.8 168.1h1.0M229.4 167.9h1.0M306.3 167.7h1.0M333.5 167.7h1.0M341.4 167.7h1.0M238.9 169.3h1.0M287.6 167.9h1.0M352.0 167.4h1.0M229.1 167.6h1.0M314.3 168.4h1.0M258.0 167.7h1.0M341.7 167.8h1.0M301.3 167.7h1.0M340.1 168.0h1.0M226.3 168.2h1.0M300.9 168.2h1.0M276.0 166.6h1.0M234.0 167.0h1.0M274.5 165.8h1.0M319.2 168.5h1.0M297.8 168.8h1.0M299.4 168.9h1.0M257.1 168.0h1.0M288.0 168.8h1.0M279.5 167.9h1.0M341.9 167.8h1.0M337.6 166.6h1.0M278.3 167.3h1.0M287.2 167.4h1.0M258.9 168.6h1.0M295.8 169.2h1.0M237.0 167.5h1.0M349.4 168.2h1.0M275.2 168.1h1.0M220.7 167.3h1.0M259.4 166.5h1.0M347.1 167.3h1.0M261.2 166.7h1.0M271.5 167.6h1.0M350.6 167.8h1.0M325.1 167.7h1.0M268.0 167.7h1.0M241.7 168.3h1.0M272.0 167.1h1.0M269.7 168.6h1.0"/>
<path stroke="#f29a12" stroke-opacity="0.5" stroke-width="0.9" fill="none" d="M301.0 150.5h0.9M220.2 151.4h0.9M341.5 149.8h0.9M346.2 151.4h0.9M248.6 150.9h0.9M265.6 151.1h0.9M260.0 149.3h0.9M244.5 152.0h0.9M311.4 149.7h0.9M270.2 150.3h0.9M220.2 151.3h0.9M249.0 150.5h0.9M308.4 150.6h0.9M313.9 149.4h0.9M221.7 150.6h0.9M293.5 151.0h0.9M305.4 151.3h0.9M305.2 150.7h0.9M307.1 151.0h0.9M324.4 151.2h0.9M264.6 150.4h0.9M334.0 150.4h0.9M278.9 152.2h0.9M227.6 150.3h0.9M307.1 151.7h0.9M265.6 150.9h0.9M304.9 151.9h0.9M269.7 150.4h0.9M286.5 151.2h0.9M294.2 151.1h0.9M314.7 150.7h0.9M259.4 151.1h0.9M309.6 150.4h0.9M250.8 150.8h0.9M325.9 150.6h0.9M250.6 151.4h0.9M229.2 150.8h0.9M224.7 149.9h0.9M300.0 150.6h0.9M263.0 150.8h0.9M296.8 150.3h0.9M261.3 151.8h0.9M278.6 151.2h0.9M336.5 151.5h0.9M343.7 150.4h0.9M225.3 150.6h0.9M347.0 151.6h0.9M287.4 149.9h0.9M319.0 151.1h0.9M344.5 150.9h0.9M244.8 150.5h0.9M270.9 150.9h0.9M338.8 150.1h0.9M289.4 151.0h0.9M340.2 150.0h0.9M332.2 150.0h0.9M353.8 151.8h0.9M308.4 150.4h0.9M228.5 149.4h0.9M340.9 151.6h0.9M244.4 150.4h0.9M240.6 148.5h0.9M269.1 150.8h0.9M247.3 151.5h0.9M238.3 151.1h0.9M305.3 152.1h0.9M341.9 150.8h0.9M255.0 151.3h0.9M269.8 150.2h0.9M305.7 151.0h0.9M259.8 151.9h0.9M285.8 151.2h0.9M342.3 151.0h0.9M235.2 149.5h0.9M291.4 150.6h0.9M248.2 150.0h0.9M323.5 151.4h0.9M247.5 150.4h0.9M328.5 151.1h0.9M273.7 150.2h0.9M344.7 152.2h0.9M268.3 150.1h0.9M285.8 151.0h0.9M233.9 152.7h0.9M256.8 151.0h0.9M275.4 150.3h0.9M339.6 151.3h0.9M298.4 151.6h0.9M328.4 151.5h0.9M334.3 149.5h0.9M231.6 151.0h0.9M261.9 149.4h0.9M331.4 152.2h0.9M321.1 150.9h0.9M295.4 150.6h0.9M273.8 151.3h0.9M286.6 151.2h0.9M221.5 150.1h0.9M236.8 152.0h0.9M267.4 150.7h0.9M238.3 149.7h0.9M250.5 151.9h0.9M328.0 151.9h0.9M322.8 151.8h0.9M317.8 151.3h0.9M295.7 150.3h0.9M343.5 151.5h0.9M250.4 152.2h0.9M303.0 151.4h0.9M276.1 152.0h0.9M346.2 150.3h0.9M265.7 151.6h0.9M251.5 151.5h0.9M322.8 149.9h0.9M328.5 149.8h0.9M316.2 150.4h0.9M324.9 150.9h0.9M245.3 151.2h0.9M300.9 150.7h0.9M291.7 150.8h0.9M341.8 150.8h0.9M272.9 150.9h0.9M252.5 151.3h0.9M260.8 151.2h0.9M288.4 150.8h0.9M351.7 151.1h0.9M313.4 150.6h0.9M316.3 151.4h0.9M282.3 150.5h0.9M272.9 152.0h0.9M344.8 150.9h0.9M280.1 151.1h0.9M236.4 150.4h0.9M324.4 150.6h0.9M246.6 151.0h0.9M272.0 150.9h0.9M301.8 150.5h0.9M331.4 150.1h0.9M220.4 150.9h0.9M307.2 151.0h0.9M237.8 151.3h0.9M304.4 151.8h0.9M300.9 150.7h0.9M289.0 149.5h0.9M276.8 150.8h0.9M292.2 149.6h0.9M348.2 150.0h0.9M266.9 151.6h0.9M282.9 151.3h0.9M239.3 150.4h0.9M271.8 150.4h0.9M226.5 150.8h0.9M341.8 149.7h0.9M265.9 151.2h0.9M345.6 150.6h0.9M237.7 152.2h0.9M308.5 150.2h0.9M300.5 151.6h0.9M308.4 150.4h0.9M326.4 151.6h0.9M229.5 150.2h0.9M318.9 151.4h0.9M223.0 150.6h0.9M260.0 150.3h0.9M333.5 150.8h0.9M296.2 151.2h0.9M344.7 151.2h0.9M335.4 152.0h0.9M276.4 151.5h0.9M257.4 149.1h0.9M246.9 150.6h0.9M225.2 149.5h0.9M315.8 150.6h0.9M327.9 151.3h0.9M225.9 150.0h0.9M285.6 150.1h0.9M331.2 151.0h0.9M305.5 150.7h0.9M275.5 152.0h0.9M347.2 151.1h0.9M276.4 151.3h0.9M261.5 152.1h0.9M286.4 150.5h0.9M266.1 150.9h0.9M272.2 150.2h0.9M286.3 151.1h0.9M229.9 151.6h0.9M300.7 151.8h0.9M297.9 150.9h0.9M315.2 150.4h0.9M252.2 150.4h0.9M225.0 149.9h0.9M314.7 151.0h0.9M269.1 151.8h0.9M299.9 149.2h0.9M255.9 149.4h0.9M266.4 151.9h0.9M254.9 149.8h0.9M285.8 151.1h0.9M306.6 150.0h0.9M251.2 151.4h0.9M262.0 151.4h0.9M281.7 151.0h0.9M313.2 151.5h0.9M269.1 150.9h0.9M227.9 151.3h0.9M289.3 152.2h0.9M280.6 151.7h0.9M353.6 150.4h0.9M297.5 150.3h0.9M225.7 150.7h0.9M306.1 150.7h0.9M230.6 150.9h0.9M269.6 150.5h0.9M224.2 151.4h0.9M300.3 150.9h0.9M242.7 151.1h0.9M346.5 150.9h0.9M245.5 151.3h0.9M349.7 150.1h0.9M342.4 152.0h0.9M289.2 151.1h0.9M281.9 151.2h0.9M271.8 151.3h0.9M320.2 151.7h0.9M244.8 151.4h0.9M267.2 151.1h0.9M227.4 150.8h0.9M277.0 149.7h0.9M245.2 151.1h0.9M343.2 150.7h0.9M280.1 150.7h0.9M249.5 152.6h0.9M256.3 149.6h0.9M243.5 150.9h0.9M231.5 151.7h0.9M226.7 151.6h0.9M315.9 151.8h0.9M233.6 150.0h0.9M332.7 150.2h0.9M349.7 151.3h0.9M342.5 150.7h0.9M243.3 152.1h0.9M326.2 151.1h0.9M299.8 151.0h0.9M346.7 151.2h0.9M258.9 150.7h0.9M300.9 151.0h0.9M302.4 150.4h0.9M245.0 150.9h0.9M300.2 150.6h0.9M317.0 151.1h0.9M328.0 149.9h0.9M334.6 149.9h0.9M223.1 151.2h0.9M321.5 151.1h0.9M263.1 150.2h0.9M322.5 150.7h0.9M239.8 150.2h0.9M270.1 152.3h0.9"/>
<path d="M219 185.5V66H355M219 185.5H355" fill="none" stroke="#ada846" stroke-width="1"/>
<rect x="219.5" y="62.5" width="38.5" height="6.5" fill="#fff" stroke="none" stroke-width="1"/>
<text x="219.6" y="68.3" font-size="7.2" fill="#a8a532" text-anchor="start" stroke="#a8a532" stroke-width="0.2">P2(17.42%)</text>
<path d="M397.2 199.0V190.4H398.0V189.6H398.8V190.0H399.6V189.6H400.4V187.7H401.2V187.8H402.0V190.6H402.8V186.9H403.6V187.1H404.4V186.6H405.2V189.8H406.0V187.5H406.8V188.3H407.6V187.6H408.4V199.2H409.2V199.2H410.0V199.2H410.8V199.2H411.6V199.2H412.4V199.2H413.2V199.2H414.0V199.2H414.8V199.2H415.6V199.2H416.4V199.2H417.2V199.2H418.0V199.2H418.8V199.2H419.6V199.2H420.4V199.2H421.2V199.2H422.0V199.2H422.8V199.2H423.6V199.2H424.4V199.2H425.2V199.2H426.0V199.2H426.8V199.2H427.6V199.2H428.4V199.2H429.2V199.2H430.0V199.2H430.8V199.2H431.6V199.2H432.4V199.2H433.2V199.2H434.0V199.2H434.8V199.2H435.6V199.2H436.4V199.2H437.2V199.2H438.0V199.2H438.8V199.2H439.6V199.2H440.4V199.2H441.2V199.2H442.0V199.2H442.8V199.2H443.6V199.2H444.4V199.2H445.2V199.2H446.0V199.2H446.8V199.2H447.6V199.2H448.4V199.2H449.2V199.2H450.0V199.2H450.8V199.2H451.6V199.2H452.4V199.2H453.2V199.2H454.0V199.2H454.8V199.2H455.6V199.2H456.4V199.2H457.2V199.2H458.0V199.2H458.8V199.2H459.6V199.2H460.4V199.2H461.2V199.2H462.0V199.2H462.8V199.2H463.6V199.2H464.4V199.2H465.2V199.2H466.0V199.2H466.8V199.2H467.6V199.2H468.4V199.2H469.2V199.2H470.0V199.2H470.8V199.2H471.6V199.2H472.4V199.2H473.2V199.2H474.0V199.2H474.8V199.2H475.6V199.2H476.4V199.2H477.2V199.2H478.0V199.2H478.8V199.2H479.6V199.2H480.4V199.2H481.2V199.2H482.0V199.2H482.8V199.2H483.6V199.2H484.4V199.2H485.2V199.2H486.0V199.2H486.8V199.2H487.6V199.2H488.4V199.2H489.2V199.2H490.0V199.2H490.8V199.2H491.6V199.2H492.4V199.2H493.2V199.2H494.0V199.2H494.8V199.2H495.6V199.2H496.4V199.2H497.2V199.2H498.0V199.2H498.8V199.2H499.6V199.2H500.4V199.2H501.2V199.2H502.0V199.2H502.8V199.2H503.6V199.2H504.4V199.2H505.2V199.2H506.0V199.2H506.8V199.2H507.6V199.2H508.4V199.2H509.2V199.2H510.0V199.2H510.8V199.2H511.6V199.2H512.4V199.2H513.2V199.2H514.0V199.2H514.8V199.2H515.6V199.2H516.4V199.2H517.2V199.2H518.0V199.2H518.8V199.2H519.6V199.2H520.4V199.2H521.2V199.2H522.0V199.2H522.8V199.2H523.6V199.2H524.4V199.2H525.2V199.2H526.0V199.2H526.8V199.2H527.6V199.2H528.4V199.2H529.2V199.2H530.0V199.2H530.8V199.2H531.6V199.2H532.4V199.2H533.2V199.0z" fill="#8a8a8a" stroke="#222" stroke-width="0.6"/>
<path d="M397.2 199.0V199.2H398.0V199.2H398.8V199.2H399.6V199.2H400.4V199.2H401.2V199.2H402.0V199.2H402.8V199.2H403.6V199.2H404.4V199.2H405.2V199.2H406.0V199.2H406.8V191.9H407.6V193.2H408.4V191.8H409.2V192.5H410.0V190.0H410.8V195.4H411.6V193.4H412.4V195.4H413.2V191.5H414.0V191.0H414.8V194.8H415.6V193.7H416.4V192.4H417.2V195.3H418.0V196.4H418.8V193.3H419.6V194.2H420.4V195.1H421.2V191.9H422.0V193.5H422.8V196.6H423.6V191.6H424.4V190.7H425.2V184.7H426.0V184.5H426.8V177.9H427.6V87.2H428.4V83.2H429.2V123.6H430.0V149.1H430.8V179.9H431.6V186.0H432.4V189.3H433.2V194.9H434.0V196.2H434.8V197.0H435.6V197.3H436.4V197.7H437.2V197.4H438.0V196.9H438.8V198.4H439.6V198.6H440.4V198.8H441.2V197.1H442.0V196.7H442.8V197.6H443.6V196.2H444.4V187.0H445.2V174.6H446.0V186.5H446.8V195.3H447.6V196.4H448.4V197.2H449.2V198.0H450.0V196.8H450.8V197.9H451.6V198.4H452.4V198.1H453.2V198.7H454.0V198.0H454.8V197.5H455.6V198.6H456.4V197.6H457.2V197.2H458.0V197.9H458.8V198.6H459.6V198.5H460.4V198.3H461.2V198.7H462.0V198.7H462.8V198.4H463.6V198.4H464.4V198.1H465.2V198.7H466.0V197.8H466.8V198.1H467.6V198.2H468.4V198.7H469.2V198.0H470.0V198.6H470.8V198.1H471.6V198.3H472.4V198.8H473.2V198.7H474.0V198.2H474.8V198.4H475.6V198.7H476.4V198.6H477.2V198.6H478.0V198.8H478.8V198.7H479.6V198.8H480.4V198.8H481.2V198.7H482.0V198.9H482.8V198.7H483.6V198.8H484.4V198.7H485.2V198.7H486.0V198.7H486.8V198.8H487.6V198.8H488.4V198.9H489.2V198.9H490.0V199.0H490.8V199.0H491.6V198.9H492.4V198.9H493.2V198.9H494.0V199.0H494.8V198.8H495.6V199.0H496.4V198.9H497.2V198.9H498.0V198.9H498.8V199.0H499.6V199.0H500.4V199.1H501.2V199.0H502.0V199.1H502.8V198.9H503.6V198.8H504.4V199.2H505.2V199.1H506.0V198.9H506.8V198.9H507.6V199.0H508.4V199.0H509.2V198.9H510.0V198.9H510.8V198.9H511.6V198.9H512.4V199.1H513.2V199.0H514.0V199.0H514.8V199.1H515.6V199.0H516.4V199.0H517.2V199.1H518.0V199.0H518.8V199.0H519.6V199.1H520.4V199.1H521.2V199.0H522.0V198.9H522.8V199.0H523.6V198.9H524.4V199.0H525.2V199.2H526.0V199.0H526.8V199.1H527.6V199.1H528.4V199.1H529.2V198.9H530.0V199.1H530.8V199.1H531.6V199.0H532.4V199.0H533.2V199.0z" fill="#eea21a" stroke="#e39510" stroke-width="0.4"/>
<path stroke="#000" stroke-opacity="0.9" stroke-width="0.9" fill="none" d="M112.6 344.1h0.9M114.5 318.6h0.9M111.2 333.6h0.9M111.8 311.3h0.9M109.0 315.4h0.9M118.0 303.6h0.9M119.5 305.8h0.9M123.6 291.4h0.9M109.7 336.3h0.9M115.5 302.6h0.9M121.3 326.6h0.9M117.3 325.3h0.9M122.1 310.5h0.9M113.2 320.6h0.9M112.6 319.5h0.9M111.5 313.6h0.9M120.9 320.8h0.9M110.1 322.2h0.9M109.6 307.7h0.9M115.6 301.9h0.9M124.4 308.5h0.9M116.2 320.4h0.9M113.8 339.3h0.9M113.0 341.4h0.9M114.9 325.9h0.9M113.0 333.7h0.9M108.8 321.9h0.9M121.1 334.6h0.9M114.9 322.4h0.9M121.5 324.2h0.9M108.9 316.5h0.9M118.8 320.2h0.9M107.8 343.8h0.9M112.5 304.1h0.9M117.4 320.0h0.9M122.5 312.9h0.9M120.3 332.9h0.9M116.6 345.8h0.9M115.1 318.2h0.9M125.5 281.9h0.9M111.4 330.0h0.9M112.1 327.9h0.9M121.2 296.2h0.9M116.5 314.1h0.9M120.5 319.1h0.9M114.5 286.3h0.9M120.1 329.8h0.9M112.6 323.3h0.9M123.1 322.3h0.9M124.2 305.5h0.9M111.9 310.9h0.9M117.7 308.9h0.9M118.4 326.3h0.9M113.8 310.2h0.9M109.4 341.8h0.9M113.6 325.7h0.9M125.0 285.7h0.9M115.7 342.4h0.9M113.5 323.2h0.9M121.5 312.8h0.9M123.1 322.3h0.9M124.2 296.0h0.9M112.0 323.0h0.9M118.5 287.0h0.9M120.4 303.2h0.9M115.7 342.8h0.9M115.0 337.4h0.9M115.2 314.4h0.9M113.4 308.8h0.9M119.7 334.1h0.9M115.2 320.9h0.9M125.0 322.2h0.9M108.8 329.3h0.9M116.9 306.1h0.9M111.4 329.6h0.9M117.7 340.3h0.9M117.7 297.6h0.9M108.2 310.3h0.9M123.8 308.9h0.9M114.9 330.9h0.9M108.7 330.9h0.9M107.5 326.8h0.9M116.9 327.6h0.9M114.2 325.7h0.9M117.4 316.9h0.9M122.4 293.3h0.9M120.3 287.2h0.9M120.1 290.7h0.9M119.0 322.7h0.9M115.8 319.1h0.9M115.3 316.7h0.9M119.2 321.1h0.9M107.0 316.4h0.9M125.0 304.6h0.9M121.5 300.9h0.9M117.4 293.5h0.9M112.6 336.5h0.9M119.8 332.7h0.9M121.7 302.8h0.9M108.2 314.7h0.9M110.0 326.9h0.9M113.4 340.5h0.9M126.6 311.2h0.9M119.7 321.4h0.9M112.5 336.7h0.9M122.9 295.7h0.9M117.7 311.4h0.9M114.6 320.4h0.9M120.0 308.9h0.9M104.6 343.2h0.9M119.2 331.0h0.9M118.5 322.1h0.9M116.4 306.0h0.9M110.2 331.0h0.9M108.4 330.4h0.9M118.6 314.0h0.9M118.1 313.4h0.9M120.7 298.5h0.9M125.0 318.5h0.9M103.6 332.0h0.9M110.5 334.0h0.9M111.4 325.7h0.9M118.9 330.9h0.9M116.9 308.8h0.9M112.7 313.3h0.9M114.1 337.8h0.9M117.4 324.7h0.9M126.1 308.9h0.9M116.4 326.0h0.9M112.3 330.5h0.9M111.6 332.7h0.9M111.7 322.7h0.9M119.8 313.3h0.9M119.4 324.8h0.9M111.2 344.3h0.9M115.3 321.6h0.9M124.6 311.1h0.9M116.1 323.3h0.9M121.6 302.4h0.9M110.4 322.5h0.9M114.3 313.5h0.9M103.5 335.8h0.9M109.0 322.5h0.9M115.6 333.4h0.9M116.8 343.0h0.9M115.6 315.7h0.9M112.5 306.8h0.9M115.8 325.4h0.9M122.5 316.3h0.9M115.3 320.6h0.9M122.2 311.4h0.9M114.5 328.2h0.9M110.5 317.9h0.9M117.7 289.4h0.9M115.8 315.0h0.9M127.0 322.9h0.9M116.1 335.9h0.9M116.6 310.6h0.9M119.4 309.5h0.9M114.3 337.0h0.9M115.6 310.8h0.9M115.6 320.3h0.9M113.4 329.0h0.9M117.7 332.9h0.9M123.9 320.4h0.9M125.4 303.9h0.9M112.1 335.4h0.9M119.7 315.8h0.9M114.0 311.7h0.9M107.6 347.8h0.9M114.6 331.9h0.9M121.5 306.5h0.9M117.2 312.2h0.9M120.9 316.4h0.9M122.3 308.6h0.9M124.0 292.9h0.9M113.3 332.5h0.9M107.9 329.3h0.9M124.7 322.7h0.9M114.7 314.9h0.9M119.5 322.0h0.9M116.6 331.7h0.9M117.4 303.0h0.9M125.5 318.8h0.9M121.1 310.9h0.9M114.3 330.9h0.9M113.2 325.8h0.9M114.7 302.3h0.9M111.8 309.0h0.9M114.2 344.0h0.9M116.4 306.2h0.9M113.5 322.7h0.9M120.0 312.3h0.9M111.5 338.8h0.9M119.3 321.0h0.9M114.4 312.2h0.9M116.3 304.7h0.9M121.8 313.7h0.9M111.0 331.5h0.9M118.0 327.5h0.9M122.2 298.5h0.9M112.4 342.9h0.9M108.7 316.2h0.9M112.1 306.4h0.9M111.0 319.1h0.9M111.7 309.2h0.9M121.9 311.4h0.9M113.6 309.8h0.9M110.3 318.5h0.9M115.1 311.7h0.9M120.0 295.2h0.9M107.1 325.2h0.9M120.2 314.3h0.9M116.7 335.9h0.9M112.4 325.4h0.9M118.6 329.3h0.9M108.0 322.9h0.9M110.8 338.0h0.9M116.2 315.4h0.9M119.1 305.2h0.9M121.2 324.2h0.9M122.1 278.3h0.9M112.6 312.1h0.9M117.1 320.8h0.9M118.0 314.2h0.9M114.9 339.0h0.9M113.0 329.1h0.9M116.9 320.8h0.9M114.1 315.7h0.9M116.3 334.3h0.9M114.5 311.1h0.9M114.1 314.4h0.9M120.6 328.0h0.9M111.0 328.4h0.9M111.9 345.4h0.9M119.9 314.8h0.9M119.6 291.8h0.9M119.5 326.9h0.9M110.4 339.2h0.9M121.2 320.4h0.9M106.3 342.4h0.9M106.7 346.7h0.9M118.5 308.3h0.9M124.1 314.9h0.9M126.3 305.0h0.9M110.3 329.5h0.9M114.7 328.2h0.9M112.1 329.6h0.9M109.1 302.2h0.9M121.4 310.5h0.9M118.1 298.6h0.9M126.2 297.1h0.9M120.9 299.9h0.9M117.5 298.2h0.9M113.3 316.8h0.9M114.1 327.1h0.9M116.8 329.5h0.9M113.8 319.8h0.9M117.4 318.9h0.9M109.3 327.4h0.9M117.2 316.5h0.9M121.8 320.4h0.9M119.0 315.7h0.9M115.9 312.1h0.9M113.0 319.8h0.9M115.3 303.0h0.9M108.9 331.3h0.9M117.5 298.6h0.9M116.3 326.7h0.9M117.1 299.1h0.9M118.7 343.3h0.9M116.3 329.8h0.9M115.8 309.7h0.9M117.1 313.6h0.9M125.9 304.2h0.9M107.8 320.4h0.9M116.2 326.6h0.9M121.5 345.1h0.9M124.4 298.9h0.9M109.7 334.9h0.9M118.2 311.6h0.9M114.1 325.7h0.9M127.3 333.0h0.9M111.7 327.0h0.9M113.9 325.8h0.9M115.0 317.7h0.9M108.9 321.9h0.9M99.9 320.4h0.9M112.2 337.2h0.9M122.0 299.5h0.9M115.5 311.5h0.9M121.8 300.6h0.9M121.9 308.0h0.9M121.5 308.9h0.9M106.1 334.4h0.9M117.3 345.3h0.9M116.4 339.7h0.9M122.9 303.1h0.9M115.8 322.9h0.9M119.0 303.3h0.9M112.8 324.5h0.9M115.1 336.9h0.9M119.7 326.2h0.9M111.6 331.0h0.9M120.4 319.2h0.9M118.6 294.7h0.9M123.3 292.9h0.9M115.8 318.4h0.9M119.4 326.1h0.9M121.8 335.6h0.9M118.1 315.2h0.9M113.7 320.7h0.9M113.7 322.1h0.9M116.7 333.5h0.9M113.6 320.8h0.9M123.4 305.7h0.9M115.1 334.5h0.9M119.7 325.5h0.9M112.4 326.7h0.9M114.7 302.4h0.9M112.6 319.7h0.9M122.5 293.3h0.9M118.2 289.1h0.9M120.8 313.3h0.9M107.8 310.0h0.9M111.7 327.3h0.9M112.1 339.9h0.9M107.6 317.7h0.9M109.7 344.9h0.9M110.2 312.0h0.9M114.2 329.9h0.9M118.5 299.7h0.9M119.3 323.4h0.9M112.6 317.1h0.9M108.9 315.7h0.9M111.7 330.5h0.9M121.3 293.4h0.9M116.7 319.9h0.9M119.2 307.6h0.9M122.5 318.3h0.9M113.7 324.4h0.9M116.6 311.9h0.9M112.7 316.0h0.9M116.1 304.0h0.9M120.5 325.0h0.9M119.5 311.0h0.9M102.8 323.0h0.9M125.2 299.9h0.9M104.6 339.1h0.9M116.7 305.4h0.9M118.2 333.8h0.9M118.0 313.1h0.9M117.8 326.7h0.9M120.9 317.6h0.9M115.8 331.1h0.9M109.7 322.1h0.9M114.5 339.4h0.9M111.5 327.8h0.9M103.0 327.8h0.9M111.3 342.6h0.9M120.6 310.4h0.9M114.3 334.4h0.9M116.4 319.5h0.9M127.3 301.7h0.9M116.9 324.2h0.9M121.5 315.5h0.9M113.8 341.8h0.9M125.5 313.4h0.9M114.4 320.0h0.9M121.7 322.2h0.9M113.2 327.4h0.9M123.8 305.7h0.9M107.6 337.9h0.9M113.6 342.6h0.9M119.8 320.5h0.9M116.7 295.3h0.9M107.5 319.6h0.9M116.4 320.4h0.9M113.3 328.1h0.9M118.8 310.8h0.9M120.7 302.1h0.9M120.5 319.2h0.9M126.3 306.1h0.9M113.5 345.5h0.9M111.2 305.3h0.9M121.3 310.3h0.9M118.1 320.9h0.9M119.6 304.6h0.9M125.4 312.5h0.9M118.2 316.3h0.9M115.7 313.3h0.9M119.6 314.1h0.9M106.6 336.1h0.9M120.5 322.9h0.9M119.8 301.1h0.9M125.7 313.5h0.9M117.6 332.2h0.9M119.7 311.0h0.9M117.3 319.6h0.9M110.7 318.9h0.9M115.1 324.8h0.9M118.3 317.0h0.9M121.7 317.2h0.9M120.5 308.2h0.9M118.8 325.8h0.9M122.5 303.6h0.9M110.3 343.9h0.9M117.8 320.3h0.9M116.2 314.6h0.9M108.0 333.2h0.9M109.4 317.2h0.9M119.7 324.4h0.9M123.5 319.9h0.9M124.9 310.9h0.9M114.4 307.1h0.9M125.2 311.3h0.9M121.0 333.6h0.9M114.4 309.6h0.9M120.3 310.9h0.9M125.8 314.1h0.9M115.5 328.0h0.9M116.1 346.2h0.9M115.5 307.6h0.9M113.9 325.0h0.9M120.4 322.2h0.9M116.3 315.6h0.9M115.9 326.7h0.9M119.8 302.6h0.9M109.6 330.9h0.9M123.3 322.5h0.9M117.9 307.2h0.9M111.7 340.0h0.9M112.6 329.4h0.9M114.2 334.4h0.9M115.4 300.9h0.9M121.5 315.2h0.9M115.6 315.1h0.9M119.7 323.5h0.9M109.8 337.1h0.9M116.8 292.4h0.9M111.8 320.1h0.9M117.6 319.7h0.9M108.0 333.0h0.9M121.0 317.4h0.9M117.7 303.1h0.9M121.0 319.1h0.9M117.7 301.3h0.9M122.2 309.6h0.9M111.2 320.5h0.9M112.4 311.6h0.9M118.9 322.6h0.9M117.5 298.9h0.9M115.8 345.1h0.9M110.6 336.5h0.9M117.6 327.6h0.9M115.6 302.0h0.9M114.6 288.7h0.9M125.5 307.7h0.9M116.1 315.4h0.9M115.5 345.4h0.9M113.9 338.6h0.9M109.2 312.5h0.9M115.2 337.1h0.9M118.6 334.3h0.9M122.7 320.4h0.9M120.7 336.7h0.9M117.8 323.1h0.9M117.5 310.2h0.9M120.2 299.0h0.9M111.0 317.9h0.9M117.6 332.6h0.9M123.6 297.3h0.9M121.6 298.0h0.9M111.5 326.1h0.9M125.0 282.4h0.9M110.2 344.2h0.9M123.5 314.1h0.9M111.7 329.7h0.9M110.2 344.7h0.9M118.2 300.2h0.9M113.6 306.2h0.9M109.4 341.7h0.9M115.7 315.6h0.9M104.7 316.8h0.9M126.0 320.9h0.9M115.3 336.0h0.9M114.3 339.2h0.9M112.1 319.4h0.9M118.4 313.1h0.9M116.2 320.2h0.9M116.3 322.7h0.9M107.1 337.0h0.9M116.0 318.4h0.9M105.3 344.4h0.9M117.1 309.3h0.9M110.9 326.1h0.9M110.0 343.5h0.9M111.5 339.8h0.9M119.5 325.3h0.9M124.1 309.4h0.9M118.0 310.6h0.9M111.1 319.1h0.9M123.4 321.2h0.9M110.2 314.8h0.9M117.7 296.9h0.9M116.5 312.6h0.9M111.5 326.9h0.9M120.9 330.8h0.9M121.7 299.0h0.9M122.8 312.9h0.9M119.7 292.1h0.9M121.4 315.0h0.9M111.5 345.0h0.9M115.5 320.4h0.9M119.0 312.6h0.9M119.7 311.2h0.9M121.8 303.3h0.9M119.8 293.7h0.9M108.9 319.8h0.9M115.6 314.4h0.9M101.9 340.3h0.9M118.7 298.2h0.9M111.1 326.3h0.9M116.6 338.5h0.9M109.5 292.3h0.9M125.0 327.0h0.9M118.4 298.0h0.9M107.3 326.1h0.9M114.8 338.4h0.9M118.5 320.5h0.9M118.2 321.0h0.9M111.3 324.6h0.9M114.7 336.5h0.9M117.6 316.4h0.9M113.2 317.6h0.9M116.7 325.6h0.9M120.6 330.7h0.9M116.6 295.7h0.9M118.3 320.9h0.9M122.9 310.2h0.9M118.4 326.5h0.9M106.2 335.4h0.9M116.9 324.2h0.9M111.7 336.6h0.9M124.7 306.0h0.9M116.1 316.7h0.9M110.1 319.9h0.9M118.8 319.6h0.9M112.3 317.2h0.9M124.2 319.1h0.9M112.6 314.5h0.9M118.8 326.6h0.9M117.0 314.4h0.9M106.7 333.3h0.9M110.6 322.7h0.9M121.4 292.1h0.9M119.4 316.1h0.9M118.0 299.1h0.9M115.6 331.8h0.9M114.0 340.5h0.9M117.4 321.5h0.9M109.9 322.4h0.9M120.5 298.3h0.9M123.6 288.8h0.9M110.5 310.2h0.9M124.7 315.1h0.9M126.4 298.9h0.9M116.5 322.8h0.9M125.6 325.5h0.9M110.9 327.9h0.9M108.9 341.1h0.9M111.4 330.1h0.9M113.7 314.1h0.9M125.5 319.2h0.9M115.6 325.1h0.9M118.6 304.5h0.9M114.5 339.3h0.9M121.6 333.1h0.9M118.2 313.5h0.9M116.0 310.4h0.9M113.1 344.1h0.9M120.4 331.5h0.9M113.4 330.8h0.9M117.0 345.7h0.9M115.5 332.7h0.9M114.8 323.3h0.9M116.9 330.5h0.9M113.5 329.1h0.9M125.8 300.5h0.9M118.1 325.4h0.9M115.5 328.8h0.9M120.1 298.6h0.9M115.0 344.3h0.9M121.9 304.1h0.9M115.3 335.6h0.9M120.5 314.2h0.9M110.9 326.0h0.9M114.9 308.8h0.9M108.2 346.3h0.9M112.6 331.8h0.9M111.3 344.4h0.9M112.7 330.1h0.9M117.1 330.2h0.9M111.2 322.2h0.9M115.3 318.2h0.9M119.3 327.1h0.9M124.0 323.1h0.9M116.8 318.2h0.9M125.1 300.6h0.9M124.1 313.6h0.9M109.7 328.9h0.9M118.5 313.7h0.9M110.1 325.7h0.9M114.7 317.7h0.9M120.8 305.1h0.9M112.1 307.8h0.9M120.5 310.2h0.9M116.1 316.7h0.9M115.2 319.0h0.9M116.2 334.3h0.9M114.3 307.7h0.9M114.8 287.0h0.9M114.6 330.7h0.9M114.0 312.2h0.9M115.1 321.1h0.9M108.2 343.8h0.9M108.8 341.6h0.9M110.1 326.5h0.9M108.3 331.2h0.9M111.7 322.7h0.9M110.1 334.4h0.9M118.0 310.3h0.9M114.4 312.9h0.9M106.0 344.0h0.9M115.1 339.9h0.9M111.8 310.0h0.9M109.5 336.0h0.9M115.2 316.1h0.9M113.8 335.4h0.9M117.8 312.2h0.9M115.0 333.4h0.9M116.0 317.5h0.9M122.5 314.5h0.9M120.3 319.9h0.9M113.2 321.7h0.9M116.6 311.2h0.9M112.9 302.1h0.9M114.6 343.8h0.9M116.0 315.0h0.9M118.9 288.4h0.9M128.0 282.3h0.9M113.2 310.8h0.9M105.9 339.7h0.9M116.1 298.1h0.9M118.7 314.7h0.9M125.2 292.2h0.9M110.0 333.3h0.9M120.3 323.6h0.9M112.7 325.2h0.9M110.9 338.5h0.9M111.2 342.3h0.9M121.1 335.0h0.9M118.2 313.0h0.9M120.3 303.7h0.9M111.4 304.6h0.9M120.9 296.5h0.9M112.7 346.1h0.9M124.8 315.9h0.9M111.5 322.0h0.9M112.4 321.3h0.9M108.7 344.8h0.9M114.2 312.8h0.9M116.7 333.9h0.9M111.7 322.9h0.9M122.9 316.7h0.9M120.8 293.5h0.9M109.9 331.7h0.9M114.6 310.2h0.9M110.7 312.3h0.9M108.6 322.4h0.9M121.4 322.2h0.9M117.3 336.1h0.9M112.8 310.9h0.9M113.5 322.2h0.9M123.0 325.4h0.9M112.1 322.4h0.9M115.7 328.9h0.9M119.3 315.4h0.9M112.6 335.2h0.9M116.4 312.7h0.9M118.2 298.7h0.9M117.1 317.5h0.9M106.5 336.8h0.9M117.2 314.4h0.9M118.7 309.5h0.9M110.4 315.0h0.9M118.2 320.2h0.9M112.1 316.5h0.9M102.1 326.8h0.9M111.6 296.4h0.9M113.0 340.5h0.9M117.4 328.2h0.9M115.9 308.5h0.9M106.9 338.9h0.9M114.5 324.5h0.9M116.5 338.7h0.9M118.1 306.7h0.9M106.8 341.9h0.9M117.9 322.4h0.9M120.3 290.4h0.9M113.1 332.4h0.9M116.8 316.9h0.9M121.2 305.6h0.9M115.5 320.0h0.9M116.8 291.6h0.9M114.1 327.8h0.9M117.4 315.7h0.9M122.6 315.1h0.9M107.8 339.1h0.9M115.5 319.1h0.9M113.4 310.4h0.9M119.2 309.2h0.9M113.9 316.6h0.9M100.0 333.0h0.9M122.3 310.5h0.9M115.3 304.9h0.9M108.5 334.4h0.9M108.3 321.9h0.9M110.7 320.4h0.9M107.1 345.4h0.9M117.6 306.7h0.9M116.5 321.1h0.9M120.2 293.6h0.9M118.5 315.8h0.9M110.5 328.5h0.9M116.1 335.3h0.9M118.7 301.1h0.9M116.5 329.7h0.9M117.2 330.5h0.9M114.7 317.2h0.9M116.3 344.4h0.9M120.2 318.4h0.9M115.7 309.8h0.9M123.5 326.6h0.9M127.0 296.9h0.9M106.6 340.9h0.9M103.4 333.8h0.9M114.0 314.1h0.9M116.8 328.6h0.9M119.4 327.1h0.9M114.2 344.9h0.9M117.9 308.5h0.9M123.7 301.7h0.9M123.6 292.8h0.9M115.1 313.0h0.9M120.7 297.7h0.9M121.5 318.5h0.9M111.6 327.6h0.9M114.0 313.7h0.9M114.1 307.6h0.9M119.1 339.2h0.9M119.5 319.2h0.9M119.7 322.6h0.9M112.2 332.3h0.9M118.8 303.4h0.9M124.1 307.5h0.9M111.0 344.3h0.9M122.3 317.5h0.9M118.3 306.0h0.9M116.6 316.2h0.9M120.2 311.7h0.9M123.1 302.6h0.9M126.0 312.1h0.9M114.0 322.3h0.9M124.0 321.6h0.9M110.7 329.7h0.9M116.5 295.7h0.9M109.5 299.4h0.9M118.1 331.8h0.9M124.1 315.1h0.9M108.6 334.2h0.9M113.7 324.8h0.9M118.5 298.9h0.9M107.3 327.4h0.9M119.0 305.0h0.9M116.5 326.2h0.9M110.9 337.9h0.9M108.3 345.1h0.9M116.6 321.1h0.9M117.4 329.6h0.9M108.7 323.1h0.9M113.8 330.7h0.9M124.3 284.0h0.9M103.3 314.7h0.9M116.8 325.3h0.9M123.4 326.3h0.9M111.6 309.4h0.9M120.1 333.0h0.9M112.1 335.8h0.9M118.7 322.4h0.9M115.8 317.1h0.9M111.7 313.1h0.9M107.7 320.3h0.9M124.1 333.9h0.9M107.1 342.5h0.9M115.8 314.1h0.9M125.4 306.4h0.9M119.7 307.5h0.9M114.5 334.2h0.9M105.8 322.9h0.9M112.3 324.6h0.9M108.7 325.4h0.9M106.8 323.6h0.9M117.8 320.6h0.9M122.9 304.2h0.9M113.8 311.4h0.9M112.3 323.7h0.9M117.8 322.7h0.9M121.1 315.9h0.9M111.9 314.4h0.9M117.7 338.8h0.9M121.7 313.9h0.9M115.9 321.3h0.9M112.0 312.3h0.9M120.4 310.9h0.9M122.9 298.6h0.9M125.8 313.9h0.9M114.8 310.3h0.9M121.6 332.2h0.9M117.0 304.8h0.9M119.5 315.4h0.9M113.6 331.4h0.9M116.7 319.2h0.9M121.8 328.7h0.9M111.0 331.1h0.9M123.8 296.4h0.9M115.8 314.4h0.9M118.1 307.3h0.9M109.9 339.4h0.9M116.9 321.3h0.9M105.0 328.1h0.9M111.2 343.6h0.9M121.4 318.1h0.9M120.0 321.5h0.9M107.1 326.2h0.9M111.1 317.1h0.9M111.5 336.8h0.9M123.5 329.7h0.9M111.8 334.0h0.9M116.1 320.2h0.9M116.0 314.0h0.9M118.4 315.3h0.9M112.6 314.7h0.9M121.3 296.5h0.9M118.1 322.4h0.9M119.3 331.0h0.9M111.4 322.5h0.9M121.5 314.5h0.9M125.2 322.1h0.9M119.5 323.1h0.9M118.5 326.1h0.9M103.4 343.7h0.9M124.9 307.6h0.9M124.6 325.8h0.9M120.9 327.4h0.9M118.5 321.1h0.9M120.7 317.2h0.9M114.2 310.8h0.9M112.4 330.3h0.9M117.4 339.0h0.9M119.1 310.2h0.9M105.1 322.4h0.9M116.3 325.7h0.9M115.1 335.5h0.9M110.9 324.1h0.9M117.0 326.3h0.9M114.6 335.9h0.9M110.1 304.8h0.9M118.9 318.8h0.9M112.1 311.1h0.9M114.0 297.6h0.9M115.2 327.5h0.9M114.9 335.0h0.9M110.5 314.6h0.9M112.8 318.2h0.9M124.0 313.8h0.9M118.0 316.5h0.9M121.6 318.5h0.9M115.3 324.2h0.9M121.9 316.2h0.9M115.3 309.8h0.9M114.8 312.9h0.9M109.6 331.1h0.9M107.1 317.4h0.9M111.1 340.6h0.9M109.8 318.2h0.9M111.2 337.9h0.9M119.7 303.0h0.9M118.9 308.9h0.9M117.1 326.2h0.9M113.3 325.6h0.9M116.0 319.3h0.9M115.9 346.1h0.9M115.3 320.7h0.9M115.8 323.1h0.9M106.1 307.9h0.9M108.3 341.6h0.9M119.4 332.0h0.9M110.7 326.5h0.9M115.9 293.1h0.9M120.7 321.3h0.9M111.1 313.8h0.9M120.4 323.7h0.9M113.6 332.0h0.9M114.9 309.0h0.9M105.3 323.7h0.9M121.0 329.1h0.9M106.9 321.3h0.9M110.5 316.8h0.9M122.4 305.8h0.9M111.7 309.6h0.9M121.4 303.3h0.9M113.6 333.7h0.9M114.8 320.0h0.9M113.6 304.4h0.9M112.7 320.8h0.9M120.5 302.2h0.9M119.5 280.4h0.9M116.4 334.5h0.9M114.3 336.9h0.9M122.1 299.6h0.9M119.2 308.8h0.9M118.6 321.8h0.9M118.6 316.4h0.9M122.3 307.5h0.9M119.3 312.4h0.9M118.4 315.7h0.9M113.0 311.2h0.9M106.8 324.2h0.9M116.4 320.0h0.9M122.3 311.6h0.9M111.3 321.0h0.9M112.6 298.5h0.9M110.6 338.9h0.9M121.9 295.6h0.9M120.9 317.0h0.9M113.4 326.6h0.9M109.4 325.0h0.9M115.4 322.3h0.9M116.4 336.0h0.9M118.4 304.9h0.9M121.4 318.1h0.9M113.3 321.9h0.9M121.6 313.4h0.9M125.3 313.8h0.9M109.2 335.4h0.9M113.4 310.6h0.9M120.6 312.3h0.9M118.7 319.4h0.9M115.5 322.9h0.9M123.2 316.5h0.9M114.6 325.6h0.9M107.8 321.6h0.9M110.0 328.0h0.9M118.8 337.6h0.9M109.6 309.1h0.9M106.9 341.8h0.9M121.2 313.8h0.9M115.4 328.6h0.9M121.9 321.1h0.9M111.5 316.0h0.9M117.3 294.8h0.9M111.2 340.6h0.9M111.8 309.0h0.9M116.7 309.7h0.9M113.1 333.0h0.9M120.1 322.1h0.9M111.4 346.2h0.9M111.3 339.1h0.9M117.1 328.4h0.9M121.3 321.6h0.9M119.4 331.3h0.9M120.2 303.4h0.9M114.2 320.3h0.9M113.6 320.7h0.9M110.7 313.3h0.9M116.0 322.6h0.9M119.2 301.2h0.9M121.8 333.4h0.9M114.0 338.0h0.9M122.4 304.0h0.9M122.1 323.1h0.9M105.1 340.4h0.9M112.1 324.8h0.9M117.5 304.8h0.9M118.8 307.7h0.9M108.4 332.5h0.9M114.9 345.9h0.9M123.2 304.7h0.9M118.7 319.7h0.9M121.2 309.7h0.9M111.0 317.8h0.9M121.0 324.4h0.9M113.1 319.5h0.9M108.5 309.3h0.9M112.2 345.8h0.9M118.5 318.4h0.9M113.4 315.9h0.9M105.6 337.2h0.9M110.6 318.5h0.9M115.6 318.4h0.9M101.9 332.2h0.9M123.6 306.1h0.9M119.6 328.6h0.9M113.1 332.7h0.9M119.7 329.7h0.9M115.8 317.1h0.9M110.6 319.1h0.9M122.7 298.0h0.9M119.1 319.0h0.9M110.8 323.9h0.9M107.2 331.7h0.9M110.5 324.2h0.9M122.9 314.3h0.9M116.4 309.1h0.9M112.9 319.5h0.9M116.6 333.1h0.9M117.7 320.0h0.9M115.9 314.3h0.9M120.5 318.6h0.9M113.1 312.5h0.9M116.6 315.6h0.9M116.1 291.4h0.9M109.9 298.0h0.9M119.6 301.4h0.9M109.2 327.0h0.9M109.8 319.0h0.9M118.6 322.2h0.9M112.5 336.8h0.9M120.1 307.7h0.9M121.3 335.8h0.9M116.2 324.6h0.9M120.6 307.1h0.9M107.8 340.0h0.9M123.4 300.4h0.9M122.6 306.6h0.9M111.1 318.8h0.9M118.4 325.8h0.9M117.8 319.2h0.9M120.1 291.1h0.9M117.3 315.7h0.9M109.6 344.7h0.9M111.6 338.3h0.9M116.1 322.9h0.9M117.9 304.1h0.9M106.1 325.4h0.9M121.4 307.6h0.9M120.6 320.4h0.9M124.0 324.2h0.9M114.3 314.4h0.9M109.0 324.5h0.9M119.7 318.2h0.9M112.0 313.9h0.9M112.7 340.1h0.9M113.0 326.2h0.9M117.8 315.5h0.9M115.7 309.4h0.9M119.2 322.4h0.9M110.5 325.9h0.9M125.6 333.3h0.9M116.3 338.3h0.9M111.8 326.8h0.9M113.9 305.1h0.9M111.5 343.5h0.9M111.4 335.2h0.9M110.2 330.8h0.9M119.2 337.2h0.9M123.9 301.0h0.9M111.7 314.0h0.9M119.5 316.6h0.9M113.3 337.2h0.9M122.9 302.6h0.9M114.2 311.7h0.9M121.2 341.7h0.9M115.0 328.7h0.9M127.0 314.7h0.9M110.5 343.3h0.9M126.0 299.8h0.9M115.1 322.9h0.9M124.4 320.4h0.9M113.7 328.8h0.9M111.6 315.2h0.9M112.2 311.3h0.9M113.0 319.7h0.9M121.9 303.1h0.9M116.7 327.8h0.9M117.7 314.1h0.9M119.4 331.2h0.9M125.7 312.1h0.9M112.7 310.8h0.9M120.0 326.9h0.9M123.5 337.5h0.9M118.2 292.7h0.9M112.8 322.9h0.9M117.3 325.3h0.9M120.0 303.7h0.9M115.5 307.8h0.9M114.8 326.2h0.9M126.2 308.0h0.9M122.4 310.2h0.9M109.2 342.6h0.9M109.7 307.5h0.9M113.2 304.6h0.9M121.9 290.7h0.9M114.4 307.6h0.9M115.2 301.7h0.9M114.8 344.6h0.9M111.9 337.7h0.9M117.0 304.3h0.9M112.3 347.5h0.9M122.1 327.8h0.9M118.0 318.3h0.9M118.1 328.8h0.9M115.2 328.2h0.9M126.0 308.0h0.9M115.1 294.4h0.9M112.4 309.2h0.9M113.6 320.4h0.9M127.2 314.9h0.9M125.6 309.9h0.9M108.6 333.5h0.9M115.9 308.0h0.9M117.1 330.4h0.9M117.8 312.3h0.9M120.6 320.2h0.9M116.4 304.5h0.9M108.0 319.5h0.9M121.5 307.2h0.9M125.7 296.8h0.9M109.0 317.4h0.9M107.1 318.4h0.9M112.2 330.2h0.9M106.4 323.0h0.9M120.3 308.3h0.9M111.5 313.8h0.9M124.5 288.1h0.9M116.7 307.0h0.9M114.0 336.4h0.9M115.2 341.8h0.9M113.5 329.6h0.9M110.5 323.9h0.9M119.5 327.8h0.9M108.2 324.0h0.9M126.7 295.5h0.9M115.3 307.7h0.9M111.1 335.9h0.9M115.4 335.1h0.9M118.0 321.5h0.9M119.8 313.7h0.9M109.8 314.4h0.9M113.4 310.5h0.9M120.4 305.4h0.9M122.3 293.7h0.9M115.4 321.8h0.9M124.0 312.3h0.9M116.3 314.0h0.9M116.0 342.8h0.9M120.2 328.6h0.9M119.7 309.6h0.9M114.1 326.7h0.9M123.7 296.0h0.9M115.8 334.9h0.9M119.1 321.4h0.9M112.2 318.0h0.9M117.5 326.3h0.9M119.7 338.7h0.9M116.0 313.1h0.9M119.7 303.7h0.9M110.4 349.2h0.9M121.1 317.4h0.9M104.4 339.6h0.9M126.0 309.3h0.9M118.1 324.2h0.9M116.3 313.0h0.9M116.7 325.2h0.9M122.6 315.6h0.9M119.6 311.3h0.9M115.5 340.4h0.9M121.5 324.6h0.9M121.8 291.3h0.9M121.0 313.9h0.9M126.1 305.3h0.9M121.9 302.6h0.9M114.4 312.8h0.9M121.3 313.2h0.9M126.0 322.4h0.9M116.5 309.0h0.9M122.5 294.9h0.9M119.7 312.6h0.9M119.1 328.7h0.9M117.4 302.1h0.9M115.1 326.1h0.9M125.1 325.1h0.9M120.2 317.0h0.9M112.9 321.8h0.9M122.0 309.6h0.9M117.5 314.6h0.9M126.3 306.0h0.9M107.3 325.7h0.9M113.8 337.0h0.9M122.3 313.4h0.9M108.5 332.5h0.9M118.4 289.3h0.9M120.4 309.8h0.9M118.7 306.7h0.9M111.5 341.4h0.9M119.5 310.2h0.9M107.8 329.5h0.9M116.8 296.0h0.9M124.6 321.7h0.9M112.2 325.5h0.9M118.6 319.3h0.9M122.5 282.0h0.9M119.9 324.1h0.9M116.1 330.8h0.9M114.8 339.1h0.9M121.2 325.1h0.9M121.2 299.8h0.9M108.3 317.3h0.9M111.1 332.0h0.9M125.6 306.9h0.9M120.5 326.4h0.9M116.2 313.6h0.9M108.4 320.0h0.9M110.5 333.4h0.9M116.5 344.0h0.9M121.8 323.0h0.9M107.8 323.3h0.9M111.3 310.1h0.9M113.4 320.2h0.9M110.5 314.8h0.9M119.9 301.9h0.9M114.9 299.0h0.9M117.8 324.9h0.9M115.6 317.8h0.9M120.7 281.9h0.9M124.3 288.7h0.9M119.4 314.5h0.9M117.2 318.2h0.9M113.2 327.7h0.9M118.9 303.5h0.9M105.8 325.6h0.9M107.3 315.6h0.9M114.5 310.8h0.9M117.6 316.5h0.9M121.8 336.6h0.9M116.7 328.9h0.9M109.7 330.9h0.9M115.1 312.9h0.9M110.4 317.7h0.9M118.6 305.1h0.9M116.8 314.2h0.9M117.2 313.7h0.9M118.8 313.0h0.9M120.1 327.8h0.9M118.6 326.1h0.9M109.2 327.8h0.9M120.4 320.4h0.9M109.1 334.6h0.9M118.1 320.2h0.9M114.5 333.0h0.9M123.0 329.0h0.9M114.4 327.9h0.9M115.7 320.7h0.9M118.1 301.7h0.9M123.9 298.5h0.9M113.0 345.4h0.9M113.9 326.2h0.9M119.7 324.4h0.9M127.3 316.1h0.9M125.6 312.6h0.9M117.5 344.0h0.9M116.3 304.6h0.9M116.3 317.5h0.9M117.4 318.4h0.9M110.7 304.7h0.9M127.6 301.7h0.9M110.6 311.7h0.9M119.3 313.8h0.9M111.6 311.7h0.9M114.6 333.5h0.9M122.7 305.8h0.9M118.0 325.0h0.9M109.3 340.5h0.9M111.1 332.0h0.9M123.6 303.3h0.9M122.8 280.6h0.9M115.0 331.3h0.9M119.6 328.1h0.9M105.9 308.8h0.9M114.4 337.9h0.9M123.5 314.2h0.9M125.1 319.9h0.9M122.3 304.8h0.9M112.2 323.2h0.9M122.5 311.7h0.9M126.9 311.8h0.9M110.8 335.2h0.9M112.8 320.1h0.9M119.3 298.7h0.9M113.4 325.2h0.9M104.7 329.9h0.9M106.6 308.8h0.9M110.9 314.1h0.9M113.2 320.2h0.9M119.4 314.4h0.9M113.4 322.0h0.9M116.0 326.9h0.9M124.0 314.2h0.9M122.6 345.4h0.9M122.5 309.3h0.9M112.5 314.4h0.9M115.7 344.5h0.9M111.8 346.6h0.9M118.0 320.1h0.9M121.6 316.9h0.9M122.4 306.5h0.9M107.8 335.5h0.9M110.4 321.8h0.9M119.7 307.8h0.9M118.9 325.2h0.9M122.1 338.1h0.9M117.9 328.2h0.9M111.0 343.5h0.9M112.2 331.2h0.9M111.9 325.2h0.9M110.2 318.6h0.9M108.4 328.7h0.9M111.0 336.6h0.9M114.6 332.8h0.9M110.0 336.3h0.9M116.0 322.3h0.9M113.5 328.5h0.9M112.4 337.1h0.9M114.8 316.3h0.9M120.8 301.6h0.9M112.1 344.9h0.9M101.9 328.2h0.9M118.4 315.2h0.9M116.7 320.6h0.9M113.9 316.2h0.9M120.7 298.1h0.9M113.7 315.1h0.9M120.2 300.5h0.9M111.5 322.8h0.9M120.6 314.5h0.9M114.9 337.2h0.9M109.7 316.8h0.9M112.1 324.3h0.9M120.1 317.9h0.9M119.7 311.6h0.9M120.1 301.3h0.9M108.9 332.2h0.9M112.6 321.8h0.9M118.7 310.4h0.9M117.0 324.3h0.9M117.5 312.2h0.9M113.9 310.2h0.9M114.5 323.6h0.9M111.4 335.7h0.9M111.4 315.4h0.9M114.7 299.8h0.9M113.5 312.7h0.9M106.6 344.4h0.9M120.5 308.4h0.9M117.3 333.9h0.9M121.2 316.5h0.9M110.7 330.2h0.9M112.9 318.0h0.9M120.7 300.3h0.9M115.5 311.0h0.9M110.2 348.8h0.9M115.2 317.4h0.9M107.5 325.4h0.9M123.8 312.3h0.9M109.4 319.0h0.9M107.7 324.7h0.9M119.2 325.5h0.9M108.1 345.0h0.9M121.6 319.5h0.9M118.5 316.4h0.9M119.3 312.3h0.9M117.4 302.7h0.9M113.8 297.6h0.9M109.4 326.0h0.9M120.7 296.4h0.9M112.8 337.7h0.9M108.8 329.5h0.9M111.1 317.4h0.9M114.7 304.6h0.9M116.4 316.8h0.9M118.8 317.3h0.9M117.9 334.1h0.9M116.5 307.6h0.9M124.2 314.2h0.9M119.3 322.7h0.9M123.4 320.2h0.9M113.5 311.0h0.9M122.5 297.6h0.9M124.6 298.7h0.9M109.3 310.2h0.9M121.7 314.3h0.9M115.6 334.6h0.9M115.2 344.8h0.9M112.9 343.3h0.9M120.8 325.9h0.9M110.7 343.6h0.9M113.6 320.5h0.9M121.0 312.5h0.9M114.4 345.5h0.9M112.4 304.5h0.9M122.9 315.0h0.9M122.4 317.5h0.9M117.3 338.4h0.9M114.0 312.4h0.9M120.7 329.4h0.9M120.1 312.2h0.9M123.5 302.5h0.9M115.3 323.6h0.9M113.7 322.6h0.9M115.3 305.5h0.9M115.5 306.8h0.9M122.5 308.4h0.9M110.5 332.6h0.9M112.1 326.7h0.9M117.4 322.6h0.9M114.1 324.7h0.9M107.8 310.8h0.9M111.7 327.7h0.9M115.7 313.0h0.9M126.9 300.6h0.9M120.8 312.3h0.9M111.0 322.3h0.9M110.6 321.4h0.9M111.5 335.7h0.9M121.3 296.0h0.9M113.2 315.4h0.9M117.9 322.3h0.9M111.6 307.0h0.9M117.2 323.6h0.9M122.8 315.3h0.9M106.1 305.2h0.9M113.6 334.8h0.9M120.3 302.5h0.9M116.3 331.5h0.9M117.6 314.6h0.9M118.0 307.6h0.9M119.7 307.4h0.9M118.1 312.2h0.9M118.6 308.8h0.9M122.9 325.2h0.9M124.7 295.7h0.9M117.5 336.0h0.9M110.8 333.8h0.9M110.8 340.0h0.9M123.6 306.3h0.9M117.6 288.1h0.9M122.9 309.6h0.9M110.2 317.1h0.9M125.9 323.3h0.9M123.4 312.9h0.9M113.9 317.8h0.9M113.6 322.5h0.9M110.8 298.6h0.9M112.4 341.6h0.9M124.6 303.7h0.9M118.9 321.8h0.9M113.0 332.2h0.9M118.7 321.0h0.9M114.4 340.0h0.9M116.0 312.8h0.9M116.6 333.5h0.9M127.5 328.0h0.9M118.1 321.8h0.9M106.5 329.7h0.9M118.0 315.9h0.9M125.8 318.1h0.9M119.2 334.8h0.9M113.2 322.9h0.9M116.5 328.1h0.9M112.4 301.9h0.9M119.3 320.2h0.9M110.0 334.1h0.9M111.7 332.1h0.9M112.9 323.4h0.9M113.9 313.0h0.9M126.2 309.7h0.9M122.3 325.9h0.9M111.8 339.0h0.9M116.8 319.4h0.9M120.6 336.1h0.9M115.9 313.9h0.9M111.7 335.3h0.9M114.3 306.8h0.9M123.4 322.0h0.9M119.5 305.5h0.9M114.5 330.5h0.9M113.0 326.9h0.9M114.0 307.3h0.9M122.4 310.9h0.9M113.4 314.5h0.9M117.2 300.2h0.9M110.2 307.3h0.9M112.4 310.9h0.9M112.0 330.1h0.9M111.2 337.8h0.9M109.8 314.6h0.9M113.5 318.3h0.9M114.7 324.7h0.9M104.7 312.7h0.9M119.5 317.2h0.9M112.9 331.7h0.9M109.2 322.9h0.9M114.9 319.5h0.9M119.5 312.9h0.9M112.8 339.7h0.9M117.4 314.0h0.9M116.1 320.8h0.9M121.4 307.9h0.9M110.5 314.8h0.9M112.6 324.2h0.9M118.9 314.8h0.9M115.2 326.6h0.9M111.3 318.2h0.9M118.1 301.0h0.9M118.1 292.2h0.9M114.4 330.8h0.9M109.9 309.5h0.9M106.1 340.9h0.9M109.0 320.8h0.9M117.8 306.6h0.9M126.9 327.1h0.9M121.5 316.5h0.9M122.5 317.6h0.9M118.1 308.6h0.9M122.8 326.3h0.9M115.0 336.2h0.9M117.7 312.9h0.9M116.2 342.7h0.9M112.0 309.6h0.9M105.1 322.5h0.9M114.7 297.5h0.9M126.5 293.5h0.9M115.2 344.2h0.9M113.7 338.6h0.9M112.3 336.5h0.9M119.6 295.4h0.9M117.6 322.4h0.9M110.9 326.0h0.9M119.7 320.7h0.9M110.6 325.0h0.9M124.4 309.6h0.9M115.0 317.0h0.9M114.3 304.6h0.9M116.3 310.5h0.9M110.9 324.1h0.9M117.1 310.1h0.9M108.3 314.2h0.9M114.4 315.8h0.9M117.0 317.0h0.9M115.5 334.1h0.9M113.9 322.1h0.9M121.4 323.4h0.9M111.9 299.5h0.9M116.0 314.3h0.9M112.2 329.1h0.9M118.4 305.9h0.9M116.0 313.0h0.9M124.8 308.0h0.9M113.0 338.2h0.9M112.3 315.5h0.9M115.0 327.4h0.9M113.0 333.9h0.9M119.3 326.5h0.9M111.0 333.5h0.9M114.1 325.1h0.9M120.5 318.9h0.9M111.4 313.9h0.9M114.8 314.8h0.9M122.3 310.4h0.9M124.4 322.6h0.9M115.8 319.1h0.9M115.4 321.0h0.9M120.0 327.9h0.9M108.9 320.3h0.9M116.2 300.6h0.9M114.1 308.7h0.9M108.8 305.1h0.9M108.2 294.9h0.9M113.7 322.5h0.9M123.2 303.6h0.9M122.1 302.7h0.9M125.3 301.4h0.9M100.8 333.2h0.9M116.5 313.0h0.9M120.0 333.0h0.9M111.5 322.2h0.9M110.9 313.2h0.9M116.9 324.8h0.9M114.4 330.0h0.9M119.1 320.3h0.9M118.5 305.3h0.9M123.3 313.1h0.9M122.0 304.7h0.9M117.8 317.2h0.9M114.1 320.6h0.9M115.3 341.2h0.9M110.4 337.2h0.9M119.1 329.7h0.9M119.5 331.5h0.9M120.1 323.7h0.9M107.5 344.1h0.9M114.6 339.5h0.9M112.8 347.3h0.9M119.8 323.0h0.9M107.9 323.3h0.9M110.9 334.6h0.9M115.4 321.7h0.9M122.4 323.1h0.9M115.6 306.0h0.9M117.7 335.4h0.9M116.9 319.8h0.9M123.8 330.0h0.9M118.2 316.8h0.9M113.6 294.1h0.9M113.7 326.2h0.9M114.5 335.9h0.9M125.3 300.8h0.9M121.4 308.1h0.9M115.8 313.7h0.9M110.6 315.9h0.9M120.2 297.0h0.9M110.9 348.0h0.9M120.5 330.5h0.9M122.1 311.6h0.9M113.7 298.8h0.9M104.2 323.5h0.9M110.1 346.7h0.9M115.6 331.0h0.9M109.6 332.9h0.9M115.7 307.3h0.9M121.7 321.3h0.9M123.0 299.3h0.9M106.1 342.9h0.9M116.4 328.2h0.9M122.3 287.4h0.9M119.7 294.3h0.9M117.6 327.9h0.9M118.6 322.1h0.9M116.0 327.4h0.9M109.4 344.5h0.9M112.3 328.5h0.9M123.5 295.0h0.9M126.1 317.3h0.9M122.3 300.6h0.9M120.8 307.9h0.9M116.7 324.7h0.9M114.6 316.2h0.9M119.3 303.8h0.9M110.5 318.2h0.9M121.9 307.9h0.9M117.3 326.8h0.9M117.8 315.4h0.9M111.2 324.4h0.9M115.8 314.6h0.9M111.4 331.3h0.9M118.0 317.7h0.9M115.0 318.7h0.9M119.3 312.2h0.9M120.5 321.2h0.9M126.2 293.0h0.9M108.3 344.8h0.9M115.8 312.6h0.9M110.6 321.4h0.9M123.2 314.7h0.9M113.4 311.7h0.9M122.4 322.5h0.9M115.2 311.4h0.9M122.0 315.6h0.9M117.2 299.2h0.9M117.5 305.6h0.9M119.3 305.2h0.9M112.6 343.2h0.9M118.7 301.0h0.9M121.9 305.4h0.9M121.7 322.0h0.9M116.7 338.1h0.9M118.0 296.8h0.9M111.7 297.3h0.9M116.6 320.9h0.9M101.5 324.8h0.9M122.9 298.6h0.9M123.2 294.6h0.9M112.9 304.6h0.9M117.3 330.4h0.9M113.0 319.6h0.9M120.6 330.7h0.9M112.6 319.3h0.9M112.1 320.3h0.9M111.5 328.6h0.9M118.0 316.4h0.9M110.5 323.8h0.9M115.3 314.6h0.9M123.8 326.0h0.9M115.3 316.8h0.9M116.8 307.3h0.9M111.1 329.7h0.9M111.1 328.3h0.9M118.9 316.7h0.9M124.1 308.1h0.9M114.9 330.6h0.9M108.9 344.1h0.9M118.9 310.2h0.9M115.8 301.6h0.9M105.3 307.0h0.9M118.8 308.1h0.9M111.1 301.7h0.9M115.7 305.3h0.9M115.3 326.9h0.9M112.5 330.1h0.9M111.6 341.0h0.9M122.4 328.1h0.9M121.8 314.5h0.9M120.9 333.0h0.9M118.5 312.6h0.9M118.1 315.3h0.9M127.5 302.7h0.9M111.0 334.5h0.9M115.6 332.5h0.9M117.8 314.6h0.9M118.5 314.9h0.9M119.4 318.6h0.9M115.6 326.8h0.9M118.8 328.1h0.9M112.1 319.7h0.9M117.7 325.3h0.9M115.4 297.3h0.9M122.3 315.0h0.9M124.8 294.3h0.9M111.9 340.9h0.9M110.9 338.6h0.9M114.8 327.0h0.9M116.5 332.9h0.9M106.2 346.9h0.9M109.7 330.1h0.9M124.0 298.5h0.9M115.4 318.0h0.9M116.5 288.8h0.9M107.2 308.8h0.9M117.2 301.9h0.9M108.1 316.8h0.9M116.0 324.5h0.9M117.9 307.2h0.9M126.0 314.4h0.9M109.8 321.3h0.9M119.5 318.2h0.9M111.1 315.0h0.9M117.8 287.2h0.9M116.4 312.3h0.9M110.8 327.2h0.9M124.1 324.9h0.9M119.3 299.9h0.9M113.1 316.1h0.9M127.3 320.4h0.9M114.6 305.6h0.9M112.8 328.5h0.9M117.2 307.0h0.9M112.8 317.0h0.9M119.9 314.4h0.9M115.8 346.1h0.9M111.2 311.8h0.9M115.6 308.9h0.9M113.1 326.7h0.9M110.3 313.4h0.9M109.5 320.5h0.9M120.1 287.5h0.9M111.3 321.6h0.9M118.1 316.4h0.9M123.2 300.1h0.9M114.1 335.7h0.9M118.2 315.2h0.9M112.2 315.7h0.9M117.0 297.5h0.9M121.8 296.0h0.9M119.9 313.0h0.9M119.4 297.6h0.9M117.7 325.4h0.9M113.1 329.5h0.9M112.1 309.3h0.9M121.2 297.0h0.9M115.3 311.5h0.9M110.5 304.3h0.9M120.3 318.6h0.9M117.5 321.8h0.9M121.0 310.7h0.9M113.5 320.8h0.9M120.3 334.4h0.9M114.5 339.4h0.9M121.9 312.8h0.9M111.4 327.9h0.9M114.9 317.3h0.9M124.8 303.7h0.9M113.2 335.7h0.9M115.4 323.6h0.9M122.7 322.6h0.9M121.4 320.6h0.9M117.4 317.7h0.9M127.6 304.7h0.9M106.8 342.0h0.9M113.9 330.5h0.9M112.7 323.7h0.9M120.6 333.0h0.9M119.6 338.6h0.9M114.5 315.1h0.9M116.0 323.8h0.9M121.6 313.5h0.9M117.3 327.2h0.9M118.2 314.6h0.9M115.0 346.8h0.9M125.8 317.3h0.9M115.5 326.3h0.9M110.3 322.3h0.9M116.2 315.8h0.9M114.1 330.4h0.9M114.6 317.7h0.9M120.3 314.4h0.9M119.6 319.3h0.9M122.3 308.5h0.9M115.5 335.3h0.9M115.9 328.3h0.9M109.1 332.9h0.9M117.3 303.6h0.9M112.3 317.9h0.9M119.7 307.2h0.9M115.6 319.0h0.9M113.0 337.2h0.9M118.1 322.5h0.9M115.0 317.6h0.9M118.8 331.7h0.9M118.8 332.0h0.9M108.5 344.6h0.9M126.0 293.5h0.9M114.0 322.5h0.9M113.7 313.5h0.9M116.3 309.4h0.9M110.5 317.1h0.9M120.1 305.4h0.9M126.0 289.0h0.9M111.3 305.3h0.9M118.7 316.2h0.9M114.1 344.0h0.9M120.7 310.8h0.9M122.1 301.7h0.9M122.3 293.5h0.9M115.1 312.6h0.9M121.0 316.0h0.9M117.3 321.8h0.9M123.1 299.1h0.9M119.3 309.4h0.9M120.6 287.2h0.9M115.4 322.6h0.9M122.6 296.8h0.9M126.4 280.6h0.9M105.2 334.2h0.9M109.0 325.5h0.9M107.9 322.2h0.9M112.7 324.7h0.9M115.5 304.6h0.9M114.5 334.1h0.9M117.6 302.3h0.9M116.9 342.6h0.9M112.8 321.4h0.9M117.8 292.3h0.9M110.4 330.3h0.9M110.6 345.8h0.9M117.3 317.0h0.9M111.2 335.3h0.9M112.1 317.1h0.9M111.3 309.2h0.9M122.7 284.7h0.9M111.2 334.7h0.9M112.4 313.6h0.9M114.3 322.3h0.9M120.0 305.5h0.9M120.9 333.4h0.9M113.2 311.5h0.9M114.9 313.8h0.9M110.4 301.0h0.9M106.3 322.0h0.9M105.8 328.2h0.9M121.7 311.7h0.9M115.7 317.2h0.9M111.9 304.5h0.9M110.6 335.8h0.9M115.2 310.1h0.9M113.3 317.3h0.9M117.9 341.3h0.9M107.6 315.1h0.9M117.2 301.1h0.9M119.7 305.0h0.9M119.2 314.5h0.9M104.3 342.2h0.9M116.5 321.7h0.9M111.3 312.3h0.9M111.3 331.4h0.9M106.6 336.2h0.9M121.8 307.1h0.9M125.0 340.8h0.9M119.0 330.1h0.9M113.9 324.0h0.9M115.3 285.5h0.9M119.6 323.1h0.9M117.9 337.8h0.9M111.6 314.7h0.9M115.4 343.0h0.9M107.7 318.5h0.9M112.4 305.6h0.9M115.5 326.9h0.9M109.4 319.9h0.9M118.1 328.9h0.9M123.4 316.2h0.9M112.8 340.6h0.9M120.0 310.2h0.9M124.1 317.4h0.9M121.2 303.1h0.9M124.4 307.3h0.9M122.9 319.7h0.9M112.6 310.9h0.9M122.6 314.7h0.9M116.7 320.4h0.9M118.4 329.2h0.9M116.0 329.5h0.9M115.4 330.2h0.9M110.8 323.2h0.9M116.0 309.6h0.9M118.2 299.5h0.9M122.2 314.7h0.9M120.5 307.8h0.9M122.1 294.7h0.9M112.2 340.5h0.9M125.8 293.8h0.9M103.4 326.3h0.9M110.8 325.7h0.9M121.2 317.0h0.9M110.7 343.6h0.9M119.3 319.2h0.9M125.4 310.0h0.9M115.5 341.2h0.9M111.1 308.6h0.9M119.2 296.2h0.9M113.5 303.5h0.9M120.2 309.6h0.9M120.9 320.9h0.9M114.2 324.7h0.9M122.3 296.8h0.9M114.6 323.6h0.9M118.5 345.2h0.9M119.0 306.9h0.9M117.6 317.8h0.9M117.1 330.5h0.9M117.8 337.3h0.9M121.4 309.0h0.9M118.6 305.2h0.9M119.2 303.8h0.9M116.2 333.3h0.9M117.1 330.9h0.9M119.8 290.4h0.9M119.1 289.8h0.9M118.4 300.7h0.9M121.7 299.7h0.9M113.1 325.9h0.9M110.9 321.1h0.9M110.9 344.6h0.9M112.2 329.7h0.9M119.4 318.2h0.9M111.4 335.4h0.9M116.3 307.8h0.9M127.4 302.8h0.9M118.4 319.7h0.9M110.0 331.4h0.9M125.3 296.6h0.9M112.4 332.2h0.9M110.4 332.0h0.9M120.8 310.9h0.9M109.2 321.6h0.9M116.5 316.2h0.9M119.4 317.1h0.9M117.7 332.1h0.9M115.8 307.7h0.9M111.5 334.6h0.9M114.0 330.9h0.9M119.9 331.1h0.9M113.8 291.9h0.9M124.0 293.9h0.9M116.0 329.8h0.9M124.3 310.6h0.9M113.0 307.9h0.9M123.8 307.5h0.9M115.9 299.1h0.9M118.3 316.2h0.9M116.5 307.7h0.9M105.9 312.3h0.9M115.0 325.8h0.9M121.0 302.7h0.9M117.2 336.4h0.9M119.3 288.0h0.9M108.0 344.5h0.9M122.5 301.5h0.9M113.2 328.1h0.9M119.4 330.0h0.9M122.5 322.6h0.9M113.4 330.1h0.9M116.2 315.6h0.9M117.6 294.6h0.9M105.7 325.1h0.9M113.7 335.1h0.9M120.9 312.7h0.9M124.2 299.2h0.9M117.5 312.1h0.9M123.9 326.5h0.9M113.1 324.2h0.9M113.9 333.2h0.9M112.2 328.9h0.9M113.3 324.9h0.9M119.7 292.9h0.9M109.5 346.0h0.9M114.5 318.4h0.9M115.9 329.8h0.9M117.8 314.0h0.9M111.7 317.6h0.9M118.4 321.9h0.9M109.6 340.8h0.9M114.2 342.8h0.9M115.1 328.9h0.9M105.6 344.0h0.9M112.6 312.7h0.9M119.7 326.3h0.9M114.6 312.0h0.9M110.7 336.8h0.9M114.1 320.8h0.9M114.6 333.0h0.9M114.2 344.3h0.9M120.3 289.6h0.9M118.0 343.7h0.9M113.3 321.4h0.9M115.4 312.1h0.9M120.3 292.1h0.9M117.9 315.1h0.9M127.4 287.2h0.9M127.4 320.4h0.9M114.7 319.9h0.9M111.8 342.7h0.9M120.3 314.3h0.9M113.5 333.3h0.9M117.6 333.9h0.9M108.0 347.1h0.9M121.1 315.8h0.9M103.9 331.6h0.9M122.6 296.6h0.9M121.7 306.7h0.9M112.3 317.6h0.9M122.5 302.5h0.9M120.5 313.4h0.9M110.1 329.8h0.9M119.0 311.0h0.9M112.6 317.8h0.9M112.7 308.1h0.9M107.2 337.5h0.9M112.0 340.5h0.9M111.1 321.1h0.9M106.8 317.1h0.9M113.3 343.5h0.9M107.2 325.0h0.9M121.6 308.3h0.9M120.5 301.6h0.9M113.7 311.7h0.9M106.3 346.2h0.9M113.4 311.2h0.9M107.0 346.7h0.9M114.4 320.1h0.9M115.5 313.7h0.9M123.4 337.9h0.9M106.7 317.1h0.9M112.6 324.6h0.9M121.1 307.1h0.9M124.1 301.4h0.9M124.3 310.2h0.9M111.4 320.6h0.9M121.8 310.2h0.9M109.3 291.3h0.9M114.4 324.5h0.9M121.2 315.1h0.9M120.4 315.8h0.9M110.9 311.5h0.9M118.6 287.2h0.9M104.6 339.5h0.9M114.1 311.4h0.9M108.2 327.8h0.9M114.5 336.9h0.9M110.0 336.7h0.9M119.2 319.7h0.9M115.7 319.9h0.9M113.8 324.6h0.9M122.1 333.8h0.9M120.7 326.8h0.9M111.1 312.1h0.9M122.3 323.5h0.9M118.9 326.0h0.9M121.1 328.8h0.9M118.1 321.6h0.9M105.8 337.8h0.9M113.9 322.6h0.9M102.7 331.8h0.9M109.1 321.8h0.9M114.8 308.2h0.9M124.5 307.6h0.9M117.0 316.4h0.9M116.1 326.7h0.9M116.5 336.5h0.9M112.1 318.0h0.9M122.7 313.3h0.9M118.5 312.7h0.9M109.5 335.1h0.9M113.3 320.8h0.9M116.3 312.3h0.9M117.4 330.2h0.9M125.9 301.2h0.9M114.5 320.9h0.9M115.0 320.4h0.9M125.6 315.9h0.9M122.4 332.2h0.9M113.3 341.2h0.9M117.5 302.3h0.9M119.0 322.7h0.9M115.9 330.2h0.9M108.7 347.3h0.9M123.8 314.4h0.9M112.1 319.9h0.9M109.1 345.1h0.9M113.8 319.6h0.9M109.1 325.5h0.9M114.6 346.7h0.9M115.5 289.9h0.9M124.1 289.1h0.9M116.1 331.3h0.9M118.5 327.6h0.9M112.9 299.2h0.9M115.9 325.8h0.9M117.5 320.0h0.9M120.3 320.9h0.9M120.5 305.5h0.9M114.3 314.2h0.9M123.5 309.9h0.9M123.5 317.0h0.9M123.5 316.0h0.9M109.3 344.0h0.9M117.7 326.4h0.9M116.3 295.5h0.9M114.5 325.3h0.9M116.0 338.9h0.9M108.7 322.4h0.9M125.9 337.0h0.9M122.0 321.2h0.9M110.7 330.2h0.9M115.7 306.4h0.9M114.1 329.9h0.9M118.6 301.7h0.9M108.1 337.0h0.9M118.9 300.7h0.9M114.7 292.1h0.9M112.1 325.9h0.9M125.3 318.2h0.9M115.3 323.4h0.9M113.2 326.4h0.9M124.3 317.7h0.9M120.0 306.8h0.9M118.9 321.9h0.9M112.6 324.5h0.9M120.5 326.4h0.9M110.8 344.6h0.9M122.1 310.6h0.9M118.9 322.5h0.9M123.6 326.4h0.9M122.6 311.1h0.9M118.9 303.5h0.9M112.4 311.7h0.9M112.3 334.9h0.9M113.7 314.8h0.9M122.3 328.4h0.9M116.0 308.0h0.9M103.6 327.3h0.9M119.3 312.7h0.9M122.5 306.5h0.9M112.1 317.2h0.9M119.8 319.5h0.9M107.6 339.1h0.9M121.1 297.3h0.9M114.3 326.6h0.9M113.6 342.6h0.9M114.1 342.5h0.9M114.0 313.4h0.9M121.9 309.5h0.9M114.8 313.3h0.9M116.6 320.9h0.9M122.6 323.4h0.9M111.0 323.5h0.9M115.6 325.7h0.9M126.8 303.5h0.9M124.9 304.7h0.9M115.7 303.8h0.9M116.2 302.8h0.9M119.1 318.8h0.9M112.5 322.8h0.9M112.0 346.0h0.9M108.2 326.8h0.9M118.8 323.3h0.9M106.8 336.1h0.9M118.2 311.8h0.9M118.7 325.4h0.9M110.7 333.7h0.9M106.6 330.3h0.9M109.1 324.3h0.9M107.8 313.3h0.9M106.5 320.5h0.9M111.0 312.7h0.9M116.1 330.1h0.9M116.7 318.2h0.9M120.5 324.5h0.9M126.0 296.9h0.9M116.1 333.2h0.9M117.6 309.5h0.9M117.6 296.5h0.9M118.6 301.0h0.9M122.5 310.5h0.9M116.4 335.2h0.9M117.9 328.3h0.9M110.8 303.9h0.9M112.2 320.9h0.9M113.5 315.3h0.9M117.2 299.7h0.9M112.7 309.2h0.9M124.1 290.1h0.9M123.3 309.3h0.9M129.5 281.5h0.9M115.6 307.8h0.9M117.5 309.3h0.9M118.5 308.9h0.9M117.8 310.5h0.9M109.7 336.1h0.9M120.8 316.3h0.9M105.6 322.7h0.9M111.7 332.2h0.9M104.5 334.8h0.9M117.6 330.1h0.9M110.7 311.1h0.9M113.3 303.9h0.9M118.2 307.5h0.9M112.0 314.0h0.9M117.3 320.5h0.9M114.7 317.4h0.9M122.4 336.2h0.9M110.5 317.3h0.9M108.5 347.1h0.9M116.3 335.1h0.9M117.6 315.4h0.9M116.6 330.5h0.9M122.2 278.4h0.9M117.5 335.9h0.9M116.9 326.3h0.9M122.2 323.4h0.9M113.8 298.4h0.9M112.8 345.5h0.9M115.5 317.3h0.9M118.9 315.7h0.9M109.5 334.3h0.9M120.7 317.2h0.9M111.4 309.0h0.9M119.5 326.8h0.9M121.3 306.2h0.9M105.7 328.7h0.9M117.7 322.8h0.9M104.8 334.9h0.9M121.9 302.5h0.9M106.1 337.5h0.9M114.9 325.4h0.9M111.0 344.9h0.9M109.3 312.5h0.9M105.4 343.8h0.9M117.0 329.8h0.9M112.3 328.9h0.9M123.4 309.9h0.9M114.9 326.0h0.9M118.9 309.1h0.9M120.3 306.4h0.9M113.2 339.6h0.9M118.5 322.6h0.9M110.4 332.9h0.9M112.6 322.3h0.9M124.1 322.5h0.9M114.9 322.3h0.9M111.3 315.1h0.9M115.9 335.2h0.9M111.6 322.7h0.9M115.9 324.5h0.9M125.1 299.6h0.9M122.2 323.5h0.9M126.9 311.3h0.9M123.3 313.5h0.9M116.9 334.5h0.9M121.7 304.4h0.9M118.7 314.5h0.9M114.7 328.3h0.9M124.3 333.6h0.9M117.2 312.6h0.9M124.6 320.6h0.9M114.8 325.7h0.9M124.5 306.9h0.9M109.6 290.8h0.9M121.8 291.8h0.9M112.0 327.5h0.9M123.9 322.4h0.9M126.6 302.1h0.9M115.0 309.8h0.9M116.7 315.9h0.9M121.8 315.8h0.9M118.0 320.0h0.9M112.5 344.8h0.9M123.3 308.8h0.9M109.8 320.5h0.9M126.4 309.3h0.9M120.5 310.0h0.9M103.9 309.2h0.9M112.5 316.5h0.9M117.5 312.3h0.9M127.1 324.9h0.9M116.0 323.0h0.9M111.6 305.2h0.9M116.8 347.2h0.9M121.3 303.6h0.9M116.0 323.7h0.9M116.3 343.8h0.9M116.6 308.8h0.9M113.2 337.0h0.9M117.5 339.2h0.9M118.4 323.0h0.9M125.2 294.3h0.9M111.8 339.4h0.9M125.2 319.9h0.9M110.4 315.4h0.9M107.7 337.0h0.9M121.0 310.1h0.9M112.8 334.5h0.9M119.2 311.8h0.9M115.6 328.0h0.9M118.2 306.8h0.9M112.5 314.0h0.9M120.8 305.7h0.9M125.0 310.6h0.9M112.8 319.0h0.9M126.7 317.5h0.9M124.3 321.9h0.9M110.0 337.8h0.9M121.6 315.8h0.9M116.5 293.3h0.9M117.2 314.1h0.9M111.4 319.9h0.9M111.8 334.5h0.9M105.8 333.5h0.9M114.1 331.8h0.9M111.9 318.2h0.9M110.9 328.5h0.9M111.6 296.7h0.9M114.2 335.8h0.9M125.3 326.2h0.9M113.8 327.2h0.9M117.0 314.7h0.9M111.0 320.7h0.9M116.3 309.0h0.9M111.3 327.2h0.9M112.9 299.5h0.9M110.6 331.7h0.9M113.3 325.7h0.9M113.7 344.0h0.9M115.4 318.5h0.9M118.6 317.9h0.9M123.1 321.0h0.9M121.1 321.6h0.9M115.1 317.4h0.9M110.4 306.6h0.9M118.3 305.8h0.9M118.9 309.9h0.9M122.3 316.8h0.9M120.6 301.1h0.9M115.8 316.1h0.9M118.6 328.2h0.9M113.2 313.6h0.9M110.3 328.2h0.9M113.4 330.9h0.9M115.7 331.7h0.9M121.5 311.8h0.9M102.0 313.6h0.9M125.8 294.5h0.9M125.9 310.1h0.9M122.4 326.3h0.9M123.6 304.1h0.9M112.8 339.2h0.9M115.9 337.8h0.9M123.9 315.2h0.9M110.2 330.4h0.9M123.1 300.2h0.9M122.0 303.3h0.9M117.0 314.0h0.9M125.6 320.4h0.9M113.4 318.7h0.9M114.3 304.9h0.9M112.3 344.0h0.9M113.1 322.0h0.9M122.5 325.2h0.9M107.0 327.6h0.9M109.6 322.9h0.9M118.9 315.5h0.9M122.1 309.6h0.9M115.1 297.0h0.9M118.7 338.4h0.9M109.1 307.8h0.9M124.9 297.7h0.9M113.8 310.3h0.9M118.5 295.9h0.9M118.3 347.4h0.9M115.3 325.9h0.9M111.0 336.2h0.9M113.6 342.8h0.9M124.3 329.8h0.9M115.9 325.8h0.9M114.4 310.0h0.9M118.2 316.3h0.9M111.9 310.9h0.9M113.0 320.3h0.9M115.3 310.7h0.9M116.6 335.7h0.9M112.4 329.9h0.9M119.5 316.6h0.9M125.5 297.0h0.9M122.7 329.9h0.9M106.3 331.7h0.9M116.2 320.2h0.9M113.8 303.2h0.9M118.7 325.9h0.9M115.0 335.6h0.9M121.3 291.2h0.9M112.6 327.2h0.9M117.0 291.8h0.9M107.9 320.5h0.9M116.2 342.8h0.9M115.2 321.9h0.9M115.7 325.4h0.9M119.1 314.1h0.9M120.6 319.2h0.9M119.0 344.9h0.9M112.5 338.6h0.9M120.8 313.8h0.9M109.7 312.0h0.9M115.0 317.3h0.9M109.3 346.8h0.9M113.3 320.4h0.9M119.3 334.1h0.9M118.2 312.8h0.9M119.6 303.2h0.9M113.9 336.8h0.9M115.3 320.2h0.9M117.5 307.6h0.9M114.9 310.3h0.9M115.3 311.3h0.9M115.6 312.5h0.9M119.6 296.5h0.9M105.5 335.4h0.9M116.0 324.6h0.9M114.5 330.1h0.9M119.3 315.8h0.9M110.1 324.8h0.9M111.4 322.5h0.9M117.7 333.5h0.9M111.0 330.9h0.9M118.0 325.0h0.9M114.5 312.0h0.9M113.7 302.2h0.9M111.0 309.5h0.9M114.5 313.6h0.9M115.6 311.4h0.9M113.7 301.8h0.9M118.2 341.8h0.9M116.4 320.9h0.9M117.6 291.2h0.9M126.0 306.9h0.9M123.8 299.7h0.9M112.3 322.4h0.9M109.0 335.9h0.9M117.8 306.7h0.9M118.6 328.3h0.9M110.3 315.2h0.9M119.1 335.0h0.9M111.7 338.2h0.9M119.8 324.7h0.9M114.2 329.4h0.9M118.7 320.8h0.9M121.1 311.6h0.9M125.3 304.7h0.9M112.4 323.1h0.9M126.1 318.5h0.9M111.3 313.6h0.9M118.1 319.4h0.9M120.4 316.7h0.9M119.0 306.2h0.9M122.4 311.0h0.9M106.6 335.4h0.9M116.6 318.1h0.9M117.2 340.2h0.9M119.4 303.1h0.9M114.5 301.1h0.9M117.2 320.6h0.9M115.8 329.9h0.9M113.2 310.5h0.9M121.4 329.8h0.9M111.7 333.1h0.9M109.0 336.3h0.9M117.0 320.2h0.9M113.8 316.9h0.9M119.5 297.3h0.9M117.8 319.1h0.9M114.3 320.9h0.9M116.0 337.2h0.9M121.1 301.3h0.9M124.2 310.4h0.9M114.0 305.9h0.9M114.9 331.5h0.9M123.4 284.8h0.9M120.7 303.6h0.9M104.6 345.4h0.9M109.9 328.3h0.9M121.6 298.9h0.9M119.7 317.9h0.9M114.0 336.0h0.9M116.1 327.9h0.9M123.2 316.3h0.9M116.6 309.6h0.9M111.2 329.4h0.9M124.0 319.5h0.9M117.5 331.8h0.9M115.3 322.5h0.9M114.4 312.0h0.9M120.0 338.5h0.9M116.5 312.2h0.9M111.8 324.6h0.9M124.3 311.2h0.9M109.7 317.8h0.9M116.4 316.6h0.9M121.0 311.9h0.9M114.4 324.2h0.9M111.5 336.5h0.9M113.7 345.2h0.9M108.3 338.5h0.9M115.8 318.1h0.9M116.3 338.8h0.9M110.3 324.9h0.9M117.1 346.5h0.9M118.6 302.0h0.9M113.2 337.4h0.9M115.7 311.5h0.9M116.4 335.7h0.9M115.5 312.4h0.9M115.6 332.0h0.9M123.2 317.1h0.9M126.4 293.1h0.9M111.5 306.0h0.9M124.0 315.1h0.9M114.1 320.3h0.9M123.0 288.8h0.9M120.1 301.8h0.9M119.8 309.3h0.9M113.7 319.3h0.9M119.4 320.0h0.9M123.9 306.3h0.9M117.4 299.3h0.9M116.2 321.6h0.9M120.9 317.8h0.9M120.1 329.4h0.9M119.8 310.4h0.9M116.6 327.5h0.9M120.8 308.9h0.9M114.2 324.3h0.9M117.9 321.5h0.9M114.2 326.0h0.9M116.8 308.7h0.9M105.8 315.2h0.9M109.7 308.3h0.9M118.5 319.4h0.9M119.1 326.4h0.9M113.7 345.6h0.9M116.7 321.7h0.9M113.2 331.0h0.9M119.2 320.8h0.9M111.7 337.6h0.9M115.4 326.5h0.9M120.8 335.3h0.9M109.2 322.7h0.9M110.2 344.0h0.9M112.5 337.1h0.9M111.6 298.9h0.9M110.6 320.2h0.9M122.1 317.9h0.9M123.5 290.7h0.9M117.8 308.0h0.9M124.8 308.9h0.9M113.5 308.9h0.9M125.8 320.8h0.9M120.1 296.9h0.9M112.3 326.8h0.9M120.2 329.3h0.9M118.0 325.9h0.9M118.1 316.2h0.9M116.2 318.2h0.9M108.8 312.8h0.9M104.9 332.9h0.9M115.0 328.4h0.9M115.6 344.5h0.9M113.1 316.4h0.9M113.3 340.4h0.9M110.4 310.4h0.9M109.6 317.0h0.9M118.5 306.3h0.9M118.6 327.3h0.9M119.9 321.0h0.9M120.7 329.6h0.9M109.7 340.2h0.9M115.6 319.8h0.9M119.6 323.7h0.9M109.6 330.9h0.9M114.9 319.6h0.9M117.6 312.6h0.9M115.8 322.8h0.9M119.6 326.3h0.9M116.9 329.0h0.9M112.5 330.0h0.9M106.2 312.4h0.9M119.6 324.2h0.9M118.1 335.3h0.9M119.9 314.1h0.9M117.3 324.6h0.9M120.0 311.4h0.9M122.4 319.7h0.9M110.5 343.1h0.9M115.8 321.4h0.9M114.0 305.3h0.9M114.7 323.4h0.9M112.0 322.1h0.9M109.9 335.9h0.9M109.9 303.7h0.9M118.0 307.3h0.9M121.2 320.7h0.9M106.4 298.7h0.9M119.9 332.8h0.9M120.9 292.3h0.9M114.6 310.2h0.9M120.8 301.6h0.9M116.9 309.4h0.9M113.6 333.7h0.9M122.1 326.7h0.9M115.2 331.1h0.9M116.9 327.0h0.9M119.5 294.2h0.9M114.7 324.3h0.9M116.4 295.9h0.9M117.4 309.6h0.9M113.4 314.2h0.9M123.2 312.1h0.9M113.9 327.3h0.9M121.9 308.0h0.9M116.9 344.8h0.9M120.1 326.7h0.9M110.9 333.6h0.9M123.2 327.5h0.9M104.9 333.5h0.9M123.2 320.1h0.9M103.1 344.0h0.9M114.0 307.0h0.9M114.9 325.6h0.9M112.8 319.5h0.9M106.8 314.5h0.9M108.3 323.1h0.9M119.2 309.6h0.9M106.0 331.7h0.9M117.7 329.4h0.9M121.5 322.4h0.9M120.9 331.7h0.9M120.1 304.4h0.9M120.1 295.7h0.9M116.0 309.6h0.9M116.5 343.8h0.9M120.0 316.3h0.9M115.4 333.8h0.9M119.7 330.7h0.9M104.8 346.7h0.9M120.4 320.1h0.9M112.1 327.8h0.9M105.3 317.5h0.9M123.7 307.9h0.9M114.8 306.4h0.9M120.3 308.7h0.9M110.1 337.8h0.9M113.5 324.5h0.9M124.6 317.7h0.9M117.7 321.2h0.9M119.2 313.9h0.9M108.7 318.7h0.9M121.0 318.0h0.9M111.7 327.8h0.9M116.6 331.0h0.9M116.0 294.7h0.9M117.2 325.2h0.9M115.3 338.8h0.9M110.9 309.2h0.9M118.6 315.5h0.9M111.4 322.8h0.9M119.4 334.9h0.9M116.8 327.6h0.9M116.8 318.1h0.9M117.8 333.6h0.9M113.5 325.2h0.9M115.7 341.6h0.9M116.9 324.3h0.9M125.5 304.4h0.9M112.8 311.5h0.9M126.1 318.7h0.9M114.1 318.0h0.9M112.9 329.0h0.9M111.9 324.2h0.9M110.8 345.3h0.9M123.9 330.4h0.9M114.0 337.7h0.9M112.6 310.3h0.9M116.3 315.6h0.9M115.9 329.1h0.9M120.7 321.5h0.9M113.1 329.6h0.9M116.3 325.3h0.9M111.5 345.2h0.9M114.1 335.6h0.9M113.9 301.8h0.9M122.8 309.4h0.9M113.7 321.4h0.9M123.8 329.3h0.9M122.4 318.9h0.9M123.5 299.5h0.9M111.7 332.5h0.9M115.2 316.7h0.9M112.1 334.6h0.9M116.2 322.9h0.9M112.4 333.0h0.9M111.7 331.2h0.9M115.0 330.4h0.9M117.6 311.6h0.9M112.1 334.3h0.9M120.4 322.4h0.9M123.7 305.8h0.9M114.6 313.9h0.9M127.5 316.3h0.9M116.7 328.6h0.9M120.8 328.8h0.9M107.6 330.0h0.9M118.9 319.0h0.9M122.8 307.9h0.9M120.5 329.6h0.9M122.1 308.7h0.9M124.3 301.2h0.9M107.2 329.9h0.9M109.4 333.4h0.9M120.7 310.6h0.9M104.3 335.3h0.9M111.6 332.3h0.9M116.3 314.5h0.9M113.4 345.0h0.9M121.0 318.4h0.9M116.6 325.3h0.9M118.5 287.7h0.9M110.0 329.3h0.9M119.7 311.7h0.9M118.0 326.8h0.9M121.9 297.0h0.9M114.6 333.7h0.9M113.3 339.9h0.9M106.9 345.9h0.9M122.9 280.7h0.9M118.8 327.5h0.9M109.5 327.2h0.9M124.9 278.2h0.9M121.4 310.2h0.9M113.0 337.6h0.9M117.3 307.0h0.9M109.7 323.7h0.9M110.9 320.2h0.9M107.4 325.1h0.9M108.7 312.3h0.9M117.7 331.6h0.9M114.0 333.5h0.9M120.7 302.6h0.9M106.3 336.8h0.9M107.9 310.6h0.9M107.9 317.7h0.9M120.6 337.6h0.9M122.2 318.0h0.9M108.1 329.2h0.9M115.1 330.1h0.9M115.6 328.9h0.9M112.6 313.1h0.9M115.5 305.8h0.9M119.7 328.0h0.9M118.0 331.0h0.9M120.0 324.7h0.9M118.2 318.6h0.9M115.0 331.1h0.9M118.3 322.9h0.9M118.8 301.4h0.9M123.5 326.9h0.9M116.5 325.9h0.9M117.1 331.4h0.9M117.7 309.8h0.9M115.1 308.2h0.9M115.6 323.3h0.9M115.6 314.8h0.9M112.2 321.0h0.9M117.7 334.8h0.9M125.2 326.3h0.9M112.9 346.3h0.9M115.4 322.5h0.9M109.8 342.7h0.9M106.9 336.7h0.9M114.4 344.4h0.9M119.2 320.2h0.9M113.0 316.7h0.9M113.7 337.7h0.9M113.7 311.2h0.9M124.3 314.7h0.9M116.0 325.9h0.9M117.6 326.0h0.9M127.5 301.9h0.9M104.8 323.4h0.9M118.9 317.2h0.9M118.0 318.6h0.9M114.6 322.3h0.9M116.4 321.1h0.9M119.8 333.1h0.9M112.1 326.4h0.9M113.9 316.1h0.9M124.4 323.5h0.9M118.7 334.3h0.9M117.2 329.4h0.9M117.2 335.9h0.9M116.9 320.5h0.9M114.4 323.6h0.9M111.4 346.3h0.9M118.0 320.2h0.9M110.5 344.6h0.9M106.5 334.0h0.9M116.4 316.0h0.9M121.3 299.8h0.9M114.8 326.5h0.9M121.7 309.3h0.9M119.4 311.7h0.9M125.0 295.5h0.9M114.5 335.2h0.9M115.3 322.3h0.9M119.4 319.9h0.9M120.2 324.3h0.9M113.5 325.5h0.9M111.9 322.9h0.9M121.6 328.9h0.9M114.2 318.5h0.9M123.3 288.3h0.9M112.5 330.7h0.9M116.6 326.3h0.9M123.6 318.7h0.9M119.2 341.8h0.9M113.6 301.3h0.9M117.4 283.6h0.9M99.5 341.8h0.9M118.0 328.6h0.9M126.9 300.4h0.9M118.3 317.1h0.9M113.4 329.9h0.9M123.1 304.8h0.9M110.6 327.8h0.9M114.5 345.1h0.9M118.9 338.1h0.9M122.5 321.0h0.9M119.2 325.1h0.9M116.6 305.2h0.9M115.2 318.8h0.9M112.9 315.4h0.9M125.4 302.4h0.9M111.7 347.0h0.9M116.0 321.1h0.9M120.2 305.3h0.9M114.0 315.8h0.9M114.7 342.2h0.9M114.1 344.9h0.9M120.2 311.2h0.9M116.3 323.1h0.9M102.7 332.2h0.9M115.9 318.4h0.9M112.0 306.1h0.9M110.3 307.8h0.9M127.2 322.0h0.9M115.8 310.0h0.9M118.4 303.2h0.9M115.4 317.6h0.9M110.4 332.6h0.9M122.8 329.6h0.9M107.7 318.3h0.9M113.8 345.4h0.9M114.9 312.4h0.9M122.5 321.1h0.9M123.4 302.4h0.9M115.5 328.1h0.9M109.6 317.0h0.9M123.8 297.5h0.9M123.1 309.2h0.9M114.8 343.0h0.9M113.3 329.9h0.9M119.1 322.4h0.9M110.8 331.5h0.9M121.1 299.2h0.9M120.0 309.6h0.9M118.4 302.0h0.9M113.5 308.4h0.9M116.1 315.4h0.9M110.7 328.2h0.9M108.8 332.7h0.9M119.4 330.9h0.9M111.8 343.7h0.9M114.7 314.8h0.9M114.2 318.2h0.9M117.0 328.9h0.9M116.7 308.8h0.9M113.4 317.0h0.9M116.9 325.1h0.9M118.8 309.7h0.9M110.8 327.1h0.9M108.8 337.6h0.9M125.7 303.0h0.9M120.1 291.1h0.9M122.4 319.4h0.9M121.7 306.2h0.9M115.4 323.7h0.9M116.2 314.4h0.9M123.5 325.4h0.9M110.8 336.0h0.9M112.5 331.7h0.9M113.2 314.7h0.9M117.9 306.4h0.9M118.0 288.9h0.9M121.8 290.7h0.9M112.1 308.6h0.9M118.6 322.1h0.9M119.7 310.4h0.9M118.7 312.7h0.9M117.0 300.2h0.9M125.7 299.2h0.9M114.1 329.3h0.9M117.8 292.3h0.9M118.1 328.1h0.9M117.2 308.9h0.9M115.4 330.1h0.9M119.1 322.8h0.9M108.2 328.9h0.9M116.5 337.9h0.9M113.0 309.3h0.9M112.3 307.9h0.9M115.2 315.5h0.9M125.6 308.1h0.9M111.9 328.1h0.9M119.1 317.4h0.9M111.7 320.5h0.9M118.4 326.2h0.9M119.2 312.6h0.9M119.0 335.2h0.9M121.8 292.4h0.9M115.8 323.2h0.9M106.0 326.8h0.9M119.7 309.3h0.9M122.2 308.2h0.9M115.3 331.5h0.9M118.3 313.7h0.9M122.8 295.8h0.9M123.6 301.0h0.9M110.0 332.7h0.9M118.1 307.5h0.9M115.1 337.8h0.9M114.3 337.9h0.9M112.0 317.5h0.9M105.6 325.4h0.9M119.6 309.9h0.9M121.0 313.3h0.9M126.1 311.1h0.9M117.1 327.6h0.9M115.0 303.7h0.9M118.9 317.5h0.9M116.1 318.0h0.9M112.2 324.7h0.9M115.4 290.5h0.9M112.2 297.3h0.9M115.1 306.9h0.9M114.9 316.4h0.9M116.1 323.0h0.9M116.2 321.1h0.9M112.8 345.5h0.9M124.3 328.5h0.9M114.9 326.3h0.9M124.2 313.1h0.9M110.6 331.3h0.9M111.0 330.0h0.9M112.4 327.8h0.9M107.1 321.9h0.9M123.1 328.1h0.9M114.0 339.3h0.9M122.0 307.5h0.9M116.6 331.4h0.9M123.5 325.0h0.9M105.3 315.9h0.9M124.1 311.3h0.9M113.1 344.8h0.9M114.8 312.9h0.9M124.7 301.0h0.9M117.9 311.4h0.9M111.5 327.7h0.9M108.4 310.2h0.9M126.1 314.0h0.9M102.9 322.8h0.9M117.6 314.6h0.9M123.7 322.6h0.9M119.5 319.9h0.9M115.7 305.7h0.9M114.8 320.9h0.9M116.4 301.9h0.9M115.2 333.5h0.9M118.3 305.9h0.9M110.8 314.7h0.9M114.3 294.3h0.9M123.3 312.1h0.9M113.1 303.0h0.9M108.1 340.2h0.9M111.1 326.0h0.9M114.7 294.9h0.9M114.6 302.1h0.9M120.9 315.2h0.9M116.1 299.9h0.9M112.7 337.2h0.9M106.0 312.6h0.9M113.1 320.5h0.9M115.7 324.1h0.9M116.9 317.5h0.9M121.7 330.5h0.9M120.6 308.9h0.9M101.4 322.5h0.9M105.9 337.0h0.9M111.6 321.0h0.9M114.6 320.6h0.9M117.3 314.9h0.9M119.7 317.2h0.9M106.4 327.8h0.9M105.9 314.9h0.9M123.5 297.4h0.9M111.0 320.8h0.9M105.4 313.9h0.9M110.2 326.4h0.9M114.6 316.0h0.9M107.9 339.5h0.9M113.5 302.0h0.9M123.6 305.3h0.9M109.2 327.7h0.9M119.8 306.7h0.9M116.8 322.2h0.9M114.6 318.0h0.9M107.8 328.6h0.9M124.2 338.3h0.9M110.9 322.3h0.9M118.2 300.1h0.9M116.1 328.8h0.9M124.2 304.5h0.9M119.8 318.7h0.9M113.2 326.6h0.9M115.8 311.5h0.9M125.6 295.1h0.9M124.3 316.8h0.9M113.7 318.4h0.9M124.3 307.4h0.9M121.1 307.1h0.9M115.4 331.9h0.9M110.6 319.9h0.9M111.1 312.5h0.9M119.9 310.4h0.9M102.0 321.2h0.9M113.9 318.5h0.9M118.9 316.2h0.9M111.4 301.7h0.9M124.9 316.4h0.9M125.8 311.9h0.9M110.5 321.7h0.9M113.5 332.7h0.9M114.3 326.9h0.9M111.8 329.4h0.9M113.6 320.7h0.9M119.5 314.6h0.9M123.5 325.7h0.9M118.0 311.3h0.9M117.9 313.1h0.9M119.1 306.8h0.9M112.6 320.5h0.9M119.4 319.3h0.9M110.8 340.7h0.9M109.8 328.6h0.9M120.5 314.0h0.9M105.2 329.7h0.9M115.1 311.6h0.9M111.7 334.9h0.9M113.8 329.8h0.9M106.0 346.9h0.9M114.3 303.3h0.9M115.6 319.0h0.9M119.6 317.6h0.9M115.2 322.5h0.9M113.9 327.1h0.9M114.5 305.1h0.9M118.4 307.8h0.9M101.9 322.0h0.9M117.3 331.6h0.9M123.5 305.1h0.9M120.1 296.4h0.9M109.6 332.4h0.9M121.3 329.1h0.9M111.1 330.8h0.9M125.3 305.8h0.9M115.5 315.9h0.9M112.1 321.6h0.9M114.2 325.3h0.9M113.0 318.7h0.9M115.5 319.4h0.9M116.4 332.5h0.9M115.9 314.1h0.9M115.5 310.7h0.9M117.5 312.0h0.9M119.3 313.2h0.9M116.0 321.4h0.9M119.0 319.3h0.9M120.3 312.9h0.9M114.7 336.0h0.9M119.2 323.3h0.9M117.3 313.9h0.9M118.9 334.1h0.9M119.3 313.7h0.9M120.1 321.7h0.9M115.5 318.2h0.9M110.8 310.5h0.9M115.0 314.3h0.9M116.4 319.9h0.9M121.6 298.3h0.9M116.9 315.1h0.9M123.0 322.7h0.9M109.1 324.3h0.9M107.1 322.0h0.9M111.3 345.0h0.9M111.6 327.4h0.9M117.3 314.6h0.9M119.3 320.9h0.9M109.2 322.9h0.9M111.8 314.6h0.9M113.2 336.2h0.9M111.5 305.3h0.9M111.4 326.4h0.9M121.6 325.5h0.9M118.6 304.5h0.9M114.9 327.1h0.9M120.6 326.2h0.9M109.4 310.5h0.9M112.3 345.7h0.9M114.4 329.2h0.9M118.5 314.3h0.9M112.6 312.1h0.9M116.0 308.8h0.9M115.3 322.7h0.9M120.0 319.2h0.9M116.2 300.2h0.9M122.0 303.4h0.9M107.0 312.5h0.9M119.7 312.0h0.9M120.6 316.7h0.9M113.2 311.5h0.9M113.3 328.6h0.9M114.2 331.5h0.9M117.5 320.6h0.9M126.0 291.1h0.9M117.5 317.8h0.9M113.9 327.3h0.9M115.2 320.1h0.9M117.4 321.0h0.9M119.9 320.9h0.9M120.4 302.1h0.9M119.5 288.5h0.9M113.6 325.4h0.9M113.6 312.7h0.9M111.2 324.7h0.9M114.6 315.4h0.9M114.5 313.5h0.9M116.5 337.7h0.9M113.7 301.2h0.9M116.2 322.0h0.9M113.0 305.9h0.9M120.1 319.7h0.9M116.7 326.0h0.9M121.1 327.5h0.9M118.9 320.1h0.9M114.7 301.1h0.9M116.0 322.6h0.9M111.6 329.2h0.9M111.6 332.7h0.9M108.1 346.7h0.9M113.4 327.7h0.9M118.8 307.6h0.9M118.2 314.2h0.9M113.0 334.3h0.9M119.3 304.4h0.9M113.9 331.3h0.9M113.4 329.4h0.9M116.3 310.6h0.9M115.4 326.2h0.9M117.5 307.1h0.9M119.4 322.0h0.9M118.8 316.8h0.9M111.2 324.6h0.9M118.8 305.1h0.9M116.7 326.0h0.9M120.2 290.2h0.9M116.4 312.4h0.9M116.8 313.8h0.9M115.2 340.6h0.9M116.0 326.3h0.9M115.1 311.1h0.9M118.2 306.8h0.9M122.4 318.5h0.9M113.2 310.5h0.9M114.9 340.9h0.9M121.5 283.7h0.9M124.3 286.7h0.9M114.4 332.3h0.9M117.6 309.1h0.9M107.1 338.1h0.9M115.0 312.6h0.9M123.4 331.6h0.9M117.8 320.9h0.9M112.5 334.5h0.9M116.3 319.2h0.9M123.0 281.0h0.9M113.6 308.3h0.9M120.1 300.1h0.9M117.0 329.5h0.9M107.9 327.1h0.9M115.4 318.3h0.9M102.6 323.1h0.9M107.9 321.4h0.9M121.9 310.1h0.9M116.7 343.3h0.9M124.8 321.8h0.9M110.4 317.6h0.9M119.0 301.3h0.9M116.0 311.7h0.9M121.5 318.7h0.9M118.7 314.5h0.9M117.9 312.5h0.9M119.5 317.9h0.9M116.8 304.4h0.9M121.2 318.3h0.9M118.4 298.4h0.9M123.3 309.1h0.9M119.2 307.6h0.9M115.6 330.1h0.9M109.6 327.1h0.9M109.1 318.8h0.9M111.8 302.8h0.9M119.7 313.5h0.9M104.5 328.7h0.9M119.6 335.4h0.9M117.8 302.1h0.9M111.0 313.3h0.9M117.7 321.2h0.9M109.9 322.6h0.9M116.7 318.4h0.9M113.6 328.0h0.9M125.1 299.5h0.9M116.3 340.7h0.9M123.4 303.7h0.9M114.1 319.5h0.9M121.5 324.2h0.9M113.6 333.3h0.9M115.2 329.2h0.9M116.7 329.5h0.9M115.2 332.8h0.9M110.4 317.1h0.9M117.4 331.2h0.9M107.1 336.1h0.9M119.8 311.9h0.9M119.2 300.9h0.9M118.7 307.5h0.9M109.0 335.8h0.9M117.5 338.0h0.9M116.7 312.9h0.9M119.9 322.1h0.9M111.5 327.5h0.9M111.1 330.7h0.9M121.4 291.5h0.9M122.5 311.8h0.9M110.9 314.6h0.9M113.2 321.8h0.9M114.0 318.8h0.9M116.1 312.9h0.9M113.2 324.9h0.9M125.7 287.9h0.9M114.7 343.1h0.9M114.7 329.6h0.9M118.5 329.9h0.9M122.4 312.3h0.9M112.7 323.3h0.9M109.0 347.5h0.9M114.9 342.6h0.9M126.5 319.0h0.9M108.2 303.1h0.9M113.2 320.4h0.9M120.2 318.7h0.9M110.6 330.4h0.9M123.3 302.0h0.9M117.8 316.9h0.9M109.4 324.9h0.9M115.4 311.8h0.9M116.2 330.3h0.9M114.3 306.5h0.9M121.6 304.2h0.9M118.7 314.0h0.9M113.1 329.8h0.9M118.6 317.0h0.9M116.6 307.5h0.9M115.3 331.5h0.9M111.2 321.9h0.9M124.1 313.4h0.9M114.8 320.8h0.9M121.6 320.7h0.9M125.4 326.2h0.9M123.3 322.7h0.9M118.7 305.0h0.9M118.1 313.1h0.9M116.9 315.0h0.9M117.4 321.7h0.9M112.1 321.1h0.9M109.5 308.6h0.9M118.1 318.3h0.9M115.6 325.0h0.9M121.0 332.4h0.9M124.4 323.0h0.9M107.6 342.3h0.9M111.4 322.2h0.9M118.6 327.9h0.9M122.4 316.9h0.9M119.2 306.0h0.9M116.5 320.1h0.9M106.1 327.9h0.9M126.8 322.1h0.9M112.4 323.0h0.9M119.9 314.4h0.9M120.0 307.3h0.9M113.0 314.1h0.9M119.1 326.9h0.9M121.1 331.4h0.9M123.1 278.4h0.9M116.1 324.8h0.9M116.7 335.0h0.9M117.6 337.1h0.9M119.6 324.6h0.9M110.5 329.0h0.9M113.7 308.6h0.9M114.1 317.3h0.9M102.3 326.3h0.9M112.5 305.2h0.9M117.3 308.1h0.9M112.7 322.1h0.9M115.6 300.9h0.9M120.6 318.9h0.9M121.4 298.1h0.9M119.8 321.9h0.9M115.7 318.5h0.9M115.7 311.2h0.9M114.0 309.1h0.9M118.7 312.6h0.9M114.2 290.2h0.9M113.5 311.8h0.9M119.0 319.9h0.9M117.2 336.3h0.9M117.0 313.4h0.9M111.2 317.0h0.9M115.7 336.9h0.9M109.8 341.8h0.9M116.7 313.5h0.9M109.7 332.3h0.9M122.4 330.7h0.9M121.9 328.8h0.9M114.2 308.1h0.9M112.9 306.8h0.9M114.5 328.8h0.9M114.5 343.1h0.9M122.4 318.8h0.9M112.6 339.8h0.9M107.5 345.1h0.9M120.6 302.5h0.9M118.9 311.7h0.9M106.5 339.6h0.9M112.7 333.4h0.9M113.6 327.1h0.9M111.6 319.7h0.9M116.2 326.5h0.9M122.3 313.6h0.9M115.4 345.4h0.9M114.8 303.9h0.9M117.9 295.4h0.9M119.6 319.3h0.9M112.0 336.8h0.9M116.2 310.5h0.9M126.9 318.8h0.9M106.4 305.8h0.9M113.3 318.6h0.9M114.9 304.1h0.9M118.4 305.6h0.9M127.4 299.1h0.9M116.6 313.6h0.9M111.6 341.1h0.9M117.6 316.2h0.9M114.1 323.6h0.9M113.2 345.6h0.9M114.9 308.3h0.9M113.8 328.2h0.9M118.4 304.9h0.9M106.1 320.4h0.9M116.4 334.4h0.9M118.7 303.9h0.9M108.2 312.0h0.9M112.0 338.8h0.9M119.0 308.0h0.9M113.8 309.3h0.9M120.9 322.7h0.9M114.0 316.3h0.9M110.9 309.0h0.9M115.9 340.6h0.9M117.1 311.1h0.9M116.2 323.8h0.9M109.6 313.5h0.9M110.8 312.8h0.9M114.5 302.9h0.9M113.7 330.3h0.9M116.8 312.8h0.9M119.6 335.1h0.9M126.5 302.0h0.9M118.4 311.1h0.9M115.3 322.7h0.9M125.0 321.3h0.9M117.8 312.4h0.9M121.5 317.5h0.9M117.3 300.6h0.9M115.4 321.9h0.9M121.3 284.3h0.9M113.1 319.0h0.9M115.4 334.0h0.9M110.4 331.1h0.9M113.6 332.4h0.9M119.3 313.1h0.9M125.5 324.6h0.9M108.2 313.5h0.9M117.1 316.7h0.9M119.8 317.1h0.9M122.0 279.3h0.9M118.6 330.1h0.9M117.6 326.5h0.9M117.1 328.7h0.9M116.3 307.9h0.9M113.7 328.7h0.9M114.3 324.9h0.9M117.5 289.7h0.9M121.1 295.8h0.9M110.8 322.4h0.9M113.6 309.3h0.9M109.5 320.7h0.9M122.8 312.4h0.9M110.9 338.1h0.9M116.4 296.9h0.9M123.6 297.9h0.9M116.4 306.9h0.9M120.8 301.6h0.9M116.8 311.7h0.9M117.9 320.0h0.9M120.3 301.2h0.9M105.3 323.6h0.9M119.4 338.0h0.9M118.5 333.2h0.9M107.2 343.5h0.9M117.6 334.8h0.9M115.3 318.7h0.9M113.0 341.5h0.9M120.8 329.2h0.9M116.0 342.4h0.9M121.7 315.2h0.9M124.0 303.8h0.9M113.1 321.6h0.9M109.3 324.6h0.9M120.3 319.2h0.9M106.1 333.3h0.9M117.2 304.5h0.9M116.1 310.5h0.9M111.5 328.4h0.9M122.4 321.4h0.9M117.9 319.0h0.9M112.2 338.4h0.9M118.2 331.8h0.9M115.9 310.5h0.9M121.7 321.1h0.9M115.3 321.5h0.9M114.4 325.9h0.9M125.4 294.7h0.9M105.3 338.6h0.9M107.6 345.4h0.9M110.4 325.5h0.9M106.5 332.6h0.9M113.1 337.9h0.9M118.6 314.3h0.9M114.1 331.6h0.9M115.4 324.1h0.9M123.6 300.3h0.9M123.2 308.8h0.9M123.1 313.9h0.9M113.2 333.7h0.9M116.2 320.4h0.9M120.7 333.4h0.9M119.3 313.2h0.9M125.3 302.1h0.9M110.4 344.4h0.9M111.5 346.5h0.9M112.0 326.7h0.9M116.3 318.8h0.9M115.9 332.5h0.9M116.3 306.7h0.9M126.4 315.1h0.9M112.9 300.3h0.9M119.2 326.6h0.9M110.9 320.7h0.9M118.9 312.4h0.9M114.2 309.9h0.9M119.5 302.3h0.9M118.2 310.3h0.9M110.4 334.1h0.9M111.2 315.1h0.9M110.4 336.0h0.9M118.2 308.7h0.9M120.5 317.3h0.9M124.6 315.7h0.9M108.8 315.5h0.9M116.5 330.7h0.9M119.3 290.3h0.9M114.6 329.7h0.9M116.2 328.7h0.9M119.7 321.5h0.9M118.7 316.6h0.9M116.5 317.4h0.9M122.0 329.7h0.9M117.5 319.8h0.9M117.8 310.4h0.9M120.8 324.6h0.9M108.7 333.2h0.9M110.8 325.5h0.9M122.8 321.9h0.9M114.8 322.8h0.9M108.6 314.9h0.9M120.9 314.4h0.9M125.6 294.0h0.9M113.3 315.5h0.9M107.8 334.0h0.9M116.7 315.3h0.9M120.1 306.7h0.9M111.5 331.2h0.9M111.2 323.8h0.9M118.9 318.7h0.9M118.0 324.2h0.9M107.0 329.6h0.9M110.8 320.2h0.9M116.8 306.9h0.9M110.3 340.5h0.9M117.1 320.5h0.9M120.0 311.6h0.9M124.6 321.9h0.9M115.8 331.4h0.9M123.2 302.7h0.9M106.8 336.4h0.9M113.4 317.0h0.9M115.8 343.4h0.9M107.6 329.9h0.9M122.7 318.5h0.9M115.7 336.3h0.9M113.9 336.5h0.9M116.3 315.6h0.9M110.0 323.8h0.9M111.8 315.4h0.9M112.0 329.8h0.9M117.4 301.2h0.9M122.5 316.5h0.9M116.4 294.5h0.9M112.0 326.7h0.9M114.7 288.3h0.9M119.3 305.8h0.9M115.8 321.8h0.9M122.3 313.8h0.9M126.4 313.1h0.9M121.2 305.1h0.9M113.7 310.6h0.9M120.5 299.8h0.9M116.9 323.5h0.9M114.4 328.5h0.9M109.2 330.3h0.9M117.6 321.0h0.9M108.8 332.6h0.9M114.9 324.8h0.9M112.6 332.3h0.9M103.3 323.3h0.9M118.9 320.6h0.9M120.8 284.6h0.9M111.9 327.6h0.9M120.7 318.7h0.9M107.4 345.1h0.9M120.8 293.0h0.9M115.6 329.8h0.9M116.1 304.1h0.9M115.3 322.7h0.9M114.2 307.5h0.9M112.8 323.5h0.9M119.3 319.5h0.9M110.0 331.6h0.9M113.1 321.9h0.9M112.0 324.6h0.9M116.0 333.4h0.9M113.3 325.9h0.9M112.6 316.6h0.9M115.0 334.6h0.9M106.9 318.1h0.9M106.2 325.1h0.9M117.9 317.3h0.9M126.5 310.8h0.9M121.5 278.3h0.9M116.1 329.3h0.9M112.0 306.1h0.9M115.6 326.5h0.9M112.8 343.6h0.9M121.6 302.9h0.9M110.9 330.0h0.9M125.5 318.5h0.9M110.6 325.9h0.9M125.7 305.1h0.9M110.7 321.6h0.9M119.6 321.5h0.9M118.5 337.9h0.9M118.7 348.7h0.9M115.2 322.0h0.9M109.3 314.4h0.9M114.9 344.6h0.9M112.9 319.3h0.9M110.9 320.5h0.9M113.5 318.9h0.9M110.6 327.4h0.9M118.6 326.9h0.9M117.7 316.1h0.9M119.9 317.2h0.9M114.9 345.4h0.9M111.3 339.8h0.9M118.4 326.4h0.9M121.5 322.0h0.9M125.5 316.8h0.9M114.7 332.8h0.9M116.1 313.1h0.9M111.3 322.4h0.9M115.5 313.1h0.9M117.7 311.1h0.9M117.7 318.1h0.9M109.9 319.5h0.9M115.7 311.5h0.9M115.2 320.1h0.9M113.1 321.5h0.9M114.5 312.5h0.9M119.2 311.9h0.9M111.6 319.9h0.9M117.0 328.3h0.9M109.3 332.1h0.9M116.2 325.7h0.9M111.4 317.0h0.9M121.7 320.3h0.9M114.0 347.9h0.9M120.6 330.2h0.9M114.2 307.9h0.9M110.6 316.1h0.9M111.0 313.6h0.9M115.8 315.6h0.9M124.7 296.9h0.9M119.7 318.7h0.9M122.3 302.0h0.9M111.7 311.8h0.9M116.8 341.5h0.9M117.4 332.1h0.9M115.6 308.3h0.9M106.4 306.1h0.9M114.8 305.6h0.9M119.9 294.7h0.9M126.2 305.0h0.9M117.8 316.4h0.9M118.8 302.9h0.9M122.4 327.7h0.9M123.6 319.4h0.9M119.7 309.7h0.9M115.1 339.8h0.9M120.4 330.3h0.9M113.0 318.6h0.9M113.6 343.4h0.9M111.5 337.0h0.9M113.4 309.0h0.9M118.3 321.3h0.9M122.0 316.3h0.9M114.7 344.9h0.9M117.7 337.8h0.9M118.1 303.9h0.9M108.3 324.0h0.9M117.4 296.5h0.9M115.9 331.9h0.9M113.7 318.1h0.9M126.2 315.0h0.9M118.8 335.4h0.9M115.2 320.5h0.9M125.2 315.5h0.9M117.0 332.9h0.9M124.9 314.8h0.9M113.3 331.9h0.9M119.7 321.7h0.9M112.9 333.0h0.9M115.5 324.8h0.9M119.6 332.5h0.9M112.2 346.1h0.9M118.1 317.6h0.9M109.1 343.0h0.9M116.8 310.6h0.9M119.0 317.6h0.9M110.7 317.3h0.9M112.0 333.8h0.9M112.0 313.3h0.9M116.1 326.4h0.9M123.4 301.0h0.9M118.8 314.7h0.9M114.6 322.0h0.9M111.7 318.3h0.9M113.4 296.9h0.9M115.1 327.4h0.9M125.4 308.9h0.9M111.0 345.0h0.9M116.6 316.2h0.9M110.3 345.5h0.9M109.3 329.0h0.9M120.5 324.9h0.9M120.6 314.2h0.9M109.7 316.9h0.9M109.3 326.0h0.9M126.3 293.5h0.9M109.5 335.8h0.9M118.4 306.3h0.9M111.9 316.7h0.9M123.8 282.2h0.9M111.8 323.8h0.9M111.6 330.4h0.9M110.4 323.2h0.9M124.6 324.4h0.9M117.4 319.4h0.9M116.5 335.6h0.9M120.0 313.8h0.9M115.6 324.2h0.9M114.5 328.0h0.9M114.9 317.8h0.9M119.6 322.1h0.9M109.8 323.4h0.9M113.0 315.7h0.9M114.3 345.6h0.9M110.5 314.2h0.9M118.7 341.1h0.9M112.4 335.5h0.9M121.9 291.0h0.9M122.4 321.3h0.9M113.8 333.1h0.9M115.5 328.1h0.9M115.2 309.4h0.9M118.4 322.1h0.9M122.1 304.8h0.9M114.5 305.7h0.9M120.0 316.2h0.9M120.5 322.2h0.9M115.1 337.7h0.9M112.2 322.7h0.9M118.3 332.8h0.9M124.8 307.3h0.9M116.4 305.8h0.9M108.4 314.4h0.9M110.1 341.0h0.9M119.1 303.5h0.9M125.3 300.8h0.9M122.0 319.8h0.9M116.0 339.2h0.9M117.5 296.3h0.9M120.8 314.7h0.9M119.4 301.5h0.9M109.2 337.2h0.9M106.2 328.8h0.9M120.4 324.0h0.9M108.6 319.0h0.9M122.8 316.7h0.9M126.7 322.1h0.9M117.7 312.3h0.9M114.4 307.1h0.9M115.9 304.1h0.9M112.7 321.6h0.9M120.0 308.7h0.9M119.3 329.8h0.9M117.9 292.5h0.9M113.5 326.5h0.9M112.0 326.8h0.9M118.6 335.5h0.9M121.4 317.3h0.9M115.6 301.3h0.9M117.1 306.2h0.9M114.8 332.6h0.9M108.0 318.0h0.9M114.8 313.2h0.9M118.7 309.6h0.9M110.2 315.9h0.9M117.9 316.6h0.9M120.2 298.2h0.9M115.4 309.0h0.9M119.0 331.4h0.9M109.5 337.0h0.9M118.4 319.5h0.9M116.2 313.2h0.9M117.9 337.4h0.9M113.3 315.3h0.9M121.8 303.8h0.9M119.4 318.9h0.9M120.2 328.9h0.9M118.9 341.6h0.9M110.1 313.3h0.9M114.6 327.7h0.9M111.7 315.9h0.9M118.2 333.7h0.9M122.0 325.0h0.9M114.2 323.5h0.9M119.5 307.9h0.9M123.6 313.8h0.9M118.3 313.7h0.9M122.8 278.7h0.9M106.8 329.6h0.9M112.8 320.4h0.9M121.5 317.4h0.9M109.8 316.6h0.9M117.5 320.8h0.9M117.1 321.0h0.9M118.9 303.8h0.9M120.0 320.2h0.9M112.7 319.9h0.9M122.9 320.0h0.9M117.7 300.0h0.9M121.3 319.3h0.9M115.8 306.9h0.9M116.7 324.8h0.9M111.6 339.0h0.9M122.4 330.7h0.9M112.0 315.6h0.9M114.6 311.7h0.9M124.7 311.5h0.9M119.1 326.1h0.9M117.5 311.5h0.9M116.2 313.2h0.9M117.3 285.4h0.9M116.5 310.9h0.9M119.8 309.0h0.9M123.5 311.5h0.9M117.7 335.4h0.9M125.8 302.7h0.9M120.9 303.2h0.9M111.2 329.6h0.9M117.1 305.0h0.9M124.2 316.7h0.9M116.1 324.1h0.9M122.5 323.1h0.9M110.6 308.4h0.9M112.0 331.4h0.9M110.2 336.9h0.9M120.0 305.1h0.9M113.4 314.6h0.9M108.0 331.7h0.9M116.7 315.0h0.9M107.3 307.8h0.9M114.4 313.8h0.9M116.6 330.1h0.9M112.8 307.8h0.9M115.6 322.4h0.9M111.5 322.7h0.9M116.1 311.0h0.9M115.7 330.2h0.9M117.1 328.4h0.9M116.0 333.4h0.9M110.8 331.5h0.9M126.6 299.6h0.9M115.8 332.0h0.9M112.6 323.2h0.9M120.7 330.5h0.9M116.5 307.5h0.9M123.7 331.0h0.9M119.3 326.6h0.9M117.8 308.0h0.9M111.3 337.2h0.9M113.9 309.9h0.9M114.6 307.2h0.9M113.7 327.0h0.9M124.5 310.1h0.9M116.6 323.5h0.9M116.5 316.5h0.9M117.7 323.7h0.9M113.5 327.4h0.9M110.2 319.7h0.9M107.7 328.5h0.9M121.2 331.8h0.9M116.7 309.8h0.9M122.8 327.4h0.9M124.2 328.4h0.9M117.4 321.6h0.9M117.6 333.3h0.9M111.1 342.7h0.9M113.6 332.5h0.9M119.9 301.1h0.9M115.7 323.7h0.9M124.4 315.7h0.9M116.8 314.3h0.9M120.3 322.6h0.9M117.5 317.0h0.9M115.1 341.4h0.9M124.8 323.1h0.9M108.6 321.1h0.9M120.4 329.9h0.9M111.6 330.1h0.9M114.9 333.8h0.9M113.5 327.0h0.9M114.2 319.2h0.9M109.7 319.6h0.9M109.8 293.8h0.9M118.3 332.4h0.9M115.7 316.8h0.9M105.7 341.8h0.9M114.6 344.8h0.9M126.7 303.4h0.9M117.4 326.5h0.9M106.1 344.3h0.9M115.7 308.7h0.9M117.1 323.5h0.9M116.9 314.8h0.9M122.4 316.9h0.9M112.5 314.4h0.9M113.2 319.9h0.9M102.6 328.7h0.9M123.5 310.7h0.9M119.1 322.4h0.9M115.7 311.0h0.9M106.3 326.6h0.9M120.0 323.8h0.9M111.2 308.5h0.9M109.3 324.1h0.9M108.5 309.4h0.9M111.1 309.2h0.9M109.5 334.6h0.9M115.7 295.3h0.9M120.5 327.1h0.9M118.1 329.9h0.9M118.3 310.2h0.9M111.4 333.2h0.9M114.4 329.4h0.9M112.7 303.3h0.9M117.3 325.2h0.9M110.8 324.7h0.9M115.2 311.0h0.9M116.7 327.2h0.9M110.1 330.1h0.9M111.0 310.0h0.9M125.0 294.2h0.9M106.7 325.0h0.9M111.8 308.3h0.9M114.8 297.5h0.9M113.6 314.1h0.9M121.1 288.1h0.9M100.8 315.6h0.9M111.0 338.5h0.9M128.1 280.7h0.9M120.9 327.4h0.9M122.3 310.3h0.9M116.9 313.7h0.9M119.1 309.4h0.9M112.0 328.6h0.9M108.1 318.5h0.9M120.0 308.2h0.9M124.5 302.1h0.9M118.8 313.4h0.9M113.7 334.3h0.9M123.3 303.5h0.9M117.2 323.4h0.9M120.9 325.4h0.9M119.2 291.7h0.9M105.7 332.5h0.9M118.6 320.5h0.9M115.0 346.2h0.9M109.0 344.7h0.9M118.0 316.6h0.9M120.4 316.7h0.9M104.5 308.2h0.9M118.4 329.9h0.9M116.0 315.1h0.9M111.2 315.0h0.9M109.3 313.9h0.9M113.1 329.1h0.9M119.6 321.0h0.9M113.8 314.8h0.9M114.2 322.0h0.9M113.7 348.8h0.9M116.9 291.9h0.9M118.8 302.7h0.9M113.7 328.8h0.9M118.5 320.9h0.9M117.7 334.2h0.9M112.2 338.9h0.9M117.8 340.8h0.9M116.0 306.9h0.9M113.2 325.8h0.9M117.4 315.5h0.9M113.3 329.5h0.9M119.6 323.4h0.9M99.8 332.9h0.9M108.9 309.8h0.9M104.9 321.3h0.9M124.9 310.6h0.9M120.9 317.0h0.9M113.9 312.7h0.9M120.4 307.0h0.9M105.2 336.0h0.9M114.0 323.7h0.9M121.3 331.0h0.9M122.0 305.2h0.9M115.1 311.6h0.9M122.1 319.9h0.9M115.6 326.8h0.9M115.4 333.5h0.9M114.7 335.6h0.9M116.4 337.7h0.9M121.5 328.4h0.9M116.1 322.7h0.9M119.8 310.5h0.9M114.4 328.0h0.9M118.8 313.6h0.9M113.7 310.9h0.9M120.3 325.9h0.9M119.3 323.1h0.9M115.7 332.7h0.9M118.0 309.2h0.9M110.3 337.2h0.9M110.7 324.4h0.9M110.7 319.2h0.9M113.8 311.1h0.9M123.3 305.9h0.9M121.5 301.3h0.9M107.2 337.3h0.9M114.8 301.2h0.9M121.7 328.4h0.9M125.0 318.6h0.9M122.0 312.0h0.9M112.7 321.0h0.9M116.4 332.2h0.9M111.8 327.9h0.9M127.3 322.2h0.9M121.6 301.7h0.9M122.2 296.8h0.9M113.4 345.6h0.9M115.3 306.2h0.9M120.0 297.3h0.9M103.6 332.5h0.9M117.8 299.6h0.9M109.4 331.3h0.9M118.0 333.6h0.9M122.3 325.5h0.9M115.4 333.9h0.9M114.9 300.4h0.9M114.2 301.4h0.9M120.9 316.4h0.9M115.3 319.3h0.9M115.6 317.5h0.9M109.8 327.3h0.9M119.7 308.8h0.9M122.0 292.4h0.9M119.6 326.3h0.9M112.8 314.1h0.9M114.7 329.9h0.9M106.7 347.0h0.9M117.4 322.1h0.9M115.3 327.6h0.9M117.0 306.2h0.9M119.2 330.7h0.9M109.4 324.4h0.9M123.7 324.9h0.9M116.5 332.6h0.9M122.1 304.6h0.9M116.7 327.5h0.9M111.8 327.0h0.9M111.1 338.2h0.9M125.2 294.3h0.9M116.8 318.6h0.9M113.1 346.9h0.9M115.5 315.9h0.9M122.1 312.8h0.9M115.1 343.4h0.9M107.7 344.0h0.9M126.5 320.7h0.9M116.2 368.0h0.9M112.7 363.1h0.9M113.6 358.9h0.9M111.9 345.6h0.9M112.9 363.0h0.9M113.6 373.2h0.9M113.6 353.5h0.9M114.6 356.3h0.9M114.2 369.6h0.9M114.8 350.6h0.9M112.6 364.1h0.9M113.7 365.2h0.9M112.2 370.8h0.9M113.3 374.0h0.9M110.0 372.4h0.9M113.4 351.4h0.9M113.6 370.3h0.9M112.9 364.6h0.9M113.0 358.6h0.9M111.3 346.9h0.9M112.7 364.4h0.9M112.7 359.1h0.9M113.8 367.8h0.9M114.1 364.3h0.9M112.9 349.9h0.9M113.3 368.0h0.9M114.0 349.8h0.9M112.4 349.7h0.9M114.8 366.9h0.9M116.2 374.6h0.9M114.0 368.4h0.9M112.9 375.6h0.9M113.8 350.1h0.9M115.0 348.4h0.9M115.2 360.7h0.9M111.8 353.8h0.9M113.9 354.3h0.9M112.6 351.4h0.9M112.9 354.9h0.9M113.9 369.1h0.9M114.2 358.4h0.9M113.2 361.4h0.9M112.4 350.4h0.9M113.3 365.7h0.9M112.2 367.6h0.9M114.4 285.4h0.9M119.9 279.6h0.9M120.8 294.1h0.9M122.0 297.1h0.9M116.0 290.5h0.9M121.7 271.4h0.9M113.1 274.8h0.9M115.5 291.2h0.9M126.8 297.1h0.9M122.5 285.2h0.9M117.0 281.6h0.9M120.9 291.3h0.9M122.2 293.0h0.9M116.3 287.9h0.9M119.1 296.3h0.9M128.9 265.2h0.9M123.4 295.2h0.9M121.7 272.6h0.9M119.2 294.8h0.9M123.4 284.6h0.9M117.5 297.2h0.9M123.7 285.5h0.9M120.4 265.8h0.9M120.5 289.2h0.9M120.6 287.2h0.9M117.3 292.2h0.9M128.5 284.5h0.9M114.6 290.1h0.9M123.0 278.3h0.9M115.8 297.2h0.9M126.3 297.0h0.9M120.8 296.0h0.9M122.8 293.8h0.9M124.2 297.0h0.9M123.6 286.4h0.9M123.7 295.5h0.9M123.6 281.7h0.9M119.7 286.0h0.9M120.5 292.5h0.9M120.7 276.7h0.9M118.4 292.6h0.9M119.3 289.7h0.9M128.3 282.7h0.9M115.0 294.1h0.9M130.0 273.3h0.9M119.4 293.2h0.9M124.9 292.3h0.9M121.9 277.9h0.9M121.0 287.8h0.9M124.6 294.3h0.9M121.3 280.5h0.9M121.7 274.0h0.9M119.3 291.8h0.9M127.5 282.3h0.9M127.3 281.3h0.9M122.1 295.6h0.9M112.8 295.5h0.9M124.2 286.2h0.9M113.3 292.6h0.9M118.9 283.8h0.9M126.6 296.6h0.9M119.1 270.5h0.9M118.6 272.3h0.9M111.7 272.9h0.9M125.3 292.9h0.9M123.9 290.0h0.9M119.6 291.6h0.9M123.6 286.4h0.9M114.1 288.3h0.9M117.4 296.6h0.9M122.8 289.6h0.9M126.1 286.4h0.9M121.7 288.6h0.9M116.0 281.7h0.9M119.5 283.9h0.9M127.2 285.5h0.9M119.0 291.9h0.9M123.1 294.3h0.9M124.0 281.1h0.9M119.2 287.5h0.9M122.0 281.9h0.9M113.3 293.7h0.9M119.1 287.1h0.9M122.0 291.9h0.9M124.9 296.7h0.9M119.6 278.3h0.9M124.1 297.3h0.9M121.3 284.2h0.9M118.1 288.9h0.9M118.1 289.6h0.9M121.6 297.1h0.9M121.9 285.3h0.9M118.3 278.7h0.9M121.7 296.2h0.9M125.0 281.1h0.9M120.6 295.1h0.9M135.2 268.4h0.9M111.2 281.8h0.9M120.2 289.6h0.9M122.8 293.6h0.9M127.6 269.9h0.9M121.6 294.6h0.9M117.1 295.2h0.9M125.0 295.0h0.9M120.6 283.3h0.9M120.6 294.6h0.9M120.6 280.9h0.9M122.6 287.3h0.9M113.6 295.5h0.9M122.5 292.3h0.9M118.9 294.0h0.9M124.2 295.7h0.9M123.4 263.9h0.9M116.8 294.5h0.9M125.5 295.4h0.9M117.5 284.8h0.9M116.8 283.7h0.9M118.5 280.6h0.9M123.5 295.3h0.9M117.5 289.0h0.9M118.1 269.3h0.9M124.3 296.2h0.9M121.6 290.1h0.9M121.6 287.4h0.9M121.2 293.7h0.9M120.3 291.1h0.9M130.2 282.6h0.9M126.5 292.4h0.9M120.2 282.5h0.9M130.8 274.4h0.9M124.1 297.1h0.9M123.3 271.5h0.9M119.5 264.6h0.9M122.4 294.3h0.9M122.9 296.1h0.9M128.0 276.6h0.9M117.3 278.0h0.9M114.0 293.8h0.9M119.4 284.1h0.9M123.6 295.6h0.9M112.2 286.4h0.9M120.8 267.0h0.9M117.9 280.4h0.9M116.4 261.0h0.9M122.4 295.1h0.9M127.3 292.3h0.9M115.3 292.6h0.9M122.9 291.3h0.9M121.0 296.0h0.9M124.9 296.7h0.9M121.8 283.4h0.9M118.8 291.3h0.9M126.0 260.1h0.9M123.8 282.5h0.9M116.9 296.1h0.9M112.2 296.2h0.9M118.4 267.9h0.9M122.7 292.0h0.9M125.4 291.2h0.9M119.0 289.1h0.9M119.9 294.2h0.9M113.1 272.0h0.9M119.6 290.1h0.9M122.3 275.5h0.9M118.9 282.6h0.9M121.2 291.5h0.9M117.1 294.4h0.9M117.4 291.6h0.9M123.0 284.9h0.9M114.3 283.5h0.9M121.8 293.2h0.9M127.4 266.4h0.9M119.0 286.3h0.9M119.4 296.6h0.9M117.7 295.8h0.9M115.5 275.1h0.9M118.9 289.8h0.9M115.6 279.4h0.9"/>
<path stroke="#f29a12" stroke-opacity="0.85" stroke-width="0.9" fill="none" d="M131.0 308.7h0.9M132.8 304.4h0.9M132.4 296.9h0.9M132.5 311.9h0.9M130.9 324.4h0.9M131.0 321.7h0.9M131.0 307.8h0.9M133.3 311.1h0.9M130.6 297.9h0.9M132.7 308.2h0.9M131.5 319.8h0.9M130.8 321.1h0.9M131.3 328.7h0.9M133.7 291.8h0.9M128.8 331.4h0.9M131.4 316.2h0.9M128.4 331.2h0.9M136.9 311.3h0.9M131.6 327.1h0.9M130.3 310.9h0.9M128.8 297.6h0.9M134.2 315.3h0.9M128.6 304.7h0.9M128.4 310.7h0.9M136.7 317.9h0.9M131.5 321.2h0.9M128.3 319.6h0.9M131.2 323.6h0.9M129.0 291.2h0.9M136.0 326.1h0.9M129.7 300.5h0.9M128.4 312.4h0.9M129.2 305.9h0.9M141.0 296.3h0.9M128.1 322.6h0.9M130.6 298.1h0.9M128.2 304.0h0.9M133.5 330.0h0.9M139.1 282.2h0.9M136.5 289.5h0.9M129.9 323.5h0.9M133.8 305.9h0.9M130.4 321.3h0.9M135.7 311.0h0.9M131.9 305.0h0.9M130.6 320.2h0.9M133.1 302.1h0.9M128.3 304.1h0.9M129.5 314.2h0.9M131.3 297.1h0.9M130.1 292.7h0.9M131.3 289.9h0.9M134.5 323.2h0.9M131.3 336.0h0.9M129.8 326.5h0.9M130.4 303.0h0.9M131.0 304.5h0.9M130.8 298.4h0.9M133.2 311.2h0.9M135.5 324.6h0.9M130.5 310.3h0.9M137.6 311.0h0.9M139.9 315.2h0.9M137.1 295.8h0.9M138.6 308.0h0.9M138.0 315.9h0.9M133.4 312.8h0.9M130.7 320.9h0.9M137.0 331.1h0.9M132.2 291.3h0.9M131.6 332.7h0.9M128.8 317.7h0.9M131.2 302.1h0.9M136.6 308.0h0.9M128.2 311.6h0.9M131.7 325.1h0.9M130.7 307.3h0.9M128.4 311.4h0.9M129.5 294.2h0.9M130.0 330.5h0.9M131.6 317.4h0.9M134.2 305.5h0.9M129.6 294.2h0.9M129.8 311.3h0.9M129.6 323.0h0.9M129.8 341.5h0.9M136.2 336.5h0.9M133.3 306.8h0.9M134.0 306.3h0.9M135.9 299.0h0.9M131.3 317.7h0.9M131.9 301.9h0.9M133.5 319.2h0.9M129.4 316.0h0.9M136.1 317.2h0.9M131.2 299.1h0.9M130.4 326.8h0.9M130.8 309.2h0.9M134.7 296.1h0.9M132.1 311.4h0.9M130.9 314.2h0.9M132.6 312.7h0.9M133.9 324.2h0.9M132.6 327.5h0.9M131.7 310.7h0.9M133.4 327.7h0.9M130.6 336.4h0.9M134.8 311.7h0.9M129.2 328.5h0.9M131.9 308.9h0.9M129.8 319.1h0.9M128.4 320.2h0.9M128.8 304.1h0.9M130.3 304.6h0.9M131.1 319.3h0.9M132.5 310.0h0.9M133.3 309.1h0.9M137.1 328.0h0.9M129.7 316.6h0.9M128.9 315.1h0.9M130.3 287.4h0.9M132.8 314.1h0.9M128.8 308.3h0.9M133.1 324.9h0.9M128.5 305.6h0.9M128.3 296.1h0.9M128.8 309.1h0.9M129.6 336.2h0.9M130.4 300.7h0.9M128.0 328.8h0.9M131.5 309.9h0.9M135.5 285.6h0.9M130.1 320.2h0.9M131.0 318.0h0.9M136.3 298.2h0.9M138.4 309.2h0.9M131.0 300.6h0.9M129.6 319.3h0.9M139.9 322.9h0.9M131.1 318.0h0.9M136.4 298.7h0.9M134.9 304.1h0.9M129.5 311.2h0.9M131.4 334.6h0.9M130.1 305.2h0.9M129.5 302.2h0.9M130.1 324.6h0.9M129.9 303.8h0.9M137.9 298.5h0.9M129.7 310.3h0.9M128.2 322.9h0.9M130.7 314.0h0.9M130.9 307.2h0.9M134.5 330.9h0.9M131.5 330.3h0.9M133.1 291.2h0.9M131.3 297.0h0.9M135.3 300.0h0.9M134.3 309.2h0.9M132.8 314.3h0.9M133.1 311.1h0.9M130.0 313.1h0.9M130.8 318.0h0.9M135.0 295.3h0.9M129.1 316.0h0.9M130.9 328.4h0.9M133.6 314.7h0.9M130.9 306.7h0.9M132.0 319.4h0.9M129.1 307.9h0.9M128.1 295.1h0.9M130.0 307.2h0.9M131.0 322.1h0.9M136.6 316.4h0.9M137.5 321.1h0.9M133.4 305.7h0.9M128.8 319.4h0.9M132.9 330.8h0.9M129.3 307.9h0.9M134.0 305.8h0.9M129.3 328.3h0.9M129.4 313.5h0.9M128.9 297.0h0.9M134.5 306.8h0.9M137.8 329.4h0.9M137.0 317.0h0.9M134.0 336.6h0.9M128.8 320.6h0.9M128.4 315.7h0.9M135.2 326.0h0.9M132.9 304.4h0.9M130.1 326.2h0.9M131.3 311.2h0.9M129.0 309.1h0.9M137.2 317.5h0.9M129.9 306.3h0.9M128.3 297.7h0.9M128.6 300.7h0.9M135.0 319.1h0.9M129.2 316.3h0.9M132.4 313.5h0.9M128.4 321.8h0.9M132.2 300.8h0.9M131.3 307.1h0.9M129.2 333.6h0.9M129.8 300.1h0.9M128.4 329.0h0.9M132.5 308.9h0.9M131.3 319.3h0.9M129.6 315.5h0.9M133.9 309.1h0.9M139.1 313.9h0.9M132.2 324.9h0.9M130.8 303.4h0.9M129.0 300.1h0.9M132.2 323.6h0.9M134.8 307.3h0.9M129.3 310.3h0.9M134.2 310.0h0.9M134.6 307.0h0.9M132.9 289.1h0.9M130.3 311.2h0.9M130.7 306.5h0.9M136.2 295.0h0.9M130.7 305.2h0.9M135.6 315.5h0.9M133.6 334.9h0.9M130.8 305.4h0.9M131.3 329.8h0.9M135.8 306.6h0.9M134.2 318.5h0.9M131.0 309.2h0.9M131.7 322.2h0.9M128.4 314.3h0.9M131.6 307.4h0.9M131.9 292.5h0.9M136.2 325.3h0.9M130.1 293.1h0.9M130.0 304.6h0.9M133.3 335.4h0.9M132.8 315.6h0.9M133.0 313.6h0.9M131.1 314.2h0.9M130.2 315.7h0.9M137.4 308.1h0.9M131.9 316.9h0.9M129.8 310.4h0.9M132.9 308.2h0.9M133.5 318.6h0.9M131.4 320.7h0.9M135.9 317.1h0.9M134.4 324.8h0.9M128.7 336.7h0.9M131.4 334.8h0.9M136.6 313.9h0.9M130.2 298.5h0.9M130.6 327.4h0.9M130.8 314.1h0.9M129.9 322.6h0.9M131.4 308.1h0.9M130.5 323.7h0.9M128.8 298.3h0.9M132.3 314.9h0.9M129.3 295.4h0.9M131.8 338.8h0.9M129.7 309.4h0.9M133.8 329.2h0.9M133.1 325.3h0.9M131.3 330.5h0.9M130.1 298.3h0.9M129.8 317.7h0.9M129.4 329.8h0.9M130.5 310.5h0.9M133.0 317.9h0.9M132.5 310.1h0.9M133.5 309.0h0.9M128.2 330.6h0.9M129.6 303.0h0.9M128.4 313.4h0.9M135.6 320.4h0.9M128.7 313.5h0.9M132.7 323.8h0.9M133.6 287.5h0.9M132.4 327.6h0.9M132.5 297.8h0.9M128.8 310.2h0.9M133.3 308.6h0.9M129.6 319.0h0.9M135.0 310.6h0.9M128.2 307.5h0.9M128.2 321.8h0.9M129.5 339.4h0.9M132.1 305.2h0.9M130.2 304.5h0.9M138.0 305.5h0.9M130.7 297.3h0.9M135.8 297.4h0.9M133.5 306.9h0.9M129.2 322.1h0.9M129.9 306.4h0.9M132.3 302.4h0.9M128.0 311.5h0.9M131.1 302.7h0.9M135.2 332.6h0.9M140.2 313.3h0.9M135.5 291.3h0.9M135.7 305.7h0.9M132.1 301.2h0.9M137.1 301.6h0.9M135.1 306.1h0.9M132.8 305.2h0.9M129.6 304.2h0.9M132.0 296.3h0.9M132.6 317.4h0.9M133.3 301.8h0.9M137.3 299.6h0.9M130.1 322.9h0.9M131.5 328.0h0.9M134.2 298.2h0.9M136.1 310.5h0.9M128.3 319.7h0.9M133.1 324.3h0.9M133.4 306.7h0.9M129.0 316.3h0.9M128.8 307.1h0.9M134.3 289.5h0.9M131.2 324.3h0.9M128.9 311.7h0.9M130.4 317.9h0.9M128.0 309.9h0.9M132.6 301.4h0.9M131.4 306.3h0.9M130.8 316.8h0.9M128.7 296.3h0.9M128.8 332.2h0.9M130.0 341.6h0.9M132.7 324.2h0.9M131.9 307.0h0.9M129.4 320.3h0.9M129.2 314.9h0.9M129.4 310.2h0.9M138.5 324.0h0.9M128.8 313.8h0.9M131.4 331.5h0.9M129.4 316.7h0.9M130.3 294.2h0.9M131.4 310.5h0.9M133.4 312.7h0.9M128.1 305.3h0.9M130.5 297.0h0.9M132.2 311.7h0.9M128.9 312.3h0.9M130.8 292.0h0.9M128.1 319.8h0.9M131.9 311.2h0.9M130.3 326.6h0.9M129.1 334.3h0.9M129.2 304.5h0.9M128.3 303.5h0.9M135.7 327.5h0.9M129.2 326.5h0.9M129.7 316.7h0.9M131.4 322.0h0.9M131.2 308.8h0.9M133.1 312.4h0.9M130.9 312.7h0.9M133.2 285.6h0.9M129.7 322.2h0.9M132.2 322.7h0.9M129.0 301.0h0.9M134.0 305.8h0.9M130.7 316.6h0.9M129.4 321.9h0.9M128.2 312.9h0.9M129.0 306.9h0.9M136.1 318.1h0.9M133.3 314.3h0.9M130.8 300.1h0.9M128.5 308.7h0.9M133.8 308.1h0.9M134.3 321.2h0.9M133.5 296.1h0.9M136.3 302.5h0.9M134.2 307.8h0.9M133.3 313.1h0.9M128.5 342.9h0.9M133.2 310.5h0.9M128.2 326.1h0.9M133.1 322.6h0.9M128.6 329.1h0.9M129.2 334.7h0.9M132.9 320.1h0.9M130.7 300.5h0.9M131.2 308.3h0.9M130.6 331.8h0.9M132.8 340.1h0.9M133.5 329.0h0.9M133.0 321.5h0.9M130.8 302.2h0.9M132.0 314.0h0.9M130.1 316.5h0.9M132.4 324.5h0.9M141.9 323.7h0.9M128.8 301.6h0.9M131.9 327.8h0.9M132.4 305.6h0.9M135.0 316.3h0.9M130.7 321.1h0.9M130.0 321.7h0.9M134.3 319.4h0.9M130.1 305.9h0.9M128.6 311.1h0.9M132.1 324.7h0.9M131.9 306.9h0.9M134.0 297.8h0.9M130.1 313.0h0.9M130.0 301.3h0.9M128.8 312.8h0.9M129.6 299.1h0.9M135.9 307.1h0.9M137.8 308.0h0.9M131.7 324.8h0.9M128.6 301.5h0.9M137.5 297.5h0.9M130.4 314.1h0.9M133.1 323.2h0.9M128.8 301.0h0.9M130.4 319.1h0.9M128.4 312.8h0.9M133.4 319.0h0.9M130.5 288.9h0.9M130.2 313.8h0.9M128.4 309.4h0.9M129.0 315.2h0.9M128.4 303.9h0.9M129.1 311.1h0.9M130.7 312.3h0.9M128.0 330.0h0.9M136.5 315.1h0.9M130.0 313.5h0.9M129.8 317.0h0.9M142.9 330.6h0.9M133.2 303.9h0.9M128.1 293.8h0.9M138.8 298.4h0.9M130.2 303.9h0.9M132.8 313.7h0.9M130.3 323.0h0.9M132.6 303.1h0.9M128.5 299.5h0.9M132.1 323.9h0.9M131.4 326.2h0.9M128.6 302.6h0.9M128.5 322.2h0.9M136.0 310.1h0.9M134.5 306.2h0.9M132.9 310.8h0.9M133.0 301.5h0.9M131.9 290.6h0.9M135.3 294.3h0.9M137.5 302.7h0.9M133.6 316.2h0.9M129.7 317.5h0.9M137.2 323.4h0.9M134.1 302.2h0.9M137.8 312.0h0.9M132.0 293.8h0.9M130.7 299.7h0.9M129.6 325.5h0.9M133.4 310.6h0.9M134.8 336.5h0.9M130.8 321.1h0.9M130.0 306.3h0.9M134.2 303.4h0.9M131.5 329.2h0.9M132.6 325.1h0.9M133.1 339.0h0.9M129.4 316.6h0.9M130.9 298.9h0.9M131.2 289.6h0.9M130.3 307.4h0.9M131.0 312.0h0.9M128.4 293.4h0.9M131.6 321.3h0.9M132.6 324.9h0.9M131.2 299.7h0.9M136.9 309.1h0.9M129.5 294.2h0.9M128.9 325.4h0.9M132.4 300.8h0.9M130.5 297.6h0.9M133.8 299.0h0.9M128.2 289.9h0.9M129.3 326.0h0.9M137.5 320.5h0.9M128.0 296.4h0.9M133.9 300.7h0.9M130.1 311.3h0.9M129.0 313.7h0.9M129.2 298.5h0.9M130.9 329.7h0.9M136.4 320.5h0.9M128.1 338.4h0.9M131.1 291.7h0.9M134.7 321.6h0.9M128.5 315.1h0.9M131.6 308.6h0.9M131.3 297.2h0.9M135.6 318.8h0.9M131.9 305.6h0.9M136.6 329.9h0.9M130.9 326.7h0.9M130.4 324.2h0.9M130.8 288.3h0.9M133.4 316.5h0.9M131.4 335.2h0.9M132.1 336.3h0.9M128.1 328.5h0.9M131.0 327.2h0.9M128.6 302.3h0.9M130.0 331.5h0.9M131.4 336.9h0.9M134.2 317.9h0.9M135.0 319.1h0.9M131.2 310.5h0.9M134.9 314.8h0.9M130.3 308.4h0.9M132.2 318.6h0.9M129.0 310.1h0.9M128.3 292.5h0.9M128.9 304.3h0.9M135.1 317.7h0.9M128.2 315.1h0.9M128.5 331.4h0.9M131.1 324.9h0.9M131.8 329.3h0.9M131.2 311.7h0.9M131.1 326.4h0.9M131.4 303.1h0.9M131.0 303.6h0.9M128.3 324.0h0.9M129.1 315.5h0.9M129.9 302.0h0.9M129.6 324.8h0.9M132.7 331.4h0.9M132.0 322.4h0.9M137.7 329.5h0.9M129.8 324.5h0.9M129.3 324.5h0.9M133.6 301.9h0.9M131.0 288.0h0.9M131.6 307.9h0.9M130.8 305.1h0.9M132.9 297.7h0.9M134.3 313.8h0.9M134.0 303.0h0.9M131.3 312.3h0.9M129.4 300.6h0.9M130.1 308.9h0.9M129.8 331.8h0.9M133.6 298.8h0.9M131.0 289.5h0.9M133.9 330.7h0.9M129.2 322.4h0.9M128.6 311.8h0.9M137.1 307.0h0.9M130.5 316.3h0.9M129.9 307.5h0.9M131.7 324.9h0.9M128.3 308.3h0.9M131.2 304.0h0.9M132.8 319.5h0.9M134.8 301.7h0.9M134.1 319.5h0.9M131.9 296.8h0.9M131.0 305.2h0.9M139.8 314.6h0.9M133.1 303.1h0.9M130.7 325.1h0.9M138.4 311.1h0.9M133.9 315.0h0.9M128.8 319.6h0.9M132.5 313.4h0.9M132.6 286.3h0.9M129.0 315.5h0.9M129.3 316.6h0.9M130.4 302.9h0.9M130.9 297.9h0.9M128.3 293.8h0.9M128.2 312.5h0.9M130.9 312.6h0.9M131.1 309.4h0.9M134.4 338.6h0.9M132.0 311.9h0.9M138.0 314.3h0.9M130.7 291.5h0.9M134.2 316.2h0.9M134.0 324.3h0.9M138.8 300.5h0.9M132.1 339.5h0.9M129.5 304.8h0.9M132.7 314.1h0.9M133.0 307.3h0.9M131.1 307.1h0.9M131.7 323.4h0.9M135.0 283.5h0.9M130.2 328.4h0.9M129.1 297.7h0.9M134.4 305.3h0.9M135.2 299.5h0.9M135.0 309.2h0.9M143.5 295.8h0.9M132.3 309.7h0.9M129.3 317.5h0.9M135.6 332.6h0.9M133.8 311.2h0.9M134.0 319.9h0.9M133.5 323.8h0.9M130.2 302.0h0.9M130.8 313.2h0.9M128.5 336.6h0.9M129.6 317.0h0.9M129.1 296.4h0.9M134.8 302.9h0.9M131.4 312.6h0.9M129.5 298.8h0.9M132.4 320.6h0.9M128.1 297.5h0.9M131.1 316.6h0.9M135.2 292.5h0.9M133.8 301.0h0.9M132.3 315.5h0.9M130.4 320.0h0.9M134.1 299.6h0.9M132.2 292.5h0.9M132.3 319.5h0.9M130.7 299.1h0.9M128.7 317.4h0.9M132.7 329.2h0.9M130.2 320.6h0.9M133.4 292.3h0.9M130.2 328.4h0.9M137.4 326.8h0.9M129.4 304.5h0.9M128.8 306.7h0.9M129.8 330.9h0.9M138.3 316.4h0.9M132.5 317.9h0.9M136.2 326.6h0.9M131.0 319.3h0.9M129.1 330.5h0.9M128.5 314.4h0.9M132.1 314.0h0.9M129.0 308.5h0.9M137.5 328.3h0.9M132.6 296.9h0.9M141.4 324.1h0.9M135.1 304.7h0.9M138.2 288.3h0.9M128.9 325.3h0.9M131.7 318.1h0.9M131.1 316.2h0.9M129.4 308.4h0.9M133.6 312.2h0.9M131.4 304.2h0.9M132.2 330.1h0.9M130.6 330.5h0.9M128.6 312.0h0.9M137.8 312.8h0.9M135.2 316.4h0.9M128.7 324.5h0.9M132.7 315.6h0.9M128.3 306.7h0.9M137.9 309.6h0.9M132.6 316.4h0.9M128.7 310.8h0.9M131.0 307.6h0.9M132.4 328.8h0.9M128.7 318.2h0.9M130.9 324.7h0.9M132.6 301.2h0.9M129.3 323.7h0.9M128.0 313.1h0.9M129.4 309.5h0.9M136.5 303.9h0.9M130.1 304.5h0.9M133.5 306.6h0.9M135.1 314.3h0.9M128.5 311.7h0.9M130.5 339.1h0.9M133.1 319.1h0.9M133.8 316.0h0.9M129.1 311.7h0.9M130.6 302.4h0.9M135.8 302.3h0.9M130.7 317.5h0.9M132.2 293.0h0.9M128.0 334.1h0.9M135.3 333.4h0.9M137.0 293.5h0.9M129.3 328.7h0.9M128.5 327.3h0.9M128.8 327.7h0.9M129.3 321.8h0.9M129.1 334.4h0.9M136.3 302.4h0.9M131.7 306.9h0.9M128.4 320.9h0.9M131.1 313.6h0.9M132.4 294.2h0.9M136.5 323.6h0.9M131.1 326.4h0.9M128.8 310.1h0.9M128.1 317.9h0.9M130.7 325.4h0.9M135.8 305.7h0.9M136.4 301.6h0.9M132.8 311.0h0.9M131.9 296.8h0.9M130.0 296.3h0.9M136.7 315.8h0.9M134.6 336.8h0.9M131.5 296.8h0.9M138.1 333.9h0.9M130.0 325.5h0.9M131.9 326.1h0.9M135.9 330.2h0.9M133.0 307.5h0.9M133.7 327.7h0.9M129.0 293.3h0.9M135.7 302.6h0.9M128.4 317.3h0.9M131.7 323.1h0.9M132.4 295.0h0.9M135.1 288.2h0.9M130.2 318.4h0.9M130.1 316.8h0.9M135.4 322.1h0.9M136.2 312.0h0.9M133.6 295.9h0.9M130.2 327.8h0.9M133.5 323.2h0.9M131.5 315.2h0.9M133.2 316.1h0.9M128.7 332.8h0.9M134.1 311.3h0.9M135.7 297.9h0.9M128.9 310.0h0.9M132.1 328.4h0.9M137.9 290.7h0.9M128.4 322.5h0.9M128.4 309.4h0.9M133.1 324.9h0.9M129.0 317.9h0.9M134.1 300.0h0.9M128.2 320.6h0.9M130.2 312.6h0.9M129.0 324.8h0.9M133.3 338.5h0.9M132.4 310.5h0.9M130.7 334.5h0.9M128.5 311.8h0.9M128.5 321.1h0.9M137.5 315.6h0.9M135.5 304.4h0.9M133.6 314.8h0.9M130.4 307.3h0.9M132.8 285.2h0.9M137.6 336.2h0.9M133.3 308.6h0.9M135.5 323.2h0.9M128.7 339.6h0.9M132.4 301.8h0.9M135.5 318.1h0.9M132.2 322.9h0.9M152.0 273.4h0.9M151.8 287.1h0.9M131.0 325.8h0.9M131.5 317.6h0.9M137.1 291.4h0.9M136.6 324.8h0.9M141.3 285.1h0.9M134.0 308.4h0.9M140.3 319.6h0.9M132.3 335.7h0.9M129.8 338.0h0.9M133.4 297.2h0.9M128.5 291.4h0.9M128.9 327.0h0.9M136.4 292.7h0.9M129.9 323.7h0.9M153.8 290.0h0.9M137.1 283.0h0.9M129.9 291.6h0.9M130.5 315.1h0.9M142.5 294.3h0.9M128.4 326.5h0.9M137.6 300.5h0.9M148.0 318.3h0.9M128.3 295.0h0.9M132.3 319.6h0.9M133.7 304.2h0.9M133.7 338.7h0.9M128.3 311.8h0.9M143.5 297.8h0.9M134.2 315.0h0.9M130.4 290.6h0.9M129.4 313.1h0.9M135.4 282.5h0.9M133.7 329.1h0.9M137.6 280.9h0.9M139.4 283.4h0.9M146.1 305.9h0.9M134.2 313.1h0.9M133.0 290.7h0.9M142.9 330.3h0.9M131.6 308.1h0.9M137.1 297.4h0.9M137.2 336.2h0.9M131.5 320.5h0.9M136.1 333.3h0.9M130.1 326.2h0.9M131.6 290.8h0.9M129.7 291.9h0.9M146.8 273.8h0.9M133.6 328.3h0.9M141.6 328.3h0.9M130.5 325.4h0.9M132.6 339.6h0.9M139.9 287.2h0.9M133.4 313.1h0.9M135.0 301.1h0.9M136.3 319.4h0.9M133.4 320.2h0.9M142.6 279.3h0.9M140.0 301.1h0.9M141.4 324.0h0.9M147.2 303.7h0.9M133.5 291.9h0.9M132.8 339.0h0.9M145.4 297.0h0.9M136.8 333.9h0.9M140.6 294.0h0.9M130.8 324.0h0.9M129.3 314.7h0.9M137.7 309.3h0.9M131.1 286.4h0.9M128.9 323.6h0.9M137.9 316.9h0.9M128.5 294.1h0.9M137.3 288.9h0.9M129.3 299.7h0.9M131.4 314.4h0.9M141.9 306.0h0.9M128.3 310.2h0.9M131.4 315.1h0.9M138.4 283.4h0.9M134.3 324.0h0.9M131.7 329.4h0.9M131.5 310.5h0.9M136.5 320.8h0.9M132.2 315.6h0.9M131.4 331.4h0.9M137.1 297.5h0.9M131.2 317.9h0.9M136.3 326.8h0.9M136.8 327.8h0.9M131.7 326.3h0.9M132.0 310.9h0.9M136.5 328.5h0.9M131.5 320.8h0.9M136.3 330.5h0.9M135.7 331.8h0.9M131.3 318.8h0.9M137.0 298.8h0.9M131.5 335.8h0.9M131.6 304.8h0.9M132.1 321.0h0.9M136.0 297.3h0.9M136.7 297.8h0.9M136.2 330.7h0.9M137.0 335.7h0.9M130.8 307.8h0.9M136.3 315.4h0.9M131.2 297.8h0.9M136.3 296.8h0.9M131.2 300.0h0.9M132.4 332.0h0.9M136.4 303.2h0.9M136.4 299.1h0.9M130.8 316.7h0.9M135.8 304.1h0.9M131.1 333.7h0.9M135.9 328.3h0.9M136.7 326.0h0.9M131.2 307.9h0.9M131.3 321.1h0.9M131.4 320.8h0.9M136.0 298.3h0.9M135.9 325.5h0.9M136.2 335.5h0.9M131.6 308.5h0.9M131.4 331.0h0.9M136.1 304.4h0.9M132.3 298.0h0.9M136.7 313.4h0.9M131.8 318.7h0.9M137.2 313.7h0.9M131.0 306.6h0.9M137.0 299.1h0.9M131.6 312.8h0.9M136.6 299.7h0.9M130.7 304.4h0.9M131.1 329.8h0.9M131.5 327.8h0.9M131.5 330.8h0.9M132.2 314.0h0.9M136.3 318.4h0.9M131.6 334.6h0.9M136.3 328.1h0.9M135.9 301.7h0.9M136.3 327.6h0.9M136.5 306.7h0.9M137.3 320.8h0.9M132.1 297.6h0.9M131.2 312.3h0.9M136.1 312.5h0.9M136.5 318.4h0.9M131.2 312.9h0.9M137.7 302.7h0.9M136.9 331.2h0.9M131.5 312.8h0.9M131.2 299.9h0.9M131.0 326.0h0.9M131.4 326.5h0.9M135.2 298.8h0.9M136.3 301.1h0.9M131.3 296.8h0.9M132.2 318.0h0.9M135.6 319.0h0.9M131.9 335.8h0.9M136.3 308.6h0.9M136.9 302.6h0.9M131.1 333.1h0.9M136.7 303.8h0.9M131.9 320.9h0.9M132.7 299.8h0.9M136.1 328.3h0.9M136.4 300.4h0.9M131.4 299.3h0.9M136.2 303.5h0.9M131.4 331.5h0.9M136.5 316.8h0.9M131.3 320.5h0.9M135.7 304.5h0.9M136.6 333.2h0.9M130.8 333.4h0.9M136.5 311.0h0.9M132.0 326.2h0.9M135.9 334.3h0.9M131.4 318.5h0.9M136.6 315.8h0.9M131.5 321.9h0.9M131.3 297.6h0.9M136.5 300.8h0.9M131.8 317.6h0.9M131.0 312.8h0.9M131.4 307.5h0.9M136.8 317.2h0.9M131.2 315.9h0.9M130.9 313.3h0.9M131.9 331.6h0.9M131.8 301.7h0.9M132.0 332.6h0.9M136.5 328.2h0.9M136.2 306.6h0.9M132.2 319.8h0.9M132.1 326.8h0.9M136.9 318.6h0.9M136.3 302.9h0.9M136.6 310.9h0.9M136.1 318.2h0.9M136.0 323.9h0.9M131.5 315.3h0.9M136.7 321.0h0.9M131.8 325.7h0.9M136.5 327.3h0.9M137.5 326.8h0.9M131.0 315.0h0.9M132.1 331.1h0.9M136.3 303.0h0.9M137.0 319.3h0.9M131.1 303.5h0.9M137.6 301.6h0.9M137.2 317.9h0.9M135.7 319.9h0.9M137.1 332.0h0.9M136.6 327.2h0.9M136.9 326.8h0.9M131.5 315.7h0.9M136.4 313.4h0.9M130.8 326.6h0.9M136.3 330.5h0.9M131.5 306.2h0.9M135.7 301.5h0.9M136.0 309.1h0.9M131.5 312.4h0.9M136.7 336.0h0.9M136.3 328.7h0.9M137.2 328.9h0.9M131.3 335.3h0.9M131.8 332.2h0.9M132.1 303.7h0.9M131.1 306.2h0.9M132.1 328.1h0.9M131.4 333.4h0.9M131.1 311.5h0.9M132.3 336.3h0.9M136.5 285.7h0.9M149.2 275.7h0.9M154.5 270.7h0.9M146.3 276.3h0.9M134.2 287.7h0.9M152.4 268.1h0.9M141.3 279.2h0.9M153.2 273.0h0.9M151.6 274.3h0.9M148.7 271.4h0.9M141.4 285.1h0.9M136.2 291.0h0.9M148.1 271.7h0.9M150.8 275.9h0.9M137.1 286.0h0.9M135.4 283.6h0.9M146.5 280.5h0.9M156.1 269.3h0.9M132.2 286.6h0.9M156.0 268.6h0.9M142.9 281.6h0.9M154.1 270.7h0.9M140.8 285.3h0.9M145.5 278.8h0.9M143.6 275.9h0.9M151.3 271.4h0.9M156.8 267.3h0.9M145.4 276.2h0.9M148.1 272.5h0.9M138.9 283.1h0.9M135.2 288.9h0.9M151.5 277.1h0.9M134.8 286.0h0.9M134.7 286.3h0.9M147.5 276.7h0.9M138.9 287.9h0.9M138.6 289.6h0.9M147.6 276.2h0.9M144.6 280.1h0.9M134.5 289.6h0.9M148.1 280.1h0.9M149.6 272.8h0.9M141.2 281.9h0.9M134.2 292.0h0.9M140.2 283.8h0.9M152.1 272.7h0.9M138.3 290.1h0.9M155.9 268.4h0.9M154.5 268.8h0.9M140.9 288.0h0.9M144.3 286.7h0.9M153.9 271.8h0.9M145.6 274.9h0.9M146.2 277.9h0.9M136.7 285.2h0.9M136.3 288.8h0.9M151.0 272.9h0.9M146.2 275.9h0.9M140.4 286.1h0.9M151.1 272.4h0.9M144.2 275.3h0.9M137.9 281.9h0.9M136.4 289.3h0.9M156.0 268.1h0.9M143.6 278.2h0.9M148.0 277.6h0.9M135.7 289.5h0.9M147.7 277.1h0.9M141.3 279.4h0.9M143.4 283.9h0.9M152.3 275.5h0.9M151.3 269.8h0.9M135.8 290.4h0.9M134.0 287.2h0.9M138.0 285.2h0.9M146.3 274.9h0.9M139.5 289.1h0.9M132.2 285.8h0.9M140.1 286.1h0.9M141.8 281.9h0.9M152.3 268.4h0.9M149.1 274.2h0.9M147.0 279.5h0.9M146.8 279.0h0.9M143.7 276.8h0.9M128.8 290.1h0.9M131.7 310.1h0.9M128.9 290.8h0.9M128.9 309.0h0.9M128.5 304.7h0.9M128.0 300.8h0.9M128.7 304.0h0.9M132.9 313.5h0.9M128.3 296.7h0.9M132.9 308.4h0.9M129.8 295.5h0.9M128.2 292.9h0.9M132.4 315.5h0.9M130.1 319.8h0.9M128.6 317.3h0.9M128.3 309.9h0.9M128.0 308.7h0.9M130.1 308.9h0.9M129.2 314.7h0.9M129.7 305.5h0.9M127.9 307.1h0.9M127.7 312.5h0.9M128.3 318.9h0.9M133.6 306.7h0.9M130.9 306.4h0.9M128.1 300.0h0.9M128.5 329.0h0.9M127.8 302.2h0.9M132.7 305.6h0.9M130.3 317.0h0.9M130.1 326.4h0.9M132.1 312.2h0.9M127.8 306.2h0.9M128.0 319.1h0.9M127.9 306.9h0.9M128.8 299.4h0.9M128.6 288.9h0.9M127.9 319.3h0.9M130.6 293.9h0.9M130.3 315.9h0.9M128.1 321.1h0.9M133.7 322.1h0.9M130.3 308.6h0.9M129.1 291.5h0.9M128.9 296.9h0.9M128.2 307.9h0.9M127.9 300.4h0.9M128.0 304.1h0.9M129.9 312.5h0.9M129.5 300.6h0.9M131.1 301.5h0.9M131.5 329.4h0.9M129.7 295.9h0.9M128.1 314.0h0.9M130.2 295.8h0.9M128.3 296.3h0.9M130.1 290.3h0.9M131.7 296.2h0.9M128.1 293.7h0.9M135.0 290.4h0.9M129.4 292.8h0.9M128.3 290.8h0.9M127.9 294.8h0.9M127.8 290.0h0.9"/>
<path stroke="#000" stroke-opacity="0.8" stroke-width="0.9" fill="none" d="M110.9 392.4h0.9M106.5 391.4h0.9M117.9 391.7h0.9M120.1 392.4h0.9M110.5 390.7h0.9M106.3 391.3h0.9M115.7 392.0h0.9M113.5 391.3h0.9M107.8 391.2h0.9M120.2 391.4h0.9M115.8 391.3h0.9M118.8 391.3h0.9M107.8 391.7h0.9M112.8 391.5h0.9M116.2 392.5h0.9M112.7 391.7h0.9M119.2 392.5h0.9M121.0 391.6h0.9M118.5 392.5h0.9M111.9 391.4h0.9M112.3 392.2h0.9M114.7 391.6h0.9M108.2 392.4h0.9M115.8 391.0h0.9M117.9 391.2h0.9M107.3 391.7h0.9M118.2 390.9h0.9M116.1 392.3h0.9M117.5 391.4h0.9M108.4 391.8h0.9M117.4 392.1h0.9M109.5 391.8h0.9M113.0 391.0h0.9M120.1 390.7h0.9M117.3 390.5h0.9M112.3 390.9h0.9M120.6 391.0h0.9M107.9 391.0h0.9M108.1 391.7h0.9M119.0 390.7h0.9"/>
<path d="M127.7 288.2L158.3 262.6L161.5 262.8L163.5 266.0L163.5 313.0L127.7 344.6z" fill="none" stroke="#f0b55a" stroke-width="0.9"/>
<text x="127.8" y="265" font-size="7.2" fill="#eeaa38" text-anchor="start" stroke="#eeaa38" stroke-width="0.2">P1(18.12%)</text>
<path d="M209.5 384.8L210.2 398.5L210.9 387.4L211.6 389.9L212.3 386.5L213.0 389.1L213.7 385.2L214.4 390.1L215.1 391.7L215.8 388.7L216.5 389.2L217.2 391.3L217.9 391.1L218.6 388.5L219.3 388.6L220.0 391.9L220.7 391.6L221.4 395.4L222.1 386.2L222.8 391.3L223.5 387.2L224.2 389.7L224.9 385.7L225.6 386.9L226.3 390.1L227.0 387.1L227.7 393.4L228.4 387.8L229.1 394.9L229.8 390.2L230.5 388.5L231.2 390.7L231.9 392.3L232.6 393.4L233.3 392.4L234.0 389.0L234.7 389.5L235.4 392.4L236.1 394.8L236.8 390.3L237.5 395.5L238.2 393.4L238.9 393.9L239.6 390.6L240.3 391.8L241.0 391.4L241.7 391.9L242.4 394.1L243.1 391.5L243.8 389.7L244.5 393.0L245.2 391.6L245.9 393.3L246.6 390.9L247.3 391.8L248.0 391.4L248.7 392.6L249.4 390.0L250.1 394.3L250.8 394.4L251.5 395.0L252.2 392.8L252.9 395.3L253.6 395.5L254.3 393.0L255.0 392.4L255.7 393.6L256.4 399.7L257.1 396.7L257.8 397.0L258.5 397.3L259.2 396.1L259.9 392.5L260.6 396.1L261.3 396.9L262.0 394.7L262.7 395.8L263.4 395.8L264.1 396.9L264.8 395.6L265.5 394.4L266.2 396.7L266.9 394.8L267.6 389.4L268.3 387.1L269.0 384.9L269.7 379.9L270.4 369.8L271.1 356.0L271.8 333.4L272.5 305.7L273.2 285.6L273.9 275.9L274.6 286.1L275.3 307.3L276.0 332.0L276.7 356.5L277.4 370.5L278.1 379.6L278.8 385.0L279.5 387.8L280.2 391.6L280.9 395.9L281.6 396.4L282.3 398.1L283.0 399.0L283.7 396.9L284.4 400.0L285.1 399.1L285.8 400.1L286.5 398.8L287.2 399.4L287.9 399.6L288.6 399.8L289.3 398.8L290.0 400.3L290.7 399.6L291.4 399.2L292.1 396.5L292.8 397.4L293.5 398.1L294.2 398.2L294.9 396.7L295.6 399.4L296.3 399.0L297.0 399.5L297.7 399.9L298.4 400.5L299.1 400.2L299.8 400.2L300.5 401.1L301.2 397.9L301.9 399.2L302.6 399.6L303.3 399.1L304.0 397.6L304.7 392.1L305.4 386.8L306.1 380.2L306.8 379.0L307.5 380.2L308.2 385.1L308.9 393.0L309.6 396.4L310.3 399.0L311.0 398.9L311.7 399.1L312.4 399.9L313.1 400.4L313.8 399.8L314.5 400.0L315.2 400.5L315.9 399.6L316.6 399.7L317.3 400.7L318.0 400.1L318.7 397.7L319.4 399.4L320.1 399.9L320.8 398.1L321.5 400.4L322.2 401.1L322.9 401.1L323.6 401.1L324.3 399.8L325.0 399.3L325.7 401.1L326.4 399.2L327.1 401.0L327.8 399.8L328.5 399.7L329.2 399.7L329.9 400.0L330.6 399.9L331.3 400.9L332.0 399.8L332.7 399.3L333.4 399.4L334.1 398.1L334.8 399.2L335.5 399.5L336.2 398.8L336.9 399.9L337.6 401.1L338.3 401.1L339.0 399.1L339.7 399.7L340.4 399.5L341.1 400.4L341.8 399.8L342.5 398.7L343.2 399.9L343.9 401.0L344.6 400.4L345.3 399.1L346.0 400.9L346.7 401.1L347.4 401.1L348.1 401.1L348.8 399.5L349.5 400.1L350.2 400.7L350.9 401.1L351.6 400.2L352.3 400.3L353.0 400.6L353.7 400.3L354.4 400.7L355.1 398.8L355.8 401.1L356.5 400.1L357.2 400.9L357.9 399.6L358.6 400.3L359.3 399.9L360.0 399.8L360.7 400.0L361.4 399.5L362.1 401.1L362.8 399.5" fill="none" stroke="#e82020" stroke-width="0.9"/>
<path d="M209.5 390.0L210.2 387.1L210.9 388.0L211.6 388.1L212.3 385.6L213.0 393.4L213.7 391.9L214.4 393.8L215.1 390.5L215.8 387.6L216.5 390.4L217.2 389.0L217.9 395.6L218.6 390.1L219.3 392.9L220.0 385.8L220.7 388.2L221.4 388.1L222.1 390.8L222.8 389.1L223.5 389.0L224.2 391.7L224.9 392.1L225.6 391.2L226.3 392.5L227.0 392.5L227.7 391.7L228.4 392.9L229.1 389.1L229.8 395.2L230.5 389.1L231.2 392.8L231.9 392.7L232.6 394.8L233.3 391.9L234.0 392.2L234.7 391.2L235.4 393.1L236.1 391.6L236.8 387.6L237.5 391.1L238.2 393.5L238.9 390.0L239.6 392.6L240.3 391.0L241.0 391.0L241.7 393.4L242.4 397.0L243.1 393.5L243.8 391.6L244.5 393.7L245.2 392.0L245.9 390.9L246.6 394.3L247.3 390.6L248.0 389.9L248.7 391.1L249.4 391.0L250.1 391.3L250.8 389.1L251.5 393.5L252.2 394.0L252.9 392.9L253.6 396.0L254.3 397.3L255.0 396.2L255.7 394.0L256.4 394.0L257.1 397.7L257.8 398.4L258.5 395.8L259.2 395.7L259.9 395.6L260.6 394.5L261.3 393.8L262.0 395.5L262.7 395.0L263.4 397.6L264.1 397.5L264.8 395.1L265.5 393.9L266.2 392.8L266.9 391.5L267.6 389.1L268.3 386.2L269.0 385.2L269.7 377.7L270.4 366.0L271.1 349.2L271.8 328.5L272.5 300.5L273.2 283.6L273.9 279.7L274.6 292.3L275.3 315.4L276.0 342.4L276.7 359.7L277.4 373.6L278.1 382.4L278.8 387.0L279.5 392.4L280.2 393.6L280.9 394.9L281.6 397.2L282.3 397.9L283.0 398.5L283.7 398.8L284.4 398.2L285.1 399.4L285.8 399.7L286.5 399.1L287.2 397.9L287.9 400.0L288.6 399.3L289.3 401.0L290.0 398.4L290.7 398.5L291.4 397.3L292.1 397.6L292.8 398.0L293.5 396.6L294.2 397.3L294.9 399.4L295.6 400.5L296.3 399.3L297.0 400.0L297.7 397.8L298.4 400.4L299.1 400.3L299.8 400.0L300.5 401.1L301.2 400.6L301.9 398.6L302.6 399.7L303.3 399.2L304.0 397.4L304.7 391.6L305.4 385.7L306.1 381.2L306.8 380.7L307.5 383.6L308.2 389.4L308.9 395.4L309.6 397.5L310.3 401.0L311.0 400.8L311.7 400.2L312.4 400.1L313.1 400.9L313.8 399.7L314.5 399.2L315.2 399.6L315.9 399.8L316.6 399.4L317.3 399.7L318.0 400.9L318.7 400.2L319.4 399.0L320.1 400.9L320.8 400.0L321.5 400.3L322.2 400.7L322.9 400.8L323.6 399.9L324.3 399.8L325.0 399.8L325.7 401.1L326.4 400.3L327.1 399.8L327.8 399.3L328.5 399.5L329.2 399.4L329.9 399.2L330.6 399.4L331.3 400.7L332.0 400.0L332.7 400.6L333.4 401.1L334.1 401.1L334.8 398.5L335.5 400.9L336.2 401.1L336.9 400.5L337.6 398.9L338.3 400.1L339.0 399.8L339.7 400.3L340.4 400.2L341.1 399.1L341.8 399.5L342.5 400.2L343.2 399.4L343.9 399.3L344.6 400.3L345.3 399.9L346.0 399.9L346.7 400.6L347.4 399.3L348.1 400.3L348.8 400.6L349.5 401.1L350.2 401.1L350.9 399.0L351.6 401.0L352.3 399.8L353.0 400.4L353.7 399.8L354.4 399.7L355.1 400.7L355.8 400.4L356.5 400.1L357.2 400.1L357.9 400.2L358.6 400.4L359.3 399.7L360.0 399.2L360.7 399.8L361.4 400.7L362.1 399.9L362.8 400.1" fill="none" stroke="#18d818" stroke-width="0.9"/>
<path d="M209.5 394.6L210.2 392.1L210.9 392.4L211.6 395.6L212.3 395.3L213.0 395.7L213.7 393.7L214.4 394.9L215.1 393.5L215.8 398.2L216.5 392.0L217.2 395.1L217.9 393.7L218.6 395.2L219.3 395.6L220.0 394.2L220.7 393.5L221.4 395.4L222.1 395.3L222.8 393.9L223.5 396.6L224.2 397.8L224.9 394.5L225.6 396.3L226.3 398.5L227.0 396.6L227.7 396.1L228.4 397.3L229.1 397.9L229.8 395.3L230.5 393.8L231.2 395.8L231.9 396.7L232.6 394.9L233.3 394.4L234.0 396.1L234.7 394.8L235.4 394.0L236.1 396.1L236.8 397.1L237.5 395.3L238.2 395.5L238.9 394.2L239.6 398.0L240.3 397.1L241.0 397.4L241.7 398.8L242.4 396.0L243.1 395.5L243.8 397.4L244.5 394.3L245.2 395.2L245.9 395.5L246.6 395.9L247.3 395.2L248.0 398.5L248.7 395.8L249.4 395.8L250.1 399.3L250.8 396.4L251.5 397.3L252.2 395.9L252.9 397.7L253.6 397.2L254.3 396.8L255.0 398.5L255.7 396.6L256.4 397.5L257.1 396.8L257.8 398.0L258.5 395.9L259.2 396.2L259.9 396.7L260.6 395.1L261.3 393.4L262.0 391.6L262.7 393.8L263.4 389.0L264.1 386.6L264.8 383.1L265.5 377.5L266.2 365.3L266.9 353.7L267.6 335.0L268.3 318.0L269.0 310.2L269.7 308.4L270.4 318.7L271.1 333.3L271.8 349.5L272.5 363.9L273.2 377.7L273.9 383.8L274.6 387.3L275.3 389.7L276.0 393.0L276.7 395.8L277.4 396.3L278.1 397.7L278.8 398.6L279.5 399.6L280.2 399.1L280.9 399.5L281.6 400.0L282.3 400.2L283.0 401.1L283.7 400.5L284.4 399.4L285.1 400.4L285.8 401.1L286.5 399.4L287.2 400.0L287.9 398.9L288.6 400.4L289.3 400.7L290.0 401.1L290.7 398.8L291.4 397.2L292.1 398.8L292.8 398.2L293.5 397.5L294.2 399.1L294.9 399.5L295.6 400.1L296.3 400.1L297.0 399.7L297.7 400.4L298.4 399.7L299.1 400.0L299.8 398.0L300.5 396.6L301.2 391.9L301.9 386.5L302.6 386.1L303.3 387.5L304.0 391.8L304.7 395.3L305.4 398.3L306.1 399.3L306.8 400.5L307.5 401.0L308.2 401.0L308.9 400.9L309.6 401.1L310.3 400.9L311.0 400.6L311.7 400.4L312.4 400.8L313.1 401.1L313.8 400.6L314.5 400.4L315.2 399.9L315.9 400.2L316.6 401.0L317.3 401.1L318.0 399.2L318.7 400.1L319.4 399.4L320.1 399.2L320.8 401.1L321.5 400.3L322.2 400.3L322.9 400.2L323.6 400.2L324.3 400.5L325.0 400.5L325.7 401.1L326.4 400.7L327.1 401.1L327.8 400.5L328.5 400.9L329.2 400.2L329.9 400.1L330.6 400.4L331.3 400.4L332.0 400.5L332.7 400.9L333.4 400.7L334.1 400.9L334.8 400.4L335.5 400.6L336.2 400.2L336.9 401.1L337.6 400.0L338.3 401.1L339.0 401.1L339.7 400.8L340.4 401.0L341.1 400.4L341.8 401.0L342.5 401.1L343.2 401.1L343.9 399.8L344.6 400.6L345.3 401.1L346.0 400.6L346.7 401.1L347.4 399.5L348.1 401.1L348.8 400.3L349.5 400.3L350.2 401.1L350.9 400.5L351.6 400.0L352.3 400.4L353.0 400.5L353.7 400.1L354.4 400.6L355.1 400.4L355.8 400.7L356.5 400.3L357.2 401.1L357.9 400.2L358.6 401.0L359.3 401.1L360.0 400.4L360.7 399.6L361.4 400.1L362.1 401.0L362.8 400.2" fill="none" stroke="#111" stroke-width="0.7"/>
<path d="M403.6 393.0V305.2H404.3V291.9H405.0V279.9H405.7V299.3H406.4V293.1H407.1V292.3H407.8V284.0H408.5V285.9H409.2V295.8H409.9V286.3H410.6V292.8H411.3V287.9H412.0V281.8H412.7V312.7H413.4V309.2H414.1V310.7H414.8V312.4H415.5V306.6H416.2V310.5H416.9V302.9H417.6V309.2H418.3V319.7H419.0V325.0H419.7V321.5H420.4V325.5H421.1V334.3H421.8V328.1H422.5V339.1H423.2V338.3H423.9V341.0H424.6V346.5H425.3V349.1H426.0V345.9H426.7V348.7H427.4V358.3H428.1V338.9H428.8V340.1H429.5V342.0H430.2V346.3H430.9V356.3H431.6V363.1H432.3V364.4H433.0V370.4H433.7V361.0H434.4V371.8H435.1V359.3H435.8V359.1H436.5V366.4H437.2V368.0H437.9V366.0H438.6V363.0H439.3V371.0H440.0V357.9H440.7V378.0H441.4V377.6H442.1V379.3H442.8V380.7H443.5V381.1H444.2V382.1H444.9V391.8H445.6V381.4H446.3V393.1H447.0V393.1H447.7V393.1H448.4V393.1H449.1V393.1H449.8V393.1H450.5V393.1H451.2V393.1H451.9V393.1H452.6V393.1H453.3V393.1H454.0V393.1H454.7V393.1H455.4V393.1H456.1V393.1H456.8V393.1H457.5V393.1H458.2V393.1H458.9V393.1H459.6V393.1H460.3V393.1H461.0V393.1H461.7V393.1H462.4V393.1H463.1V393.1H463.8V393.1H464.5V393.1H465.2V393.1H465.9V393.1H466.6V393.1H467.3V393.1H468.0V393.1H468.7V393.1H469.4V393.1H470.1V393.1H470.8V393.1H471.5V393.1H472.2V393.1H472.9V393.1H473.6V393.1H474.3V393.1H475.0V393.1H475.7V393.1H476.4V393.1H477.1V393.1H477.8V393.1H478.5V393.1H479.2V393.1H479.9V393.1H480.6V393.1H481.3V393.1H482.0V393.1H482.7V393.1H483.4V393.1H484.1V393.1H484.8V393.1H485.5V393.1H486.2V393.1H486.9V393.1H487.6V393.1H488.3V393.1H489.0V393.1H489.7V393.1H490.4V393.1H491.1V393.1H491.8V393.1H492.5V393.1H493.2V393.1H493.9V393.1H494.6V393.1H495.3V393.1H496.0V393.1H496.7V393.1H497.4V393.1H498.1V393.1H498.8V393.1H499.5V393.1H500.2V393.1H500.9V393.1H501.6V393.1H502.3V393.1H503.0V393.1H503.7V393.1H504.4V393.1H505.1V393.1H505.8V393.1H506.5V393.1H507.2V393.1H507.9V393.1H508.6V393.1H509.3V393.1H510.0V393.1H510.7V393.1H511.4V393.1H512.1V393.1H512.8V393.1H513.5V393.1H514.2V393.1H514.9V393.1H515.6V393.1H516.3V393.1H517.0V393.1H517.7V393.1H518.4V393.1H519.1V393.1H519.8V393.1H520.5V393.1H521.2V393.1H521.9V393.1H522.6V393.1H523.3V393.1H524.0V393.1H524.7V393.1H525.4V393.1H526.1V393.1H526.8V393.1H527.5V393.1H528.2V393.1H528.9V393.1H529.6V393.1H530.3V393.1H531.0V393.1H531.7V393.1H532.4V393.1H533.1V393.1H533.8V393.0z" fill="#858585" stroke="#111" stroke-width="0.7"/>
<path d="M403.6 393.0V393.1H404.3V393.1H405.0V393.1H405.7V393.1H406.4V393.1H407.1V393.1H407.8V393.1H408.5V393.1H409.2V393.1H409.9V393.1H410.6V393.1H411.3V393.1H412.0V393.1H412.7V393.1H413.4V393.1H414.1V393.1H414.8V393.1H415.5V393.1H416.2V393.1H416.9V393.1H417.6V392.1H418.3V391.0H419.0V386.4H419.7V386.6H420.4V383.0H421.1V384.4H421.8V380.4H422.5V383.1H423.2V380.4H423.9V377.6H424.6V378.5H425.3V368.9H426.0V366.4H426.7V362.5H427.4V373.5H428.1V370.2H428.8V365.2H429.5V358.7H430.2V371.9H430.9V363.8H431.6V353.0H432.3V359.5H433.0V360.4H433.7V368.2H434.4V360.2H435.1V349.4H435.8V344.6H436.5V369.3H437.2V344.2H437.9V348.0H438.6V356.0H439.3V330.7H440.0V343.8H440.7V359.2H441.4V355.7H442.1V329.0H442.8V343.8H443.5V305.1H444.2V283.5H444.9V337.8H445.6V337.7H446.3V344.3H447.0V362.3H447.7V360.8H448.4V361.0H449.1V364.8H449.8V373.3H450.5V366.9H451.2V374.0H451.9V371.9H452.6V373.2H453.3V374.1H454.0V383.8H454.7V370.8H455.4V373.9H456.1V376.0H456.8V374.7H457.5V379.3H458.2V378.8H458.9V377.1H459.6V386.7H460.3V382.5H461.0V382.4H461.7V381.9H462.4V383.0H463.1V384.1H463.8V381.7H464.5V380.9H465.2V382.2H465.9V381.3H466.6V382.8H467.3V381.1H468.0V381.2H468.7V385.8H469.4V386.7H470.1V386.6H470.8V386.4H471.5V384.8H472.2V385.5H472.9V386.3H473.6V387.9H474.3V387.8H475.0V387.8H475.7V387.5H476.4V391.8H477.1V388.0H477.8V388.0H478.5V389.6H479.2V387.6H479.9V388.6H480.6V388.9H481.3V391.1H482.0V389.4H482.7V390.0H483.4V390.1H484.1V391.9H484.8V391.5H485.5V390.8H486.2V391.5H486.9V390.2H487.6V391.6H488.3V390.8H489.0V391.1H489.7V390.2H490.4V391.4H491.1V390.8H491.8V391.6H492.5V391.9H493.2V391.3H493.9V391.0H494.6V391.7H495.3V391.1H496.0V391.3H496.7V391.5H497.4V391.5H498.1V391.5H498.8V391.8H499.5V391.5H500.2V391.4H500.9V391.9H501.6V392.6H502.3V391.4H503.0V391.9H503.7V391.5H504.4V392.0H505.1V391.6H505.8V391.8H506.5V391.8H507.2V391.8H507.9V391.6H508.6V392.3H509.3V391.4H510.0V391.5H510.7V391.7H511.4V392.3H512.1V391.6H512.8V391.8H513.5V391.4H514.2V392.0H514.9V391.9H515.6V391.6H516.3V392.5H517.0V392.0H517.7V392.0H518.4V392.6H519.1V392.2H519.8V391.9H520.5V391.9H521.2V391.6H521.9V391.8H522.6V392.4H523.3V391.8H524.0V392.0H524.7V392.0H525.4V392.4H526.1V391.6H526.8V391.7H527.5V392.1H528.2V392.3H528.9V392.4H529.6V392.4H530.3V392.0H531.0V392.6H531.7V392.0H532.4V392.3H533.1V392.2H533.8V393.0z" fill="#cbc416" stroke="#5c5a12" stroke-width="0.5"/>
<text x="17.8" y="58.7" font-size="9" fill="#111" text-anchor="start" stroke="#111" stroke-width="0.3">1</text>
<line x1="25.5" y1="55.8" x2="34.2" y2="60.5" stroke="#000" stroke-width="1.3"/>
<path d="M43.0 65.2L30.4 63.2L34.6 60.7L34.4 55.8z" fill="#000"/>
<text x="133.4" y="216.9" font-size="9" fill="#111" text-anchor="start" stroke="#111" stroke-width="0.3">3</text>
<line x1="132" y1="213.7" x2="121.3" y2="213.9" stroke="#000" stroke-width="1.3"/>
<path d="M111.3 214.0L123.2 210.0L120.8 213.9L123.4 217.6z" fill="#000"/>
<text x="12.2" y="168" font-size="9" fill="#111" text-anchor="start" stroke="#111" stroke-width="0.3">4</text>
<line x1="13.8" y1="158.5" x2="16" y2="149.3" stroke="#000" stroke-width="1.3"/>
<path d="M17.8 141.5L19.0 152.1L16.1 148.8L12.0 150.4z" fill="#000"/>
<text x="142.5" y="182.7" font-size="9" fill="#111" text-anchor="start" stroke="#111" stroke-width="0.3">5</text>
<line x1="139" y1="177.8" x2="130.3" y2="169.8" stroke="#000" stroke-width="1.3"/>
<path d="M123.0 163.0L134.5 168.2L130.0 169.5L129.1 174.1z" fill="#000"/>
</svg>
</body></html>
